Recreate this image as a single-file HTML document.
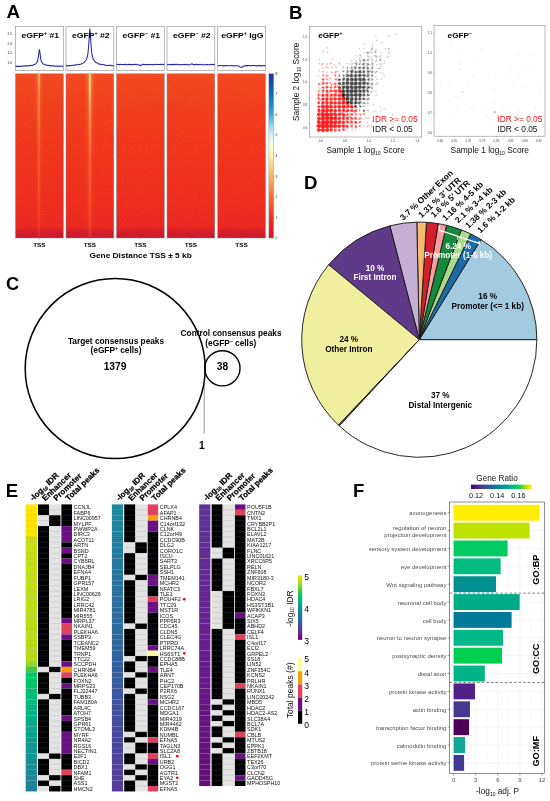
<!DOCTYPE html>
<html lang="en"><head><meta charset="utf-8"><title>Figure</title>
<style>
html,body{margin:0;padding:0;background:#fff}
body{width:550px;height:801px;overflow:hidden}
svg{display:block}
svg text{font-family:"Liberation Sans",sans-serif;fill:#000}
.b{font-weight:bold}
</style></head><body>
<svg width="550" height="801" viewBox="0 0 550 801">
<rect width="550" height="801" fill="#fff"/>
<defs>
<linearGradient id="hg" x1="0" y1="0" x2="0" y2="1"><stop offset="0" stop-color="#f34820"/><stop offset="0.08" stop-color="#f2421e"/><stop offset="0.4" stop-color="#f0351c"/><stop offset="0.8" stop-color="#ee2a1d"/><stop offset="0.93" stop-color="#ea2520"/><stop offset="0.965" stop-color="#d31a2a"/><stop offset="1" stop-color="#c81428"/></linearGradient>
<linearGradient id="st2" x1="0" y1="0" x2="1" y2="0"><stop offset="0" stop-color="#fff2b0" stop-opacity="0"/><stop offset="0.5" stop-color="#fff6c0" stop-opacity="1"/><stop offset="1" stop-color="#fff2b0" stop-opacity="0"/></linearGradient>
<linearGradient id="fade2" x1="0" y1="0" x2="0" y2="1"><stop offset="0" stop-color="#fff" stop-opacity="0.9"/><stop offset="1" stop-color="#fff" stop-opacity="0"/></linearGradient>
<mask id="mk2" maskContentUnits="objectBoundingBox"><rect width="1" height="1" fill="url(#fade2)"/></mask>
<linearGradient id="st1" x1="0" y1="0" x2="1" y2="0"><stop offset="0" stop-color="#fdb347" stop-opacity="0"/><stop offset="0.5" stop-color="#ffd468" stop-opacity="1"/><stop offset="1" stop-color="#fdb347" stop-opacity="0"/></linearGradient>
<linearGradient id="fade1" x1="0" y1="0" x2="0" y2="1"><stop offset="0" stop-color="#fff" stop-opacity="1"/><stop offset="0.2" stop-color="#fff" stop-opacity="0.62"/><stop offset="0.5" stop-color="#fff" stop-opacity="0.32"/><stop offset="1" stop-color="#fff" stop-opacity="0.12"/></linearGradient>
<mask id="mk1" maskContentUnits="objectBoundingBox"><rect width="1" height="1" fill="url(#fade1)"/></mask>
<linearGradient id="rdylbu" x1="0" y1="1" x2="0" y2="0"><stop offset="0" stop-color="#d61428"/><stop offset="0.06" stop-color="#e62024"/><stop offset="0.125" stop-color="#f03424"/><stop offset="0.25" stop-color="#fa6a34"/><stop offset="0.375" stop-color="#feb060"/><stop offset="0.5" stop-color="#fff2ac"/><stop offset="0.56" stop-color="#ffffe0"/><stop offset="0.625" stop-color="#d4f2f6"/><stop offset="0.6875" stop-color="#90d4ec"/><stop offset="0.75" stop-color="#3aa8dc"/><stop offset="0.8125" stop-color="#2088d0"/><stop offset="0.875" stop-color="#1468c0"/><stop offset="0.9375" stop-color="#1450b6"/><stop offset="1" stop-color="#222e9c"/></linearGradient>
<filter id="nz" x="0" y="0" width="100%" height="100%"><feTurbulence type="fractalNoise" baseFrequency="0.9" numOctaves="2" seed="3" result="t"/><feColorMatrix in="t" type="matrix" values="0 0 0 0 1  0 0 0 0 0.55  0 0 0 0 0.2  0.9 0 0 0 -0.33"/></filter>
</defs>
<text x="6.6" y="18.3" class="b" font-size="18.8">A</text>
<rect x="15.5" y="26.5" width="47.8" height="44.099999999999994" fill="#fff" stroke="#9a9a9a" stroke-width="0.7"/>
<path d="M15.50 66.35 L16.00 66.44 L16.50 66.15 L16.99 66.47 L17.49 66.20 L17.99 66.28 L18.49 66.45 L18.99 66.18 L19.48 66.44 L19.98 66.20 L20.48 66.39 L20.98 66.37 L21.48 66.17 L21.97 65.93 L22.47 66.30 L22.97 66.23 L23.47 65.98 L23.96 65.78 L24.46 65.97 L24.96 66.04 L25.46 65.69 L25.96 66.18 L26.45 65.70 L26.95 65.98 L27.45 66.02 L27.95 66.00 L28.45 65.84 L28.94 65.51 L29.44 65.81 L29.94 65.52 L30.44 65.42 L30.94 65.49 L31.43 65.31 L31.93 65.48 L32.43 65.38 L32.93 65.17 L33.42 64.76 L33.92 64.73 L34.42 64.60 L34.92 64.21 L35.42 63.99 L35.91 63.70 L36.41 62.92 L36.91 62.24 L37.41 61.39 L37.91 59.40 L38.40 56.46 L38.90 52.10 L39.40 49.66 L39.90 52.42 L40.40 56.21 L40.89 59.66 L41.39 61.29 L41.89 62.21 L42.39 63.28 L42.89 63.60 L43.38 64.23 L43.88 64.17 L44.38 64.35 L44.88 64.65 L45.38 64.65 L45.87 65.11 L46.37 65.02 L46.87 65.19 L47.37 65.29 L47.86 65.45 L48.36 65.31 L48.86 65.32 L49.36 65.65 L49.86 65.59 L50.35 65.98 L50.85 65.67 L51.35 65.74 L51.85 65.59 L52.35 65.72 L52.84 66.05 L53.34 66.02 L53.84 65.89 L54.34 66.28 L54.84 66.05 L55.33 66.24 L55.83 66.29 L56.33 66.34 L56.83 65.96 L57.32 66.33 L57.82 66.28 L58.32 66.21 L58.82 65.96 L59.32 66.41 L59.81 66.22 L60.31 66.17 L60.81 65.99 L61.31 66.04 L61.81 66.02 L62.30 66.36 L62.80 66.29 L63.30 66.33" fill="none" stroke="#2626a6" stroke-width="1.05" stroke-linejoin="round"/>
<line x1="14.6" x2="15.5" y1="62.50" y2="62.50" stroke="#777" stroke-width="0.35"/>
<line x1="14.6" x2="15.5" y1="53.15" y2="53.15" stroke="#777" stroke-width="0.35"/>
<line x1="14.6" x2="15.5" y1="43.80" y2="43.80" stroke="#777" stroke-width="0.35"/>
<line x1="14.6" x2="15.5" y1="34.45" y2="34.45" stroke="#777" stroke-width="0.35"/>
<line x1="39.40" x2="39.40" y1="70.6" y2="71.6" stroke="#777" stroke-width="0.35"/>
<text transform="translate(40.20 37.8) scale(1.12 1)" class="b" font-size="7.7" text-anchor="middle">eGFP<tspan dy="-2.54" font-size="4.77">+</tspan><tspan dy="2.54" font-size="7.70">&#8203;</tspan> #1</text>
<rect x="15.5" y="73.8" width="47.8" height="164.2" fill="url(#hg)"/>
<rect x="15.5" y="73.8" width="47.8" height="164.2" filter="url(#nz)" opacity="0.16"/>
<rect x="34.40" y="73.8" width="9" height="163.2" fill="url(#st1)" mask="url(#mk1)" opacity="0.3"/>
<rect x="37.20" y="73.8" width="3.4" height="163.2" fill="url(#st1)" mask="url(#mk1)" opacity="0.68"/>
<rect x="37.80" y="73.8" width="2.2" height="20" fill="url(#st2)" mask="url(#mk2)" opacity="0.4"/>
<rect x="15.5" y="73.8" width="47.8" height="164.2" fill="none" stroke="#8a8a8a" stroke-width="0.5"/>
<line x1="39.40" x2="39.40" y1="238.0" y2="239.2" stroke="#555" stroke-width="0.4"/>
<text transform="translate(39.40 246.7) scale(1.13 1)" class="b" font-size="5.7" text-anchor="middle">TSS</text>
<rect x="66.0" y="26.5" width="47.8" height="44.099999999999994" fill="#fff" stroke="#9a9a9a" stroke-width="0.7"/>
<path d="M66.00 65.53 L66.50 65.47 L67.00 65.90 L67.49 65.86 L67.99 65.81 L68.49 65.78 L68.99 65.61 L69.49 65.53 L69.98 65.68 L70.48 65.79 L70.98 65.53 L71.48 65.52 L71.97 65.37 L72.47 65.11 L72.97 65.22 L73.47 65.27 L73.97 65.16 L74.46 65.07 L74.96 65.36 L75.46 64.82 L75.96 64.82 L76.46 64.69 L76.95 64.65 L77.45 64.79 L77.95 64.69 L78.45 64.75 L78.95 64.34 L79.44 64.53 L79.94 64.39 L80.44 64.16 L80.94 64.02 L81.44 63.73 L81.93 63.69 L82.43 63.48 L82.93 63.14 L83.43 62.87 L83.92 62.39 L84.42 62.18 L84.92 61.24 L85.42 60.82 L85.92 60.37 L86.41 59.39 L86.91 58.09 L87.41 56.29 L87.91 53.71 L88.41 49.01 L88.90 42.20 L89.40 33.76 L89.90 28.85 L90.40 33.98 L90.90 42.70 L91.39 49.30 L91.89 53.63 L92.39 56.03 L92.89 58.20 L93.39 59.52 L93.88 59.92 L94.38 60.87 L94.88 61.65 L95.38 61.89 L95.88 62.57 L96.37 62.63 L96.87 62.68 L97.37 63.00 L97.87 63.33 L98.36 63.78 L98.86 63.90 L99.36 64.18 L99.86 64.00 L100.36 64.27 L100.85 64.26 L101.35 64.62 L101.85 64.79 L102.35 64.56 L102.85 64.55 L103.34 64.70 L103.84 64.80 L104.34 64.87 L104.84 64.97 L105.34 65.32 L105.83 65.21 L106.33 65.36 L106.83 65.59 L107.33 65.63 L107.82 65.53 L108.32 65.58 L108.82 65.37 L109.32 65.26 L109.82 65.58 L110.31 65.33 L110.81 65.33 L111.31 65.38 L111.81 65.73 L112.31 65.84 L112.80 65.85 L113.30 65.89 L113.80 65.91" fill="none" stroke="#2626a6" stroke-width="1.05" stroke-linejoin="round"/>
<line x1="65.1" x2="66.0" y1="62.50" y2="62.50" stroke="#777" stroke-width="0.35"/>
<line x1="65.1" x2="66.0" y1="53.15" y2="53.15" stroke="#777" stroke-width="0.35"/>
<line x1="65.1" x2="66.0" y1="43.80" y2="43.80" stroke="#777" stroke-width="0.35"/>
<line x1="65.1" x2="66.0" y1="34.45" y2="34.45" stroke="#777" stroke-width="0.35"/>
<line x1="89.90" x2="89.90" y1="70.6" y2="71.6" stroke="#777" stroke-width="0.35"/>
<text transform="translate(90.70 37.8) scale(1.12 1)" class="b" font-size="7.7" text-anchor="middle">eGFP<tspan dy="-2.54" font-size="4.77">+</tspan><tspan dy="2.54" font-size="7.70">&#8203;</tspan> #2</text>
<rect x="66.0" y="73.8" width="47.8" height="164.2" fill="url(#hg)"/>
<rect x="66.0" y="73.8" width="47.8" height="164.2" filter="url(#nz)" opacity="0.16"/>
<rect x="84.40" y="73.8" width="11" height="163.2" fill="url(#st1)" mask="url(#mk1)" opacity="0.4"/>
<rect x="87.90" y="73.8" width="4.0" height="163.2" fill="url(#st1)" mask="url(#mk1)"/>
<rect x="88.60" y="73.8" width="2.6" height="45" fill="url(#st2)" mask="url(#mk2)"/>
<rect x="66.0" y="73.8" width="47.8" height="164.2" fill="none" stroke="#8a8a8a" stroke-width="0.5"/>
<line x1="89.90" x2="89.90" y1="238.0" y2="239.2" stroke="#555" stroke-width="0.4"/>
<text transform="translate(89.90 246.7) scale(1.13 1)" class="b" font-size="5.7" text-anchor="middle">TSS</text>
<rect x="116.5" y="26.5" width="47.8" height="44.099999999999994" fill="#fff" stroke="#9a9a9a" stroke-width="0.7"/>
<path d="M116.50 64.49 L117.00 64.33 L117.50 64.37 L117.99 64.57 L118.49 64.47 L118.99 64.39 L119.49 64.79 L119.99 64.47 L120.48 64.33 L120.98 64.40 L121.48 64.42 L121.98 64.57 L122.47 64.74 L122.97 64.39 L123.47 64.65 L123.97 64.39 L124.47 64.29 L124.96 64.62 L125.46 64.61 L125.96 64.31 L126.46 64.43 L126.96 64.74 L127.45 64.77 L127.95 64.75 L128.45 64.33 L128.95 64.39 L129.45 64.76 L129.94 64.37 L130.44 64.29 L130.94 64.47 L131.44 64.64 L131.94 64.53 L132.43 64.76 L132.93 64.83 L133.43 64.29 L133.93 64.47 L134.43 64.54 L134.92 64.31 L135.42 64.59 L135.92 64.35 L136.42 64.37 L136.91 64.72 L137.41 64.70 L137.91 64.69 L138.41 64.76 L138.91 64.71 L139.40 65.16 L139.90 65.39 L140.40 65.70 L140.90 65.11 L141.40 65.11 L141.89 64.78 L142.39 64.57 L142.89 64.34 L143.39 64.60 L143.89 64.32 L144.38 64.56 L144.88 64.54 L145.38 64.54 L145.88 64.83 L146.38 64.59 L146.87 64.73 L147.37 64.84 L147.87 64.39 L148.37 64.74 L148.86 64.57 L149.36 64.43 L149.86 64.53 L150.36 64.65 L150.86 64.55 L151.35 64.53 L151.85 64.40 L152.35 64.78 L152.85 64.52 L153.35 64.70 L153.84 64.68 L154.34 64.40 L154.84 64.55 L155.34 64.52 L155.84 64.41 L156.33 64.33 L156.83 64.59 L157.33 64.49 L157.83 64.55 L158.32 64.55 L158.82 64.45 L159.32 64.58 L159.82 64.54 L160.32 64.57 L160.81 64.31 L161.31 64.45 L161.81 64.35 L162.31 64.31 L162.81 64.69 L163.30 64.52 L163.80 64.31 L164.30 64.37" fill="none" stroke="#2626a6" stroke-width="1.05" stroke-linejoin="round"/>
<line x1="115.6" x2="116.5" y1="62.50" y2="62.50" stroke="#777" stroke-width="0.35"/>
<line x1="115.6" x2="116.5" y1="53.15" y2="53.15" stroke="#777" stroke-width="0.35"/>
<line x1="115.6" x2="116.5" y1="43.80" y2="43.80" stroke="#777" stroke-width="0.35"/>
<line x1="115.6" x2="116.5" y1="34.45" y2="34.45" stroke="#777" stroke-width="0.35"/>
<line x1="140.40" x2="140.40" y1="70.6" y2="71.6" stroke="#777" stroke-width="0.35"/>
<text transform="translate(141.20 37.8) scale(1.12 1)" class="b" font-size="7.7" text-anchor="middle">eGFP<tspan dy="-2.54" font-size="4.77">−</tspan><tspan dy="2.54" font-size="7.70">&#8203;</tspan> #1</text>
<rect x="116.5" y="73.8" width="47.8" height="164.2" fill="url(#hg)"/>
<rect x="116.5" y="73.8" width="47.8" height="164.2" filter="url(#nz)" opacity="0.16"/>
<rect x="116.5" y="73.8" width="47.8" height="164.2" fill="none" stroke="#8a8a8a" stroke-width="0.5"/>
<line x1="140.40" x2="140.40" y1="238.0" y2="239.2" stroke="#555" stroke-width="0.4"/>
<text transform="translate(140.40 246.7) scale(1.13 1)" class="b" font-size="5.7" text-anchor="middle">TSS</text>
<rect x="167.0" y="26.5" width="47.8" height="44.099999999999994" fill="#fff" stroke="#9a9a9a" stroke-width="0.7"/>
<path d="M167.00 64.76 L167.50 64.77 L168.00 64.59 L168.49 64.80 L168.99 64.70 L169.49 64.80 L169.99 64.46 L170.49 64.40 L170.98 64.33 L171.48 64.75 L171.98 64.44 L172.48 64.47 L172.97 64.76 L173.47 64.34 L173.97 64.29 L174.47 64.71 L174.97 64.30 L175.46 64.61 L175.96 64.56 L176.46 64.28 L176.96 64.37 L177.46 64.75 L177.95 64.60 L178.45 64.55 L178.95 64.65 L179.45 64.73 L179.95 64.66 L180.44 64.43 L180.94 64.83 L181.44 64.53 L181.94 64.59 L182.44 64.83 L182.93 64.65 L183.43 64.49 L183.93 64.55 L184.43 64.80 L184.93 64.28 L185.42 64.40 L185.92 64.29 L186.42 64.78 L186.92 64.69 L187.41 64.82 L187.91 64.41 L188.41 64.73 L188.91 64.90 L189.41 64.88 L189.90 64.62 L190.40 64.39 L190.90 64.25 L191.40 64.05 L191.90 63.74 L192.39 64.24 L192.89 64.36 L193.39 64.77 L193.89 64.80 L194.39 64.45 L194.88 64.60 L195.38 64.80 L195.88 64.31 L196.38 64.48 L196.88 64.39 L197.37 64.79 L197.87 64.36 L198.37 64.80 L198.87 64.35 L199.36 64.58 L199.86 64.65 L200.36 64.53 L200.86 64.32 L201.36 64.69 L201.85 64.77 L202.35 64.54 L202.85 64.70 L203.35 64.78 L203.85 64.75 L204.34 64.81 L204.84 64.72 L205.34 64.66 L205.84 64.67 L206.34 64.41 L206.83 64.67 L207.33 64.56 L207.83 64.74 L208.33 64.64 L208.82 64.83 L209.32 64.70 L209.82 64.83 L210.32 64.43 L210.82 64.53 L211.31 64.73 L211.81 64.57 L212.31 64.31 L212.81 64.78 L213.31 64.38 L213.80 64.60 L214.30 64.56 L214.80 64.37" fill="none" stroke="#2626a6" stroke-width="1.05" stroke-linejoin="round"/>
<line x1="166.1" x2="167.0" y1="62.50" y2="62.50" stroke="#777" stroke-width="0.35"/>
<line x1="166.1" x2="167.0" y1="53.15" y2="53.15" stroke="#777" stroke-width="0.35"/>
<line x1="166.1" x2="167.0" y1="43.80" y2="43.80" stroke="#777" stroke-width="0.35"/>
<line x1="166.1" x2="167.0" y1="34.45" y2="34.45" stroke="#777" stroke-width="0.35"/>
<line x1="190.90" x2="190.90" y1="70.6" y2="71.6" stroke="#777" stroke-width="0.35"/>
<text transform="translate(191.70 37.8) scale(1.12 1)" class="b" font-size="7.7" text-anchor="middle">eGFP<tspan dy="-2.54" font-size="4.77">−</tspan><tspan dy="2.54" font-size="7.70">&#8203;</tspan> #2</text>
<rect x="167.0" y="73.8" width="47.8" height="164.2" fill="url(#hg)"/>
<rect x="167.0" y="73.8" width="47.8" height="164.2" filter="url(#nz)" opacity="0.16"/>
<rect x="167.0" y="73.8" width="47.8" height="164.2" fill="none" stroke="#8a8a8a" stroke-width="0.5"/>
<line x1="190.90" x2="190.90" y1="238.0" y2="239.2" stroke="#555" stroke-width="0.4"/>
<text transform="translate(190.90 246.7) scale(1.13 1)" class="b" font-size="5.7" text-anchor="middle">TSS</text>
<rect x="217.7" y="26.5" width="47.8" height="44.099999999999994" fill="#fff" stroke="#9a9a9a" stroke-width="0.7"/>
<path d="M217.70 65.74 L218.20 65.68 L218.70 65.57 L219.19 65.41 L219.69 65.77 L220.19 65.49 L220.69 65.56 L221.19 65.60 L221.68 65.73 L222.18 65.76 L222.68 65.93 L223.18 65.89 L223.67 65.92 L224.17 65.54 L224.67 65.82 L225.17 65.87 L225.67 65.91 L226.16 65.49 L226.66 65.47 L227.16 65.58 L227.66 65.80 L228.16 65.82 L228.65 65.80 L229.15 65.70 L229.65 65.87 L230.15 65.71 L230.65 65.81 L231.14 65.42 L231.64 65.41 L232.14 65.65 L232.64 65.82 L233.14 65.42 L233.63 65.79 L234.13 65.76 L234.63 65.96 L235.13 65.75 L235.62 65.69 L236.12 65.68 L236.62 65.85 L237.12 65.69 L237.62 65.99 L238.11 65.89 L238.61 66.09 L239.11 66.09 L239.61 66.56 L240.11 66.91 L240.60 67.10 L241.10 67.41 L241.60 67.31 L242.10 67.24 L242.60 66.85 L243.09 66.55 L243.59 66.18 L244.09 65.82 L244.59 65.92 L245.09 65.86 L245.58 65.44 L246.08 65.89 L246.58 65.56 L247.08 65.60 L247.57 65.94 L248.07 65.49 L248.57 65.46 L249.07 65.61 L249.57 65.55 L250.06 65.50 L250.56 65.88 L251.06 65.67 L251.56 65.68 L252.06 65.49 L252.55 65.51 L253.05 65.50 L253.55 65.63 L254.05 65.46 L254.55 65.58 L255.04 65.57 L255.54 65.83 L256.04 65.94 L256.54 65.88 L257.04 65.76 L257.53 65.90 L258.03 65.49 L258.53 65.65 L259.03 65.61 L259.52 65.61 L260.02 65.58 L260.52 65.69 L261.02 65.96 L261.52 65.51 L262.01 65.54 L262.51 65.68 L263.01 65.66 L263.51 65.59 L264.01 65.92 L264.50 65.55 L265.00 65.82 L265.50 65.92" fill="none" stroke="#2626a6" stroke-width="1.05" stroke-linejoin="round"/>
<line x1="216.79999999999998" x2="217.7" y1="62.50" y2="62.50" stroke="#777" stroke-width="0.35"/>
<line x1="216.79999999999998" x2="217.7" y1="53.15" y2="53.15" stroke="#777" stroke-width="0.35"/>
<line x1="216.79999999999998" x2="217.7" y1="43.80" y2="43.80" stroke="#777" stroke-width="0.35"/>
<line x1="216.79999999999998" x2="217.7" y1="34.45" y2="34.45" stroke="#777" stroke-width="0.35"/>
<line x1="241.60" x2="241.60" y1="70.6" y2="71.6" stroke="#777" stroke-width="0.35"/>
<text transform="translate(242.40 37.8) scale(1.12 1)" class="b" font-size="7.7" text-anchor="middle">eGFP<tspan dy="-2.54" font-size="4.77">+</tspan><tspan dy="2.54" font-size="7.70">&#8203;</tspan> IgG</text>
<rect x="217.7" y="73.8" width="47.8" height="164.2" fill="url(#hg)"/>
<rect x="217.7" y="73.8" width="47.8" height="164.2" filter="url(#nz)" opacity="0.16"/>
<rect x="217.7" y="73.8" width="47.8" height="164.2" fill="none" stroke="#8a8a8a" stroke-width="0.5"/>
<line x1="241.60" x2="241.60" y1="238.0" y2="239.2" stroke="#555" stroke-width="0.4"/>
<text transform="translate(241.60 246.7) scale(1.13 1)" class="b" font-size="5.7" text-anchor="middle">TSS</text>
<text x="12.2" y="63.50" font-size="3.3" text-anchor="end" style="fill:#222">1.0</text>
<text x="12.2" y="54.15" font-size="3.3" text-anchor="end" style="fill:#222">1.5</text>
<text x="12.2" y="44.80" font-size="3.3" text-anchor="end" style="fill:#222">2.0</text>
<text x="12.2" y="35.45" font-size="3.3" text-anchor="end" style="fill:#222">2.5</text>
<rect x="268.9" y="73.8" width="4.7" height="164.2" fill="url(#rdylbu)" stroke="#888" stroke-width="0.4"/>
<line x1="273.6" x2="274.5" y1="238.00" y2="238.00" stroke="#555" stroke-width="0.35"/>
<text x="275.6" y="239.10" font-size="3.4" style="fill:#222">0</text>
<line x1="273.6" x2="274.5" y1="217.47" y2="217.47" stroke="#555" stroke-width="0.35"/>
<text x="275.6" y="218.57" font-size="3.4" style="fill:#222">1</text>
<line x1="273.6" x2="274.5" y1="196.95" y2="196.95" stroke="#555" stroke-width="0.35"/>
<text x="275.6" y="198.05" font-size="3.4" style="fill:#222">2</text>
<line x1="273.6" x2="274.5" y1="176.43" y2="176.43" stroke="#555" stroke-width="0.35"/>
<text x="275.6" y="177.53" font-size="3.4" style="fill:#222">3</text>
<line x1="273.6" x2="274.5" y1="155.90" y2="155.90" stroke="#555" stroke-width="0.35"/>
<text x="275.6" y="157.00" font-size="3.4" style="fill:#222">4</text>
<line x1="273.6" x2="274.5" y1="135.38" y2="135.38" stroke="#555" stroke-width="0.35"/>
<text x="275.6" y="136.47" font-size="3.4" style="fill:#222">5</text>
<line x1="273.6" x2="274.5" y1="114.85" y2="114.85" stroke="#555" stroke-width="0.35"/>
<text x="275.6" y="115.95" font-size="3.4" style="fill:#222">6</text>
<line x1="273.6" x2="274.5" y1="94.33" y2="94.33" stroke="#555" stroke-width="0.35"/>
<text x="275.6" y="95.43" font-size="3.4" style="fill:#222">7</text>
<line x1="273.6" x2="274.5" y1="73.80" y2="73.80" stroke="#555" stroke-width="0.35"/>
<text x="275.6" y="74.90" font-size="3.4" style="fill:#222">8</text>
<text transform="translate(140.6 258.2) scale(1.1 1)" class="b" font-size="7.6" text-anchor="middle">Gene Distance TSS ± 5 kb</text>
<text x="288.9" y="18.8" class="b" font-size="18.6">B</text>
<rect x="309.4" y="26.6" width="112.30" height="110.40" fill="#fff" stroke="#8c8c8c" stroke-width="0.6"/>
<rect x="434.1" y="25.5" width="110.90" height="110.70" fill="#fff" stroke="#8c8c8c" stroke-width="0.6"/>
<clipPath id="cb1"><rect x="309.9" y="27.1" width="111.30" height="109.40"/></clipPath>
<g clip-path="url(#cb1)" fill="none" stroke-linecap="round" stroke-width="1.65">
<path d="M338.5 122.2h0M331.1 125.8h0M322.7 129.7h0M327.1 118.9h0M323.0 122.5h0M327.1 94.6h0M343.6 111.3h0M332.1 126.4h0M322.7 126.5h0M327.2 122.9h0M343.0 117.9h0M338.3 114.7h0M322.4 122.3h0M322.2 117.8h0M317.4 126.2h0M331.4 123.0h0M322.6 102.4h0M335.7 118.5h0M323.9 129.8h0M327.2 122.2h0M326.4 118.9h0M327.7 122.1h0M325.8 113.8h0M340.0 107.2h0M331.4 110.8h0M323.1 79.0h0M322.3 118.5h0M334.7 113.4h0M335.8 126.6h0M323.4 114.1h0M327.7 105.6h0M330.3 118.4h0M323.1 125.8h0M338.8 122.2h0M327.0 117.8h0M343.4 102.0h0M324.2 126.4h0M331.3 97.9h0M326.1 118.6h0M322.4 123.0h0M338.9 111.5h0M327.2 125.2h0M335.4 121.8h0M323.2 115.4h0M318.6 126.4h0M318.5 130.0h0M343.2 100.3h0M327.2 115.1h0M331.7 127.4h0M319.1 130.1h0M326.9 123.5h0M319.0 114.6h0M339.1 98.1h0M323.3 103.5h0M331.1 99.1h0M340.0 88.3h0M318.5 129.8h0M336.3 103.7h0M322.7 106.2h0M318.7 123.0h0M323.3 110.5h0M319.0 121.7h0M323.0 121.3h0M327.2 119.1h0M327.6 122.2h0M344.7 111.3h0M317.7 130.1h0M320.5 129.6h0M331.8 125.9h0M326.1 95.4h0M322.4 114.2h0M319.3 130.6h0M323.2 125.2h0M322.2 107.2h0M331.0 121.7h0M351.2 119.8h0M327.8 122.8h0M330.3 117.6h0M326.9 122.1h0M343.5 95.2h0M339.8 94.8h0M318.3 129.7h0M322.0 126.0h0M327.3 124.1h0M338.9 102.8h0M323.0 104.9h0M330.5 87.3h0M335.5 114.1h0M320.0 125.4h0M322.2 118.8h0M334.8 118.4h0M322.1 121.8h0M327.2 99.9h0M318.6 129.9h0M322.8 126.1h0M331.0 118.0h0M326.5 118.7h0M331.5 117.3h0M331.2 118.8h0M346.6 111.1h0M323.4 117.3h0M327.1 102.2h0M342.2 91.6h0M327.3 94.8h0M323.6 95.0h0M332.1 106.8h0M327.0 91.4h0M328.0 118.2h0M325.9 118.7h0M328.1 126.4h0M322.5 118.3h0M334.2 91.6h0M343.6 111.2h0M323.1 126.8h0M343.3 125.9h0M330.7 106.3h0M352.2 107.4h0M327.4 89.8h0M335.5 114.4h0M319.8 114.5h0M324.3 113.9h0M320.1 127.3h0M336.5 115.0h0M322.7 127.4h0M327.8 114.3h0M320.0 119.2h0M343.7 125.3h0M331.2 106.5h0M324.2 99.0h0M322.7 83.0h0M331.0 121.9h0M328.3 117.4h0M361.2 118.2h0M340.1 118.0h0M334.9 121.8h0M343.4 116.6h0M319.5 126.3h0M331.8 83.0h0M334.6 107.2h0M343.4 126.0h0M324.2 114.6h0M334.8 122.5h0M335.4 126.4h0M323.2 125.3h0M326.9 118.5h0M331.4 117.7h0M326.4 117.7h0M343.3 129.1h0M348.6 105.5h0M323.0 125.9h0M324.4 118.2h0M331.7 85.3h0M335.7 93.9h0M324.3 129.7h0M322.8 118.6h0M330.7 112.0h0M318.6 125.4h0M338.2 102.7h0M338.5 131.0h0M331.7 125.6h0M339.4 114.8h0M335.5 111.6h0M328.3 114.2h0M334.3 118.2h0M323.2 99.0h0M342.4 110.0h0M326.8 129.7h0M347.8 110.6h0M330.5 117.7h0M318.6 121.2h0M319.8 130.5h0M331.4 126.4h0M327.4 116.9h0M339.8 107.6h0M318.9 114.5h0M330.1 115.6h0M329.8 122.1h0M327.4 113.4h0M355.5 111.4h0M334.9 126.4h0M331.2 122.6h0M335.2 113.9h0M331.2 102.9h0M322.6 117.3h0M339.8 114.5h0M324.7 118.4h0M331.2 113.9h0M319.9 125.7h0M327.9 122.0h0M330.2 130.3h0M326.1 119.1h0M327.3 121.2h0M321.4 125.8h0M323.0 109.5h0M319.3 126.3h0M346.2 106.5h0M335.6 110.2h0M331.8 122.8h0M322.4 126.3h0M327.1 91.5h0M355.9 121.4h0M331.1 72.1h0M327.1 118.0h0M351.8 121.2h0M330.7 124.1h0M346.8 101.8h0M327.9 121.7h0M326.5 123.3h0M340.0 91.7h0M339.7 105.8h0M331.3 126.0h0M326.5 126.6h0M326.8 99.4h0M352.8 114.9h0M318.0 125.9h0M343.1 114.8h0M318.0 130.3h0M323.2 124.7h0M351.7 122.3h0M325.6 122.2h0M323.0 114.2h0M326.4 121.7h0M322.5 126.3h0M330.5 121.1h0M335.9 103.0h0M326.0 122.9h0M340.2 117.5h0M322.5 111.2h0M351.3 106.3h0M330.6 118.7h0M339.1 110.9h0M338.5 106.5h0M336.3 125.8h0M323.4 114.0h0M343.1 102.9h0M326.5 122.1h0M327.3 97.6h0M322.9 126.4h0M322.1 129.8h0M318.1 122.0h0M330.4 126.4h0M336.3 95.7h0M346.9 121.9h0M322.3 125.4h0M326.9 122.1h0M326.4 114.5h0M323.4 125.6h0M339.4 87.0h0M330.5 122.1h0M338.9 125.8h0M327.5 121.1h0M326.7 125.0h0M318.1 130.5h0M360.9 114.6h0M320.2 111.1h0M346.8 102.4h0M351.4 110.9h0M323.1 124.6h0M342.6 96.8h0M343.4 94.8h0M323.2 125.4h0M326.1 126.1h0M343.7 101.7h0M339.4 122.8h0M355.0 109.9h0M327.5 121.9h0M336.2 126.1h0M343.1 118.3h0M339.9 118.6h0M320.2 95.1h0M318.9 125.1h0M323.5 125.7h0M352.3 125.5h0M336.1 113.9h0M330.9 125.1h0M322.7 110.3h0M327.0 122.2h0M334.8 111.1h0M318.1 118.7h0M327.1 114.1h0M326.1 121.8h0M327.6 119.3h0M343.7 98.8h0M328.8 126.7h0M330.5 121.9h0M339.2 110.8h0M352.3 126.4h0M342.6 106.1h0M323.8 119.4h0M323.6 130.9h0M326.7 118.1h0M331.9 110.7h0M327.3 117.8h0M326.1 123.0h0M327.5 114.1h0M339.3 110.5h0M336.1 118.8h0M335.2 114.0h0M323.3 119.2h0M324.3 106.7h0M323.2 118.3h0M322.6 126.6h0M335.2 74.6h0M330.7 106.1h0M343.2 106.5h0M319.2 102.9h0M327.3 107.0h0M322.5 122.2h0M331.8 119.4h0M317.9 122.5h0M327.6 118.0h0M322.0 105.0h0M326.5 129.9h0M323.6 126.9h0M331.1 118.4h0M326.1 118.3h0M331.4 121.8h0M331.9 118.0h0M327.6 118.7h0M343.9 111.3h0M323.4 71.6h0M343.3 106.5h0M318.7 122.1h0M318.7 95.0h0M339.6 121.5h0M322.9 113.0h0M334.9 83.7h0M326.9 116.2h0M347.4 103.2h0M332.0 105.8h0M318.5 99.8h0M334.2 122.9h0M326.9 126.0h0M335.3 103.1h0M335.4 119.1h0M321.4 117.5h0M326.3 98.6h0M332.2 125.8h0M331.6 103.0h0M318.1 125.9h0M339.7 118.8h0M322.3 115.1h0M318.9 120.8h0M327.0 109.6h0M344.3 122.3h0M319.6 110.3h0M324.5 125.5h0M323.3 103.1h0M339.4 110.9h0M330.6 118.0h0M343.3 102.7h0M347.5 104.0h0M332.8 118.6h0M339.8 102.8h0M323.7 110.0h0M326.7 118.1h0M335.2 114.7h0M331.1 95.4h0M344.2 126.7h0M322.9 121.9h0M335.0 121.6h0M318.1 105.6h0M340.0 117.6h0M321.8 129.5h0M332.0 126.0h0M319.0 125.4h0M327.0 129.9h0M330.1 117.4h0M326.3 125.5h0M323.2 121.1h0M326.3 125.2h0M327.7 119.4h0M327.7 119.2h0M323.4 122.7h0M322.7 95.1h0M327.0 113.4h0M330.2 117.3h0M334.7 98.1h0M335.3 106.2h0M331.6 121.8h0M322.6 123.1h0M327.6 118.2h0M322.9 106.6h0M322.8 114.3h0M318.3 129.9h0M331.3 125.7h0M335.6 94.7h0M335.8 98.1h0M355.7 111.8h0M318.1 117.8h0M344.2 114.9h0M330.9 125.2h0M323.8 122.2h0M322.5 125.9h0M328.4 126.7h0M323.2 121.6h0M323.9 107.9h0M351.0 110.0h0M335.6 110.2h0M319.6 118.1h0M322.5 130.5h0M327.3 122.2h0M339.3 126.1h0M327.4 123.7h0M322.7 129.6h0M340.0 91.5h0M338.2 104.1h0M323.5 130.3h0M335.2 125.5h0M326.9 102.5h0M347.1 102.8h0M322.2 126.8h0M327.1 122.9h0M338.6 118.1h0M336.3 118.5h0M322.0 114.7h0M329.8 106.0h0M326.3 117.5h0M322.3 122.8h0M318.8 121.1h0M326.9 123.1h0M331.1 111.5h0M323.9 116.3h0M339.5 87.7h0M326.0 126.4h0M327.2 105.7h0M331.2 120.8h0M323.6 118.0h0M331.9 114.5h0M322.6 127.3h0M338.1 125.8h0M339.7 113.6h0M322.7 117.0h0M335.1 123.2h0M327.3 122.1h0M318.4 125.3h0M322.7 130.2h0M339.3 118.6h0M323.2 110.1h0M347.5 114.4h0M330.9 113.5h0M342.8 99.7h0M343.0 102.8h0M326.1 94.7h0M318.3 95.9h0M334.6 119.0h0M335.2 121.8h0M323.1 125.8h0M328.0 102.2h0M322.3 119.4h0M323.1 100.2h0M319.2 100.1h0M331.8 106.2h0M335.6 84.8h0M326.8 125.6h0M323.2 118.3h0M330.4 103.9h0M327.3 122.1h0M319.5 106.8h0M327.9 115.7h0M323.7 126.0h0M322.3 122.4h0M339.4 98.9h0M335.8 114.6h0M331.8 117.6h0M331.1 111.3h0M323.2 118.3h0M323.4 124.4h0M339.2 94.9h0M332.1 117.7h0M322.5 122.4h0M340.1 95.6h0M326.3 110.9h0M321.3 125.3h0M331.9 101.6h0M331.2 125.2h0M339.8 102.9h0M371.8 127.3h0M340.2 113.1h0M327.9 125.5h0M327.4 122.4h0M327.2 122.5h0M332.2 106.1h0M326.8 110.6h0M327.3 103.8h0M326.9 121.3h0M319.0 129.8h0M326.6 118.5h0M332.6 113.8h0M326.6 130.1h0M338.2 102.4h0M332.3 121.4h0M322.2 126.1h0M331.4 106.9h0M331.1 111.4h0M322.5 126.3h0M327.1 113.8h0M332.2 125.7h0M356.4 111.1h0M330.9 122.5h0M322.4 125.0h0M330.7 117.6h0M322.3 110.6h0M334.7 126.4h0M319.8 113.1h0M332.4 125.8h0M322.0 122.9h0M318.6 123.2h0M331.1 118.3h0M335.8 121.9h0M327.0 110.3h0M336.5 90.5h0M322.2 102.7h0M345.0 106.8h0M324.8 118.5h0M319.5 113.4h0M343.7 125.4h0M327.7 110.5h0M326.6 119.4h0M329.9 110.9h0M359.6 122.2h0M327.3 123.0h0M325.8 126.0h0M347.3 125.5h0M323.3 121.8h0M334.5 117.9h0M335.6 126.4h0M323.1 126.9h0M352.2 113.7h0M339.1 95.8h0M346.9 113.1h0M332.1 102.0h0M326.8 120.9h0M318.7 118.7h0M323.6 113.7h0M322.5 110.4h0M322.8 126.2h0M327.4 122.5h0M331.7 113.7h0M327.8 125.1h0M332.5 119.1h0M322.7 118.3h0M338.2 101.9h0M319.3 106.6h0M326.4 130.8h0M331.4 116.9h0M335.2 118.1h0M346.9 126.4h0M331.2 102.5h0M327.5 110.4h0M331.5 91.3h0M327.5 114.3h0M347.3 118.8h0M324.1 106.9h0M332.0 107.1h0M337.9 104.5h0M331.5 119.3h0M326.7 121.6h0M327.0 122.2h0M326.2 118.0h0M326.2 121.5h0M356.7 114.7h0M326.9 129.9h0M354.6 118.1h0M327.6 113.7h0M327.3 106.6h0M327.2 113.6h0M338.0 99.0h0M331.0 122.8h0M332.1 115.1h0M323.7 122.0h0M332.7 110.2h0M322.7 110.7h0M335.7 94.7h0M334.5 110.2h0M335.5 106.4h0M327.0 122.5h0M318.4 118.4h0M323.2 126.2h0M326.0 111.4h0M335.1 111.4h0M328.0 121.7h0M326.6 104.0h0M330.6 119.1h0M324.6 125.6h0M339.7 121.3h0M323.3 121.4h0M330.8 123.0h0M322.6 123.1h0M335.0 123.1h0M331.7 118.6h0M346.9 101.8h0M327.2 125.9h0M333.0 122.5h0M323.3 113.4h0M330.0 121.1h0M326.9 106.6h0M322.2 114.7h0M327.9 122.7h0M327.3 121.6h0M334.7 130.9h0M326.3 125.2h0M339.1 121.5h0M352.5 110.8h0M318.4 110.4h0M334.4 102.9h0M322.8 118.4h0M330.4 122.0h0M335.8 123.1h0M351.5 106.0h0M343.6 98.3h0M331.8 118.3h0M323.4 118.0h0M319.4 130.2h0M327.0 125.3h0M319.2 129.8h0M343.9 123.4h0M344.3 98.9h0M335.1 114.5h0M322.7 126.7h0M319.0 126.6h0M327.4 121.8h0M326.6 78.9h0M327.1 107.1h0M322.8 119.2h0M326.6 114.5h0M327.7 99.2h0M334.4 111.2h0M367.2 122.7h0M319.0 125.9h0M318.4 125.8h0M339.6 99.4h0M331.2 109.4h0M336.5 114.1h0M326.6 118.7h0M331.9 126.0h0M322.7 110.7h0M339.3 121.6h0M322.5 99.4h0M322.1 118.9h0M322.7 114.5h0M325.7 118.6h0M322.8 126.0h0M322.4 118.5h0M323.5 126.7h0M318.8 111.4h0M319.0 103.2h0M331.0 122.5h0M335.5 119.2h0M327.2 87.0h0M327.6 103.3h0M339.2 122.8h0M319.3 121.7h0M324.0 105.8h0M342.9 99.9h0M328.0 121.4h0M347.9 110.9h0M324.2 122.5h0M335.3 125.8h0M322.4 122.6h0M332.6 95.1h0M328.0 121.8h0M343.0 114.8h0M328.0 130.4h0M327.2 99.1h0M334.4 111.8h0M327.4 110.4h0M327.3 126.5h0M322.7 122.3h0M332.3 118.1h0M323.0 126.0h0M334.4 87.9h0M330.8 125.6h0M323.5 108.0h0M322.3 122.0h0M338.1 99.0h0M330.6 90.9h0M331.0 110.1h0M326.8 122.4h0M347.3 127.0h0M326.2 114.2h0M322.4 122.2h0M377.1 115.4h0M335.6 99.2h0M326.3 119.0h0M339.4 105.6h0M317.6 130.0h0M339.1 114.7h0M326.9 121.7h0M327.0 121.7h0M323.7 115.0h0M343.1 118.3h0M322.6 124.7h0M331.3 127.1h0M335.1 106.0h0M335.0 113.6h0M323.9 118.0h0M340.8 98.6h0M322.8 99.4h0M326.0 83.7h0M326.7 126.1h0M323.1 122.7h0M321.5 106.9h0M326.6 121.4h0M351.2 106.5h0M319.4 125.7h0M323.9 127.4h0M342.8 102.3h0M319.1 114.6h0M322.5 106.3h0M339.3 115.1h0M347.8 109.9h0M324.1 122.9h0M329.9 114.7h0M352.2 130.1h0M327.1 103.3h0M330.8 118.6h0M326.9 122.2h0M330.2 122.5h0M318.3 122.1h0M330.3 99.5h0M331.7 84.1h0M322.8 121.8h0M336.0 122.7h0M322.3 102.6h0M322.5 111.3h0M326.1 118.1h0M323.2 125.3h0M356.0 123.5h0M331.3 110.6h0M334.9 122.5h0M318.7 126.2h0M322.8 126.5h0M318.9 127.1h0M334.5 106.5h0M343.3 102.5h0M322.3 117.6h0M322.8 123.1h0M329.9 113.7h0M322.6 115.5h0M331.5 121.3h0M327.5 130.9h0M343.7 103.1h0M323.3 90.6h0M344.0 98.9h0M339.6 123.0h0M343.9 99.7h0M351.0 118.0h0M330.7 130.5h0M318.5 118.2h0M331.7 118.4h0M335.3 125.0h0M339.5 126.5h0M339.1 91.1h0M319.5 119.2h0M335.4 113.2h0M330.9 114.7h0M348.5 106.9h0M336.1 115.8h0M343.8 94.9h0M324.1 119.0h0M327.2 106.2h0M323.4 122.4h0M339.1 102.5h0M326.5 117.6h0M326.2 114.8h0M322.8 123.3h0M319.6 117.1h0M329.7 105.4h0M326.1 83.3h0M344.3 102.1h0M327.2 102.2h0M322.8 127.1h0M331.1 122.4h0M331.4 118.9h0M322.3 125.3h0M327.3 75.1h0M324.6 117.9h0M350.7 121.1h0M322.8 110.3h0M331.9 111.4h0M331.4 103.7h0M327.0 122.0h0M330.6 129.6h0M326.4 122.3h0M346.6 125.5h0M332.0 111.1h0M338.9 102.5h0M331.0 130.9h0M326.9 117.0h0M343.0 103.4h0M319.3 118.3h0M333.9 126.4h0M341.2 95.4h0M338.6 91.5h0M327.8 114.4h0M331.2 106.3h0M342.6 106.1h0M318.4 121.9h0M322.2 105.8h0M327.8 114.1h0M317.9 121.1h0M326.6 112.8h0M335.5 117.9h0M332.3 122.8h0M339.0 121.6h0M319.5 106.9h0M327.1 118.6h0M322.6 125.8h0M327.1 130.0h0M326.3 118.8h0M340.0 94.9h0M335.8 115.1h0M323.4 114.1h0M327.5 83.6h0M318.7 114.6h0M319.2 125.3h0M330.5 114.8h0M335.2 114.7h0M326.9 125.9h0M331.1 63.1h0M334.9 125.0h0M323.3 118.4h0M323.1 129.9h0M319.4 122.0h0M317.8 114.1h0M343.1 120.1h0M331.7 98.7h0M323.7 113.4h0M335.0 122.5h0M327.8 111.0h0M327.8 115.2h0M344.6 106.2h0M350.9 110.1h0M323.7 111.3h0M359.9 117.8h0M326.6 92.3h0M330.9 114.7h0M331.3 110.8h0M335.0 102.2h0M332.3 102.8h0M323.2 110.6h0M334.9 87.0h0M340.2 92.0h0M356.4 127.1h0M326.7 122.2h0M322.6 125.9h0M342.4 118.5h0M322.8 110.3h0M330.7 127.3h0M317.5 129.4h0M335.6 119.0h0M319.6 107.0h0M326.2 126.0h0M339.0 127.3h0M338.9 98.8h0M342.7 125.2h0M317.4 98.2h0M327.4 114.4h0M330.2 122.1h0M323.2 125.8h0M317.8 129.3h0M322.4 117.7h0M323.4 90.2h0M326.7 121.8h0M336.3 122.4h0M326.5 122.7h0M323.2 125.9h0M322.3 111.9h0M323.1 99.3h0M353.2 107.2h0M322.1 113.9h0M347.7 122.1h0M323.0 113.6h0M347.8 126.9h0M322.4 125.3h0M323.2 102.3h0M342.5 95.8h0M330.7 125.6h0M330.7 125.6h0M322.2 125.3h0M335.4 118.0h0M323.0 115.5h0M331.1 97.6h0M322.5 117.7h0M343.3 107.1h0M340.5 95.7h0M326.7 118.5h0M326.5 114.7h0M339.1 87.2h0M323.1 126.8h0M331.5 125.3h0M330.1 115.5h0M322.3 123.2h0M335.3 106.5h0M348.6 110.6h0M363.1 114.1h0M322.6 126.9h0M334.8 114.6h0M339.5 98.9h0M335.6 117.8h0M335.6 126.8h0M334.5 114.2h0M342.7 118.9h0M335.8 110.7h0M319.4 115.0h0M339.8 126.9h0M323.2 98.5h0M332.1 125.3h0M336.5 119.0h0M327.3 118.9h0M338.0 103.7h0M326.3 114.7h0M326.0 117.5h0M347.4 126.2h0M329.6 117.6h0M347.7 126.7h0M318.3 122.1h0M331.5 117.6h0M343.2 121.9h0M332.0 126.4h0M331.0 106.4h0M323.3 125.7h0M331.9 117.7h0M331.7 125.0h0M322.5 114.1h0M317.9 120.8h0M334.8 121.6h0M322.7 121.6h0M322.5 120.0h0M335.6 121.5h0M322.5 126.7h0M326.6 126.8h0M331.3 117.8h0M331.2 111.9h0M323.3 122.5h0M322.7 126.1h0M330.0 110.1h0M339.3 118.3h0M322.0 122.9h0M331.1 126.4h0M323.1 113.6h0M335.1 115.5h0M322.9 118.1h0M330.6 130.9h0M318.5 112.3h0M327.8 118.3h0M343.1 91.4h0M347.0 117.3h0M318.3 130.6h0M326.0 114.7h0M323.1 107.5h0M327.4 107.6h0M322.6 103.5h0M331.2 126.9h0M322.6 118.5h0M325.9 87.7h0M326.9 90.6h0M336.3 91.6h0M322.1 126.1h0M335.7 110.4h0M339.2 87.1h0M342.4 101.7h0M327.5 125.8h0M342.8 118.3h0M338.9 87.1h0M318.8 98.8h0M335.8 102.2h0M322.9 113.6h0M326.5 122.2h0M327.4 126.4h0M321.5 87.5h0M340.0 110.4h0M355.2 110.8h0M327.5 117.6h0M346.9 126.6h0M323.6 110.5h0M323.8 126.3h0M335.4 109.5h0M330.6 121.5h0M326.9 99.2h0M331.1 106.5h0M331.2 122.2h0M328.6 121.3h0M336.5 125.3h0M327.5 114.1h0M340.0 99.3h0M330.9 95.1h0M334.9 118.4h0M332.0 95.8h0M335.5 117.9h0M319.1 122.2h0M334.5 122.6h0M327.6 107.2h0M327.3 117.9h0M331.3 116.1h0M330.1 121.0h0M338.7 117.6h0M339.1 87.3h0M327.7 122.1h0M326.2 118.2h0M339.5 130.5h0M322.8 121.7h0M318.5 110.4h0M327.7 114.4h0M327.0 127.9h0M327.4 118.7h0M323.7 114.6h0M339.4 90.1h0M323.7 125.6h0M322.7 120.0h0M326.8 110.8h0M327.2 130.0h0M344.4 107.2h0M324.5 126.1h0M322.4 126.2h0M330.9 118.4h0M321.8 118.7h0M339.4 119.1h0M326.8 123.2h0M324.1 114.4h0M322.7 118.1h0M318.4 121.8h0M323.0 118.8h0M326.5 115.6h0M322.4 122.4h0M318.6 126.2h0M322.9 117.7h0M331.4 125.7h0M338.0 126.4h0M327.4 99.4h0M322.6 114.2h0M331.3 90.9h0M335.2 111.9h0M330.9 125.3h0M326.8 117.2h0M322.5 126.4h0M323.3 121.8h0M335.2 98.9h0M324.4 126.1h0M326.8 125.3h0M323.0 109.7h0M330.5 122.9h0M319.9 110.8h0M318.3 117.8h0M328.5 114.9h0M318.8 95.2h0M326.3 110.7h0M343.3 110.6h0M352.3 119.6h0M340.9 99.6h0M342.7 98.8h0M323.0 126.7h0M327.2 91.9h0M323.8 131.6h0M323.2 123.1h0M322.6 126.8h0M329.1 111.4h0M322.1 129.8h0M318.4 126.0h0M330.2 125.7h0M327.4 122.5h0M322.6 117.7h0M344.3 122.3h0M327.5 114.7h0M323.0 125.4h0M327.5 114.5h0M327.0 126.1h0M331.1 123.1h0M347.8 122.5h0M323.2 114.6h0M322.9 109.7h0M342.4 97.6h0M323.0 118.0h0M339.2 117.6h0M327.9 123.3h0M331.4 114.3h0M336.2 122.0h0M327.2 126.7h0M322.8 121.5h0M323.3 121.6h0M330.7 109.8h0M337.5 82.9h0M338.6 114.4h0M326.7 125.9h0M329.9 126.0h0M348.2 102.9h0M346.9 103.5h0M338.8 118.3h0M320.1 125.9h0M317.1 125.5h0M319.4 126.4h0M334.9 123.0h0M342.4 113.1h0M318.3 122.9h0M334.4 125.8h0M343.7 119.1h0M318.8 125.8h0M327.6 127.0h0M326.2 90.7h0M330.8 122.5h0M323.7 115.2h0M326.4 126.2h0M326.6 126.3h0M363.9 125.4h0M328.2 114.2h0M330.6 118.5h0M321.6 90.1h0M339.0 90.8h0M322.0 122.0h0M336.4 121.4h0M323.2 128.9h0M339.2 119.7h0M336.7 125.7h0M335.6 122.4h0M326.6 122.1h0M347.2 103.3h0M327.2 126.1h0M334.1 118.8h0M328.7 110.3h0M348.0 126.3h0M327.4 122.5h0M331.1 123.3h0M323.1 130.5h0M319.3 122.7h0M327.4 126.4h0M327.1 114.6h0M328.3 128.8h0M343.3 98.9h0M324.4 106.2h0M326.7 126.0h0M322.8 129.6h0M319.0 118.4h0M327.1 115.2h0M333.6 118.0h0M338.5 107.2h0M322.9 126.7h0M322.1 103.0h0M327.0 126.2h0M347.7 111.5h0M326.9 121.1h0M344.5 129.6h0M343.4 106.6h0M323.9 114.4h0M327.4 117.2h0M327.1 96.1h0M319.1 125.7h0M330.8 89.8h0M323.1 111.7h0M319.1 125.7h0M371.3 125.2h0M329.8 107.1h0M322.6 127.3h0M326.3 111.6h0M318.7 122.1h0M318.6 126.1h0M326.7 121.5h0M323.0 114.4h0M335.3 94.5h0M344.7 94.3h0M331.2 122.8h0M326.5 90.2h0M318.3 125.7h0M332.1 118.4h0M327.6 130.3h0M343.5 118.6h0M343.1 101.2h0M326.4 116.0h0M334.9 90.8h0M318.8 126.0h0M327.8 118.8h0M354.9 111.3h0M323.3 125.6h0M322.7 130.1h0M323.3 123.6h0M321.0 110.6h0M326.6 118.8h0M334.8 123.6h0M339.6 107.4h0M324.9 121.7h0M327.1 121.6h0M339.5 95.3h0M319.4 83.8h0M326.8 121.5h0M324.5 126.5h0M343.1 110.7h0M326.2 122.5h0M323.4 117.8h0M331.1 106.4h0M338.8 102.1h0M327.7 79.2h0M335.8 126.1h0M322.5 103.1h0M322.5 106.7h0M352.3 127.5h0M327.6 110.5h0M327.5 121.3h0M326.4 126.8h0M322.4 118.4h0M319.0 118.5h0M327.4 122.6h0M348.8 107.8h0M330.8 102.4h0M343.7 103.4h0M331.3 126.2h0M326.4 121.7h0M326.0 125.5h0M339.6 103.5h0M327.9 121.9h0" stroke="#ff0000" opacity="0.3"/>
<path d="M323.4 121.5h0M333.8 123.0h0M345.9 106.6h0M323.6 111.0h0M334.2 125.8h0M334.6 64.8h0M327.1 125.9h0M343.4 122.4h0M327.5 115.6h0M329.7 106.3h0M334.9 103.2h0M335.9 113.5h0M326.4 113.8h0M334.0 118.4h0M323.2 110.1h0M326.9 130.5h0M339.6 109.6h0M330.9 122.5h0M333.7 126.3h0M342.6 106.6h0M319.4 129.7h0M327.2 114.2h0M332.1 122.1h0M339.1 118.0h0M334.7 125.8h0M323.2 126.1h0M327.0 99.0h0M343.6 118.5h0M326.3 113.5h0M323.3 121.3h0M329.9 90.9h0M323.1 129.4h0M327.6 126.0h0M326.8 118.2h0M332.0 99.3h0M322.9 126.5h0M331.2 114.2h0M322.5 122.1h0M339.8 95.3h0M323.6 122.2h0M335.4 122.3h0M335.0 121.2h0M326.3 113.8h0M326.9 98.6h0M334.8 99.0h0M327.1 123.0h0M331.3 114.8h0M330.6 125.4h0M322.1 113.9h0M323.8 117.8h0M330.7 121.7h0M338.9 103.5h0M323.0 122.6h0M347.5 117.8h0M363.2 119.0h0M331.6 126.5h0M332.4 102.9h0M343.6 103.1h0M323.4 117.3h0M342.6 98.6h0M330.4 110.7h0M319.7 121.8h0M343.6 115.0h0M341.4 99.0h0M322.1 118.2h0M327.1 129.4h0M322.7 103.1h0M319.7 117.5h0M326.5 126.2h0M322.7 118.5h0M351.8 121.8h0M336.0 96.0h0M325.7 95.0h0M334.7 117.9h0M352.4 118.0h0M323.9 119.0h0M331.1 126.0h0M339.8 107.0h0M322.8 125.4h0M323.2 128.9h0M327.1 118.7h0M325.9 124.7h0M336.1 114.2h0M322.4 122.2h0M339.4 87.7h0M323.4 128.7h0M347.5 102.9h0M322.6 123.1h0M343.8 125.9h0M330.5 121.7h0M327.2 118.3h0M331.2 122.8h0M343.8 100.1h0M348.4 110.3h0M326.9 118.0h0M323.6 103.2h0M322.4 106.3h0M339.3 107.1h0M360.3 114.8h0M323.3 103.7h0M331.1 126.0h0M326.7 110.2h0M323.3 75.5h0M342.7 93.2h0M321.8 126.1h0M326.8 125.7h0M335.1 91.0h0M339.8 113.9h0M339.5 98.4h0M346.6 118.2h0M318.9 118.1h0M322.6 121.5h0M318.1 115.1h0M327.1 109.4h0M323.1 102.2h0M323.1 102.3h0M322.5 130.4h0M330.9 122.6h0M326.8 118.3h0M343.5 126.7h0M323.3 121.5h0M323.0 106.3h0M323.0 126.5h0M331.8 118.6h0M327.1 121.6h0M322.4 122.1h0M344.7 126.3h0M319.2 129.7h0M330.6 122.3h0M322.6 114.0h0M321.3 130.6h0M355.5 117.7h0M330.6 119.0h0M327.0 122.5h0M331.7 125.8h0M332.1 109.2h0M326.6 114.4h0M323.4 123.7h0M322.4 126.0h0M330.5 110.1h0M327.5 107.3h0M331.5 107.2h0M347.2 126.6h0M355.4 122.3h0M327.3 118.0h0M331.7 121.3h0M323.7 110.6h0M335.0 121.8h0M333.2 113.9h0M318.4 126.2h0M326.9 119.7h0M322.9 118.9h0M342.9 103.3h0M344.1 126.7h0M348.7 102.2h0M327.5 118.5h0M326.5 103.4h0M325.6 119.1h0M322.3 118.0h0M343.5 108.0h0M327.8 117.5h0M326.3 125.6h0M335.8 91.8h0M330.7 121.8h0M330.9 130.5h0M327.9 127.4h0M323.9 95.3h0M323.9 126.6h0M343.2 130.0h0M330.8 114.7h0M323.7 118.9h0M326.8 118.6h0M332.0 126.0h0M334.3 91.1h0M343.9 103.5h0M351.3 122.9h0M334.7 106.8h0M329.9 122.9h0M327.1 125.6h0M331.3 125.2h0M351.0 117.8h0M335.5 86.7h0M326.5 107.5h0M326.8 122.2h0M331.8 122.1h0M331.1 116.5h0M331.8 122.8h0M327.8 105.5h0M339.5 101.7h0M322.7 125.2h0M331.1 110.4h0M332.0 114.5h0M359.4 122.8h0M327.9 127.0h0M350.1 110.4h0M319.4 126.3h0M322.9 126.1h0M322.7 121.8h0M332.9 118.7h0M339.5 101.9h0M318.7 113.9h0M327.1 122.1h0M326.8 125.4h0M344.2 106.2h0M335.5 90.7h0M318.9 118.3h0M323.0 102.6h0M318.4 126.0h0M322.8 130.9h0M332.0 110.6h0M322.7 118.3h0M327.9 122.4h0M331.6 102.9h0M324.0 87.8h0M332.5 122.4h0M351.3 106.0h0M335.0 110.5h0M323.1 126.7h0M331.1 125.8h0M340.2 121.5h0M326.3 118.6h0M330.9 94.1h0M327.4 103.5h0M327.4 126.4h0M339.4 102.2h0M326.2 110.6h0M323.9 88.4h0M331.8 110.9h0M323.3 122.0h0M335.1 122.6h0M338.5 99.0h0M323.2 126.5h0M342.8 115.8h0M334.4 122.5h0M343.8 121.8h0M341.0 98.7h0M323.0 118.8h0M343.2 123.2h0M320.1 117.6h0M332.1 114.5h0M339.2 103.7h0M318.8 119.6h0M335.2 122.3h0M352.1 118.4h0M326.5 125.5h0M334.2 99.9h0M322.3 120.7h0M326.8 125.9h0M338.9 87.0h0M322.7 127.0h0M343.6 98.8h0M327.5 126.6h0M327.1 123.1h0M329.6 106.1h0M331.1 126.1h0M318.9 121.6h0M354.9 122.1h0M323.5 125.6h0M332.0 114.1h0M335.0 106.7h0M335.3 125.6h0M322.9 122.7h0M352.5 105.5h0M325.8 115.3h0M321.3 125.9h0M322.8 127.8h0M331.0 114.2h0M323.7 102.6h0M317.9 125.2h0M326.9 110.6h0M327.3 118.5h0M322.7 126.2h0M322.5 90.6h0M331.8 114.2h0M331.7 118.6h0M322.5 90.7h0M322.3 123.3h0M326.3 113.2h0M327.1 125.8h0M324.1 118.2h0M327.3 128.9h0M334.9 94.6h0M330.5 114.5h0M331.7 99.2h0M326.5 110.6h0M327.7 119.1h0M327.9 130.6h0M326.1 94.3h0M339.6 122.5h0M323.3 51.6h0M325.9 114.3h0M330.0 99.1h0M340.4 90.2h0M327.1 125.1h0M331.0 121.6h0M326.4 95.1h0M330.5 125.2h0M326.7 110.8h0M318.2 121.8h0M322.9 126.8h0M335.0 125.0h0M331.0 110.5h0M328.0 114.7h0M327.6 125.9h0M339.6 102.9h0M323.4 125.5h0M335.0 122.6h0M322.9 116.6h0M326.3 125.9h0M327.3 98.9h0M326.4 122.3h0M335.2 122.2h0M319.2 126.0h0M327.5 125.6h0M322.4 127.4h0M327.0 126.9h0M318.6 127.3h0M343.9 103.0h0M344.2 118.8h0M328.2 126.2h0M319.1 102.6h0M318.6 114.8h0M340.1 110.0h0M326.5 102.9h0M318.1 125.3h0M322.7 122.9h0M328.1 111.3h0M330.7 118.7h0M322.5 118.2h0M326.7 122.0h0M339.6 99.6h0M331.8 117.4h0M326.9 126.0h0M330.1 102.9h0M322.3 110.4h0M330.5 118.0h0M323.3 130.7h0M339.3 113.9h0M331.1 111.2h0M340.2 122.2h0M327.8 118.0h0M343.9 102.0h0M343.2 129.4h0M334.6 121.4h0M327.0 122.6h0M323.8 111.0h0M326.6 114.8h0M355.9 126.2h0M338.9 102.6h0M318.7 125.4h0M326.2 105.8h0M326.2 114.6h0M323.2 130.4h0M319.0 121.3h0M334.9 131.4h0M322.7 125.8h0M331.3 114.2h0M335.0 91.5h0M322.7 121.5h0M343.8 103.2h0M334.3 121.9h0M352.3 123.2h0M339.3 111.2h0M326.6 124.4h0M346.6 106.3h0M326.7 110.4h0M322.4 119.1h0M322.9 123.1h0M326.1 103.6h0M326.9 126.0h0M334.7 127.3h0M338.8 115.1h0M325.1 110.9h0M331.0 95.1h0M338.9 121.5h0M322.2 123.1h0M330.8 126.4h0M330.7 122.2h0M347.8 111.3h0M344.2 114.1h0M322.7 106.6h0M334.9 117.7h0M343.7 103.9h0M338.8 102.9h0M322.5 126.9h0M322.8 119.1h0M326.8 103.0h0M320.0 121.8h0M326.3 126.7h0M347.6 126.5h0M335.2 107.2h0M331.6 118.6h0M331.3 109.3h0M335.3 114.2h0M326.2 125.9h0M327.2 122.7h0M336.3 122.4h0M335.3 83.3h0M323.0 125.6h0M339.2 98.6h0M335.9 116.2h0M325.5 119.0h0M338.6 99.2h0M346.5 118.5h0M340.2 111.2h0M322.9 130.2h0M335.3 118.0h0M343.3 99.1h0M324.0 130.9h0M323.6 130.1h0M335.4 126.5h0M335.1 103.4h0M326.6 125.9h0M340.5 125.5h0M342.8 99.1h0M331.1 111.2h0M342.8 119.0h0M339.1 102.9h0M325.7 121.7h0M330.5 118.0h0M327.8 115.4h0M323.6 126.7h0M331.0 117.7h0M338.6 107.1h0M317.7 114.4h0M342.4 106.0h0M348.4 110.2h0M338.2 118.5h0M331.1 111.1h0M326.5 94.5h0M326.8 118.2h0M326.9 125.4h0M328.4 129.5h0M322.0 122.3h0M344.3 116.1h0M351.1 126.9h0M335.8 106.6h0M326.7 118.1h0M330.8 114.8h0M322.3 122.4h0M331.8 106.2h0M326.9 125.3h0M339.0 103.3h0M326.5 125.9h0M335.2 126.2h0M327.1 110.4h0M324.2 126.2h0M344.2 107.6h0M338.3 119.2h0M338.8 98.7h0M336.4 103.1h0M332.0 125.5h0M331.6 118.6h0M322.7 125.2h0M334.5 110.7h0M339.6 91.1h0M322.1 125.9h0M330.7 129.1h0M334.6 114.4h0M322.9 126.1h0M322.6 115.1h0M343.5 130.4h0M322.9 127.0h0M331.0 103.3h0M328.0 114.8h0M342.5 114.6h0M343.4 102.4h0M326.9 129.4h0M339.2 87.1h0M327.8 129.9h0M327.1 91.1h0M323.0 122.6h0M326.7 121.5h0M323.6 126.0h0M326.1 125.6h0M334.2 119.2h0M319.2 110.0h0M335.4 121.5h0M327.4 126.5h0M318.4 110.7h0M331.3 102.8h0M323.0 122.2h0M328.1 114.1h0M317.7 110.2h0M336.0 99.7h0M318.0 115.5h0M322.8 122.5h0M323.4 121.1h0M320.0 125.6h0M322.4 126.7h0M327.1 122.2h0M323.8 123.7h0M322.0 115.0h0M334.7 118.3h0M327.0 109.6h0M327.1 121.0h0M344.5 102.2h0M336.3 125.5h0M322.5 117.8h0M326.9 114.2h0M351.5 107.7h0M322.7 115.0h0M339.1 90.8h0M331.3 114.8h0M344.1 117.2h0M322.4 125.7h0M320.0 122.1h0M322.6 115.1h0M327.7 95.8h0M340.0 126.4h0M339.5 122.2h0M331.5 127.1h0M323.5 114.8h0M347.3 102.3h0M339.2 122.0h0M338.2 87.0h0M335.3 114.5h0M327.1 117.5h0M318.4 92.1h0M327.4 127.6h0M322.6 126.6h0M327.2 118.9h0M323.3 114.0h0M326.3 117.6h0M338.9 122.8h0M327.3 122.8h0M330.8 113.8h0M326.1 115.0h0M323.8 126.9h0M319.5 122.6h0M326.9 122.3h0M320.1 122.0h0M326.8 118.0h0M330.6 110.3h0M323.7 102.6h0M330.3 99.8h0M330.7 124.1h0M330.2 130.4h0M343.2 98.1h0M322.0 90.9h0M330.7 122.2h0M319.2 121.8h0M326.9 122.2h0M339.9 96.4h0M322.7 121.3h0M334.7 115.3h0M322.3 117.6h0M322.8 102.9h0M323.1 126.9h0M331.0 126.0h0M321.5 126.0h0M342.5 122.3h0M323.4 121.4h0M352.5 111.4h0M326.8 105.1h0M339.0 115.1h0M339.2 90.7h0M360.9 122.2h0M326.2 111.5h0M322.7 122.3h0M333.7 106.0h0M335.6 75.2h0M317.3 130.6h0M347.7 102.8h0M327.1 122.1h0M339.3 122.0h0M331.1 125.7h0M343.3 99.5h0M323.6 95.7h0M343.2 110.6h0M319.2 123.0h0M339.2 88.4h0M323.1 126.6h0M326.8 122.2h0M323.1 118.2h0M318.8 122.3h0M343.7 98.6h0M339.7 106.5h0M331.3 126.4h0M323.2 125.7h0M339.5 111.0h0M331.3 105.8h0M323.8 79.0h0M337.6 99.1h0M335.1 95.3h0M323.5 130.8h0M323.9 121.8h0M327.4 117.8h0M323.1 126.7h0M323.4 109.5h0M323.6 126.6h0M324.1 114.5h0M322.8 126.6h0M327.0 126.3h0M343.8 103.6h0M319.7 130.8h0M322.6 114.7h0M322.3 114.7h0M334.8 106.3h0M323.0 130.5h0M324.0 124.9h0M342.9 95.6h0M322.9 110.7h0M331.0 110.7h0M343.3 110.5h0M329.8 121.3h0M318.9 129.6h0M352.7 122.7h0M330.5 118.7h0M318.6 114.7h0M323.1 119.0h0M322.2 126.0h0M321.5 114.3h0M331.0 91.0h0M324.6 115.6h0M339.6 125.6h0M323.0 124.8h0M330.4 122.5h0M327.4 131.0h0M339.7 110.5h0M331.3 126.1h0M331.6 122.0h0M334.0 118.0h0M330.5 121.5h0M332.4 116.8h0M334.5 121.9h0M340.2 126.2h0M326.4 121.8h0M322.3 121.9h0M334.7 118.4h0M331.6 121.4h0M326.8 122.4h0M335.8 121.7h0M323.3 98.9h0M339.4 91.5h0M323.2 103.6h0M322.6 121.3h0M339.9 91.7h0M331.4 122.4h0M327.9 126.5h0M334.6 123.3h0M331.5 121.8h0M336.0 119.3h0M319.3 114.7h0M327.9 102.1h0M323.2 126.7h0M344.4 101.6h0M328.4 107.6h0M326.8 117.4h0M343.4 109.4h0M318.8 118.3h0M323.3 103.1h0M326.5 99.3h0M339.0 125.3h0M323.0 121.8h0M333.5 94.2h0M326.8 122.2h0M330.6 129.9h0M318.9 125.7h0M322.5 123.2h0M327.9 111.4h0M323.6 121.4h0M327.3 126.4h0M338.7 123.0h0M355.9 126.2h0M339.4 101.8h0M330.9 110.4h0M327.3 122.3h0M326.8 103.1h0M335.4 122.7h0M339.1 127.1h0M323.5 126.4h0M323.1 126.6h0M327.5 102.8h0M319.5 127.1h0M330.8 125.1h0M331.7 95.6h0M331.6 127.1h0M340.7 91.1h0M336.1 121.3h0M326.9 129.7h0M343.2 106.3h0M318.4 102.5h0M318.8 125.6h0M325.3 123.8h0M322.5 118.8h0M343.9 107.4h0M339.5 129.9h0M326.0 114.2h0M367.5 126.7h0M318.5 121.3h0M327.6 107.1h0M327.3 115.3h0M347.0 114.7h0M322.0 114.2h0M337.2 79.9h0M326.3 125.3h0M343.8 99.7h0M323.3 125.4h0M322.8 127.4h0M321.9 125.4h0M328.1 106.5h0M321.3 123.2h0M326.9 114.8h0M339.2 105.4h0M336.3 114.0h0M318.6 117.9h0M322.9 114.0h0M331.0 130.1h0M330.9 125.7h0M330.4 114.1h0M322.5 109.8h0M326.6 100.1h0M335.8 99.2h0M327.0 121.6h0M318.7 115.0h0M322.6 127.0h0M338.9 109.2h0M319.6 122.9h0M322.9 129.2h0M322.4 122.3h0M318.4 125.6h0M322.9 110.9h0M322.9 122.6h0M327.0 118.9h0M328.0 114.6h0M326.4 103.6h0M318.5 114.0h0M318.1 118.0h0M326.9 116.9h0M323.8 91.1h0M327.4 121.9h0M325.9 126.8h0M323.1 118.1h0M356.4 114.6h0M327.2 125.7h0M322.5 125.7h0M343.5 105.9h0M331.4 115.0h0M327.7 119.4h0M326.4 106.1h0M326.6 123.1h0M327.5 130.9h0M327.1 103.3h0M343.5 95.0h0M327.4 111.2h0M325.8 118.4h0M332.1 91.0h0M331.5 125.9h0M326.3 122.4h0M327.1 117.6h0M323.8 122.0h0M326.6 121.5h0M327.1 99.9h0M327.3 126.7h0M326.4 122.9h0M323.2 113.9h0M323.8 122.3h0M331.3 120.9h0M331.2 121.9h0M327.7 122.8h0M330.2 126.6h0M327.9 122.8h0M322.7 125.9h0M351.2 117.2h0M323.2 125.6h0M331.7 114.7h0M338.5 122.6h0M347.3 121.7h0M347.6 121.0h0M334.3 107.3h0M330.2 114.2h0M343.1 126.0h0M335.6 127.1h0M323.0 107.1h0M340.1 103.6h0M322.6 127.3h0M317.7 126.4h0M324.6 107.2h0M319.2 131.1h0M322.1 106.0h0M321.9 126.1h0M327.8 106.5h0M326.9 106.6h0M325.4 125.0h0M359.7 122.0h0M331.6 114.1h0M330.6 114.7h0M322.9 131.0h0M321.9 115.7h0M330.6 94.0h0M342.9 106.7h0M326.7 126.9h0M317.5 126.5h0M318.1 126.6h0M330.6 114.7h0M335.3 121.8h0M343.0 111.8h0M344.9 126.3h0M338.9 130.2h0M338.7 126.0h0M319.6 129.6h0M323.5 114.1h0M327.0 117.8h0M322.9 118.1h0M323.0 124.9h0M321.5 125.8h0M322.5 122.4h0M322.8 125.9h0M343.2 99.3h0M335.1 103.8h0M334.9 110.8h0M328.1 121.4h0M318.6 126.9h0M322.6 110.1h0M343.1 95.8h0M323.6 126.6h0M331.0 125.8h0M338.9 90.6h0M330.3 102.2h0M326.8 126.1h0M318.0 126.8h0M323.6 127.1h0M331.5 99.4h0M323.6 114.9h0M322.7 118.2h0M327.2 118.2h0M355.5 112.0h0M326.3 129.5h0M342.8 99.3h0M322.4 122.3h0M326.3 91.5h0M339.5 103.8h0M321.9 115.3h0M318.7 125.6h0M343.2 103.0h0M322.7 119.1h0M339.6 107.5h0M331.3 106.8h0M322.5 106.7h0M330.5 126.7h0M327.4 121.9h0M355.5 129.5h0M330.6 117.9h0M321.9 106.8h0M322.6 122.5h0M319.7 103.7h0M344.3 106.6h0M342.6 125.3h0M368.8 118.1h0M331.3 114.6h0M363.8 111.4h0M323.5 115.0h0M326.4 123.5h0M331.3 122.0h0M323.6 130.5h0M327.2 125.3h0M322.9 121.3h0M326.8 120.9h0M331.5 114.1h0M344.5 119.1h0M319.0 129.6h0M335.4 123.1h0M318.4 125.9h0M346.8 103.3h0M331.3 122.2h0M327.7 103.3h0M322.6 129.5h0M334.9 122.4h0M322.4 118.2h0M332.1 107.1h0M339.9 117.4h0M330.8 117.3h0M327.9 127.0h0M331.0 119.4h0M331.3 103.7h0M343.6 94.3h0M331.0 106.5h0M343.5 102.5h0M327.8 122.4h0M326.7 119.1h0M319.8 106.2h0M335.0 107.6h0M330.3 125.7h0M325.6 126.6h0M330.8 114.1h0M347.8 114.7h0M331.8 117.4h0M343.3 115.2h0M321.4 106.1h0M322.2 96.2h0M335.5 72.3h0M326.3 107.3h0M327.4 122.7h0M322.8 103.2h0M332.1 110.0h0M331.6 122.5h0M334.8 118.0h0M328.2 130.3h0M324.1 118.4h0M326.5 127.4h0M323.4 87.5h0M342.6 107.1h0M330.2 103.5h0M339.2 114.2h0M331.3 123.1h0M343.3 102.8h0M323.4 118.0h0M327.1 122.2h0M317.8 122.7h0M343.4 118.3h0M327.4 118.6h0M322.3 113.9h0M326.9 114.1h0M324.2 121.6h0M335.5 79.4h0M339.3 117.9h0M322.2 100.1h0M327.3 118.7h0M323.3 126.1h0M346.4 118.0h0M330.2 110.7h0M331.2 130.1h0M323.4 122.9h0M324.6 122.3h0M323.6 122.0h0M332.6 123.0h0M343.6 95.3h0M317.8 97.8h0M331.8 125.9h0M344.1 129.6h0M319.2 121.0h0M348.0 106.3h0M336.2 91.9h0M323.9 129.4h0M326.2 76.5h0M339.5 125.9h0M329.8 78.9h0M339.4 126.0h0M327.1 94.5h0M323.7 122.1h0M334.6 114.5h0M340.0 91.1h0M343.8 102.7h0M331.3 114.6h0M318.4 121.8h0M339.7 114.3h0M338.3 106.6h0M331.5 125.2h0M323.0 125.9h0M322.3 126.5h0M327.5 121.7h0M339.5 102.4h0M327.6 107.6h0M344.1 110.3h0M328.2 110.4h0M331.3 129.8h0M340.5 113.2h0M331.3 125.8h0M337.7 106.2h0M327.5 114.8h0M326.6 99.7h0M327.7 52.3h0M336.1 90.4h0M330.9 122.1h0M326.9 127.0h0M319.2 129.2h0M321.7 125.6h0M327.3 110.4h0M340.0 118.4h0M334.7 95.9h0M326.5 124.9h0M343.1 101.5h0M331.0 122.1h0M327.3 126.2h0M327.5 113.5h0M326.5 90.9h0M343.1 99.1h0M323.0 106.5h0M327.8 125.3h0M322.6 103.4h0M322.8 127.2h0M338.6 87.7h0M323.6 121.8h0M322.6 123.5h0M324.1 110.6h0M329.9 114.8h0M339.1 129.9h0M338.5 106.7h0M326.1 122.2h0M335.5 114.5h0M330.2 117.9h0M326.7 67.6h0M335.2 121.9h0M335.8 91.1h0M327.9 87.5h0M332.3 122.6h0M318.5 115.0h0M347.4 106.6h0M323.2 110.1h0M323.7 122.8h0M336.0 126.8h0M318.2 94.6h0M323.1 129.2h0M327.6 126.3h0M323.3 126.0h0M329.9 103.1h0M318.3 110.1h0M323.0 122.4h0M326.6 113.8h0M322.9 126.0h0M327.2 117.9h0M323.1 121.9h0M318.8 121.6h0M335.7 110.4h0M327.0 125.6h0M330.8 91.1h0M338.8 114.4h0M339.9 123.0h0M334.9 106.8h0M328.0 113.6h0M331.2 121.7h0M334.6 121.9h0M348.1 118.8h0M327.5 129.6h0M324.3 106.4h0M327.1 114.1h0M335.1 118.7h0M327.0 122.7h0M322.5 122.6h0M321.8 126.0h0M326.7 116.5h0M322.0 124.1h0M326.3 106.3h0M331.8 115.1h0M322.9 107.3h0M322.8 106.1h0M333.9 114.8h0M331.2 126.0h0M343.7 110.8h0M327.0 117.3h0M319.0 117.9h0M323.0 126.5h0M342.8 96.0h0M328.8 105.9h0M331.4 123.2h0M326.4 118.9h0M326.9 121.4h0M326.6 123.4h0M321.7 117.3h0M322.0 126.0h0M331.9 118.4h0M319.2 122.0h0M322.7 126.8h0M326.8 120.3h0M355.2 118.5h0M335.5 112.1h0M326.9 118.6h0M335.2 115.1h0M323.4 126.2h0M318.3 118.4h0M343.4 118.9h0M324.3 125.4h0M334.6 107.2h0M335.8 127.5h0M340.0 99.7h0M331.4 95.8h0M323.9 129.6h0M322.5 130.5h0M347.0 109.7h0M322.9 126.2h0M327.2 90.9h0M328.2 76.3h0M322.3 126.5h0M330.7 118.0h0M335.2 103.0h0M334.9 102.8h0M323.2 79.8h0M327.4 110.7h0M327.5 126.6h0M318.5 122.2h0M323.0 121.4h0M356.0 114.5h0M339.0 106.8h0M342.6 118.0h0M319.5 110.9h0M339.3 121.4h0M318.2 118.9h0M351.9 110.6h0M327.2 128.6h0M335.4 125.8h0M326.6 126.1h0M318.8 118.1h0M322.5 98.9h0M322.6 118.3h0M339.3 107.0h0M323.4 121.2h0M331.2 118.9h0M326.9 126.5h0M330.3 126.2h0M322.7 124.9h0M330.6 126.5h0M326.5 109.3h0M345.0 114.8h0M347.9 117.7h0M330.5 121.2h0M318.3 126.3h0M317.9 91.1h0M332.7 97.9h0M342.9 126.4h0M326.9 118.3h0M322.3 110.4h0M327.2 121.4h0M326.6 129.1h0M338.6 110.3h0M335.3 118.5h0M331.7 126.7h0M322.9 83.8h0M319.3 119.0h0M322.5 127.2h0M334.3 113.4h0M343.6 110.4h0M318.5 127.1h0M323.2 120.7h0M323.4 124.9h0M326.4 131.1h0M331.8 119.0h0M343.4 106.0h0M323.0 124.8h0M322.9 109.2h0M339.9 114.6h0M326.6 117.6h0M331.7 98.8h0M323.7 126.4h0M323.3 118.3h0M335.3 94.7h0M327.5 118.2h0M328.4 105.8h0M339.5 118.2h0M322.5 113.1h0M322.5 103.1h0M322.6 122.1h0M342.8 126.4h0M330.7 121.7h0M323.7 123.1h0M344.0 103.5h0M347.0 103.3h0M323.1 130.7h0M326.6 103.5h0M330.9 114.2h0M332.2 118.2h0M348.0 110.1h0M326.2 118.3h0M323.6 119.2h0M343.6 121.5h0M323.2 122.5h0M328.1 126.6h0M323.5 114.7h0M327.3 110.8h0M323.3 131.2h0M327.1 110.5h0M327.2 110.6h0M322.4 103.2h0M326.6 127.3h0M327.2 127.1h0M346.4 111.4h0M329.0 92.3h0M332.2 106.7h0M323.3 82.3h0M343.9 97.9h0M331.2 119.0h0M318.7 117.8h0M372.2 121.4h0M323.0 115.1h0M334.8 84.0h0M327.0 111.1h0M335.3 99.6h0M338.7 106.5h0M323.2 102.8h0M326.7 121.5h0M339.6 122.6h0M343.9 114.9h0M332.1 129.9h0M319.6 129.4h0M342.9 126.3h0M322.5 118.9h0M322.7 94.8h0M322.3 122.5h0M322.7 122.6h0M323.2 125.4h0M342.5 102.8h0M340.1 123.0h0M326.5 114.2h0M338.7 83.7h0M322.2 110.6h0M323.7 114.7h0M323.4 126.4h0M323.5 125.8h0M319.2 102.5h0M335.8 121.8h0M348.0 102.4h0M343.4 123.1h0M343.5 94.6h0M339.4 118.9h0M331.6 113.8h0M323.1 126.4h0M326.4 118.4h0M344.1 102.9h0M330.7 107.0h0M323.2 126.2h0M356.5 110.9h0M348.1 110.8h0M347.2 103.1h0M322.8 106.5h0M321.9 125.2h0M323.6 129.8h0M335.8 122.3h0M330.8 102.1h0M323.4 125.6h0M343.4 119.3h0M326.6 125.0h0M318.4 125.7h0M335.6 115.0h0M347.8 121.2h0M326.6 125.5h0M317.4 113.8h0M322.3 122.2h0M323.3 117.0h0M317.4 126.3h0M330.3 87.8h0M339.6 95.3h0M319.9 83.7h0M348.4 106.5h0M326.9 115.2h0M332.0 121.8h0" stroke="#ff0000" opacity="0.3"/>
<path d="M343.5 102.7h0M318.3 108.2h0M325.9 123.1h0M331.4 119.5h0M327.5 110.1h0M319.1 106.4h0M329.3 126.2h0M336.2 120.7h0M322.5 113.7h0M330.8 123.1h0M343.1 98.1h0M338.7 118.5h0M336.0 111.4h0M326.8 110.6h0M339.5 99.8h0M323.8 126.0h0M319.4 121.5h0M318.3 94.3h0M323.4 126.4h0M328.0 118.1h0M322.1 96.0h0M346.1 130.8h0M325.9 123.0h0M339.4 126.5h0M327.4 91.5h0M318.8 113.6h0M325.9 123.0h0M331.4 118.4h0M347.9 114.1h0M327.6 126.7h0M342.6 99.6h0M322.9 105.6h0M327.4 118.9h0M322.9 121.9h0M334.8 113.3h0M327.1 128.2h0M319.2 118.1h0M322.0 114.2h0M318.9 106.9h0M323.0 115.0h0M357.0 123.1h0M322.4 126.2h0M323.2 126.0h0M331.5 123.3h0M324.1 127.0h0M338.4 99.1h0M322.1 125.6h0M335.3 114.5h0M334.6 117.7h0M339.2 90.7h0M343.5 100.3h0M352.7 111.5h0M322.2 109.8h0M322.9 110.0h0M322.4 130.6h0M345.2 99.5h0M343.5 98.3h0M331.7 105.9h0M317.8 118.3h0M318.8 122.8h0M326.8 110.8h0M327.0 106.2h0M323.5 119.0h0M327.0 125.7h0M335.1 106.6h0M327.2 125.2h0M325.9 126.3h0M356.1 122.0h0M343.5 110.3h0M335.1 129.2h0M330.2 107.4h0M322.5 99.4h0M343.0 95.4h0M331.5 121.8h0M322.2 118.5h0M322.4 112.2h0M326.6 122.6h0M352.1 125.6h0M339.4 91.8h0M331.5 106.8h0M325.7 106.5h0M327.2 122.1h0M323.4 114.9h0M335.4 125.9h0M334.8 115.1h0M322.5 126.0h0M331.1 118.8h0M319.1 118.1h0M318.0 123.1h0M346.8 125.7h0M329.7 125.6h0M329.5 114.9h0M324.1 83.3h0M324.1 122.9h0M339.5 106.3h0M343.6 107.0h0M326.6 122.6h0M331.0 115.3h0M359.5 126.0h0M339.4 90.7h0M328.5 125.3h0M342.9 95.4h0M326.5 101.9h0M322.3 114.4h0M327.0 125.4h0M327.8 107.1h0M326.4 122.7h0M322.1 125.7h0M319.2 123.2h0M323.0 113.9h0M326.6 122.1h0M323.1 125.6h0M343.0 99.3h0M326.9 118.4h0M326.6 82.5h0M319.7 110.8h0M330.9 125.7h0M344.1 115.0h0M323.3 118.1h0M322.9 126.5h0M334.7 94.6h0M347.2 103.5h0M342.5 106.3h0M336.3 107.0h0M322.8 127.7h0M319.6 126.1h0M327.5 115.2h0M339.6 92.3h0M327.4 126.2h0M322.9 91.8h0M323.7 107.1h0M322.8 121.8h0M318.6 125.9h0M322.9 114.1h0M323.1 122.0h0M318.0 118.5h0M323.2 98.5h0M318.5 124.9h0M318.7 126.1h0M330.2 121.7h0M350.6 107.2h0M322.2 113.9h0M335.6 92.2h0M321.9 113.1h0M326.8 98.8h0M355.4 121.8h0M322.4 119.4h0M331.2 119.9h0M326.6 126.3h0M322.8 111.4h0M331.2 110.4h0M342.4 110.6h0M326.9 117.3h0M326.0 125.6h0M339.9 99.4h0M339.3 94.7h0M319.0 127.0h0M346.9 110.6h0M326.9 127.6h0M323.2 117.5h0M335.2 118.2h0M336.3 122.8h0M323.4 119.1h0M322.8 126.0h0M327.9 114.7h0M319.1 114.3h0M339.9 99.1h0M330.9 118.4h0M331.7 127.3h0M323.7 98.5h0M323.2 114.6h0M326.9 122.9h0M338.2 125.7h0M322.5 126.4h0M326.9 111.2h0M331.0 122.5h0M335.5 122.9h0M322.6 130.3h0M326.2 121.9h0M327.9 117.9h0M327.4 123.2h0M339.5 119.1h0M339.9 109.7h0M317.7 114.3h0M322.6 118.8h0M331.7 103.6h0M334.4 118.7h0M327.8 126.9h0M323.2 131.4h0M331.9 117.7h0M347.9 121.3h0M323.7 115.7h0M331.2 106.5h0M318.6 106.5h0M324.0 125.5h0M325.8 130.1h0M351.3 119.7h0M339.2 110.3h0M344.6 107.1h0M322.5 122.8h0M330.8 110.7h0M336.1 114.6h0M332.0 125.5h0M336.5 126.1h0M319.1 102.6h0M318.4 115.4h0M331.1 121.5h0M319.3 107.3h0M322.6 125.2h0M328.1 126.0h0M326.5 121.3h0M326.4 121.9h0M331.9 115.0h0M335.1 113.5h0M334.5 122.1h0M319.5 110.7h0M347.6 114.7h0M327.6 92.1h0M334.8 114.6h0M322.3 117.8h0M335.2 109.7h0M343.3 126.0h0M327.4 126.2h0M323.3 126.6h0M326.4 95.0h0M327.0 118.2h0M327.1 121.5h0M326.5 118.1h0M352.0 114.9h0M323.4 126.7h0M327.3 119.0h0M331.7 118.8h0M323.5 127.8h0M329.9 110.8h0M322.5 119.0h0M343.6 103.3h0M326.9 118.6h0M322.6 117.4h0M352.5 106.9h0M322.9 106.1h0M322.4 71.8h0M338.8 98.7h0M323.5 114.7h0M331.2 118.0h0M335.2 121.5h0M322.5 106.1h0M326.3 113.3h0M343.1 102.7h0M331.1 121.6h0M339.2 102.3h0M322.0 126.4h0M327.6 103.1h0M352.7 110.1h0M323.5 118.5h0M348.8 110.8h0M326.3 113.4h0M342.5 127.0h0M330.4 83.8h0M327.1 95.1h0M325.3 130.6h0M326.3 122.1h0M330.1 121.9h0M334.6 103.1h0M336.2 122.3h0M326.9 121.0h0M327.6 126.0h0M340.1 104.1h0M328.3 114.6h0M331.2 107.0h0M326.0 117.4h0M331.2 110.0h0M335.2 126.4h0M339.5 121.1h0M342.4 114.6h0M321.5 118.3h0M319.2 91.1h0M318.7 87.1h0M344.0 118.0h0M323.4 118.9h0M330.5 121.6h0M329.9 122.7h0M339.7 126.3h0M335.6 119.0h0M335.7 126.5h0M345.0 102.5h0M322.8 122.6h0M318.6 129.6h0M328.1 117.3h0M331.3 120.8h0M330.0 122.0h0M322.8 107.2h0M343.2 99.8h0M327.7 126.0h0M322.6 117.8h0M326.7 100.1h0M335.2 102.3h0M343.3 96.1h0M340.1 123.3h0M343.9 126.3h0M322.7 106.1h0M327.0 110.9h0M347.2 102.4h0M339.7 107.2h0M331.4 113.5h0M335.8 122.4h0M322.9 110.9h0M322.7 130.2h0M323.3 117.7h0M323.2 122.2h0M326.6 113.0h0M322.3 129.8h0M323.0 123.0h0M326.9 121.8h0M322.5 111.4h0M331.1 98.2h0M344.2 103.0h0M338.1 109.7h0M326.8 117.9h0M324.4 126.1h0M330.3 117.7h0M331.5 123.9h0M330.3 113.5h0M336.4 127.0h0M335.6 107.6h0M330.4 122.4h0M327.6 106.5h0M327.3 121.8h0M331.3 111.1h0M322.6 119.2h0M339.4 89.6h0M330.6 118.5h0M326.9 92.2h0M322.4 118.6h0M318.9 95.5h0M321.9 126.4h0M323.2 125.3h0M355.3 126.5h0M322.5 64.0h0M351.5 107.7h0M327.3 97.7h0M323.7 122.0h0M323.9 106.8h0M322.9 122.9h0M330.6 126.5h0M355.9 118.2h0M324.2 114.6h0M322.6 117.6h0M322.7 126.3h0M327.9 122.2h0M327.1 114.5h0M327.0 119.0h0M338.9 95.4h0M331.3 120.1h0M344.1 102.5h0M327.3 113.5h0M322.1 113.4h0M318.4 125.4h0M338.9 96.0h0M327.3 123.1h0M335.3 118.7h0M343.0 102.8h0M318.6 125.5h0M321.1 118.3h0M326.4 122.5h0M343.9 110.6h0M319.0 129.3h0M319.1 122.2h0M326.1 125.9h0M343.0 125.1h0M323.3 125.5h0M318.0 114.2h0M318.5 121.9h0M338.5 98.7h0M332.2 91.4h0M322.6 92.4h0M327.3 99.6h0M326.3 121.1h0M349.7 116.6h0M339.8 88.4h0M344.0 121.8h0M348.2 110.8h0M326.8 115.2h0M327.2 91.8h0M330.8 102.6h0M319.8 114.6h0M324.0 111.0h0M322.2 79.8h0M318.3 126.1h0M336.1 118.3h0M347.0 114.7h0M327.5 122.4h0M326.0 121.6h0M327.9 118.5h0M325.9 94.9h0M323.5 98.7h0M331.2 118.1h0M319.5 126.3h0M343.5 99.0h0M326.8 102.9h0M335.9 121.7h0M326.4 121.5h0M326.6 117.8h0M323.6 121.6h0M335.4 113.9h0M321.8 126.4h0M322.4 127.0h0M324.2 121.5h0M323.1 126.1h0M322.8 114.0h0M343.3 102.7h0M328.1 96.2h0M327.7 110.6h0M326.4 121.8h0M323.5 121.6h0M322.7 117.9h0M335.3 117.6h0M326.7 126.1h0M335.3 118.0h0M322.2 79.7h0M335.9 124.8h0M331.0 121.9h0M335.7 91.2h0M343.5 125.1h0M348.6 103.1h0M343.3 102.0h0M319.0 124.9h0M327.2 126.2h0M334.9 101.5h0M355.2 106.6h0M339.5 84.4h0M327.0 125.3h0M327.2 98.6h0M334.8 115.0h0M342.2 113.7h0M329.9 105.6h0M323.1 125.0h0M330.8 125.5h0M330.3 113.8h0M330.7 129.6h0M335.9 94.6h0M343.6 126.3h0M351.8 110.7h0M322.4 121.2h0M342.9 100.0h0M347.9 106.2h0M323.1 118.0h0M327.9 122.2h0M330.6 122.1h0M326.1 121.8h0M323.3 122.9h0M334.1 125.4h0M327.9 100.0h0M335.2 117.1h0M335.2 114.8h0M323.7 126.3h0M338.3 121.2h0M339.5 98.0h0M339.1 95.2h0M323.4 122.0h0M330.7 122.5h0M318.2 121.9h0M343.4 108.4h0M327.3 126.2h0M323.6 125.5h0M326.8 103.0h0M330.9 102.5h0M335.8 111.1h0M327.3 107.3h0M331.1 106.9h0M335.0 87.0h0M327.0 110.2h0M342.8 102.8h0M351.3 107.4h0M331.6 122.1h0M327.2 114.8h0M323.1 126.5h0M319.1 118.6h0M341.1 94.9h0M339.0 103.1h0M322.2 111.0h0M323.0 119.6h0M327.6 106.7h0M367.4 118.4h0M327.4 114.9h0M331.5 106.7h0M327.3 87.6h0M352.4 107.3h0M331.9 125.9h0M322.0 122.5h0M335.5 98.5h0M334.5 86.7h0M335.3 99.0h0M327.4 114.0h0M322.7 125.7h0M322.6 126.9h0M322.7 122.8h0M335.8 113.9h0M319.8 124.9h0M326.9 122.1h0M327.8 130.0h0M319.1 59.7h0M326.5 121.6h0M338.8 87.9h0M319.5 106.2h0M326.4 111.2h0M322.7 126.2h0M338.0 87.3h0M335.9 121.2h0M342.4 101.5h0M322.5 114.7h0M322.8 87.5h0M331.8 117.1h0M326.8 86.9h0M323.3 117.5h0M344.0 103.1h0M346.4 103.3h0M318.8 121.1h0M326.8 122.0h0M321.8 109.9h0M327.2 95.5h0M323.6 118.7h0M338.0 90.8h0M322.8 125.0h0M338.5 87.2h0M345.3 99.3h0M343.0 118.1h0M331.5 99.3h0M326.1 114.9h0M335.7 110.4h0M326.6 114.9h0M330.1 121.3h0M319.1 129.7h0M318.5 122.4h0M334.9 95.4h0M327.6 122.1h0M323.4 115.2h0M343.3 115.0h0M336.0 106.9h0M323.3 122.4h0M344.2 99.0h0M342.5 103.7h0M318.7 122.3h0M343.7 103.1h0M328.1 125.4h0M327.1 124.8h0M322.9 117.2h0M332.1 118.7h0M327.1 125.9h0M326.8 118.5h0M327.2 122.4h0M323.2 122.9h0M321.6 125.0h0M319.0 99.0h0M323.1 109.4h0M339.3 127.2h0M335.4 102.7h0M340.0 102.8h0M331.5 114.6h0M326.8 103.5h0M323.7 122.8h0M335.4 125.6h0M328.0 126.1h0M319.0 103.5h0M338.8 114.2h0M344.1 111.1h0M318.9 117.2h0M339.2 118.0h0M343.6 99.3h0M326.2 118.6h0M322.6 131.1h0M339.0 126.5h0M334.0 114.5h0M324.7 111.3h0M323.5 126.2h0M326.2 87.2h0M326.7 122.3h0M322.8 121.7h0M339.6 130.3h0M323.1 126.3h0M339.9 98.5h0M335.4 122.1h0M334.7 95.4h0M335.4 105.3h0M327.3 126.6h0M330.9 127.1h0M326.4 110.0h0M319.2 125.1h0M327.4 108.3h0M339.2 125.6h0M326.9 125.6h0M343.1 122.7h0M323.3 122.5h0M331.8 122.2h0M326.6 98.6h0M323.0 118.4h0M327.9 122.3h0M324.0 126.4h0M328.2 130.1h0M326.5 121.7h0M340.5 99.8h0M335.6 106.6h0M322.0 117.9h0M323.2 114.8h0M339.9 94.1h0M318.2 103.4h0M330.6 111.0h0M322.2 110.4h0M319.5 126.1h0M346.8 100.2h0M327.3 114.6h0M322.7 109.9h0M327.8 118.8h0M318.3 126.5h0M323.8 117.9h0M322.8 122.2h0M334.5 104.3h0M323.5 118.1h0M319.0 130.3h0M323.5 114.2h0M326.6 110.3h0M327.1 119.1h0M324.0 118.0h0M343.5 129.9h0M334.5 118.5h0M344.8 98.1h0M334.3 111.0h0M331.9 118.6h0M332.0 130.3h0M322.3 125.1h0M326.9 120.9h0M328.0 126.1h0M323.7 130.3h0M326.9 119.0h0M332.6 122.8h0M323.3 117.0h0M322.4 126.3h0M326.6 113.9h0M322.0 121.8h0M343.8 126.6h0M327.0 118.3h0M331.1 130.0h0M334.8 121.8h0M339.8 111.0h0M323.4 122.2h0M331.8 67.5h0M342.4 117.1h0M331.7 115.1h0M339.1 102.9h0M325.8 75.7h0M356.5 122.3h0M330.5 118.8h0M336.2 87.4h0M322.6 122.1h0M327.0 126.3h0M323.4 113.9h0M326.9 118.2h0M319.7 122.8h0M326.4 95.2h0M351.2 107.0h0M338.5 106.3h0M327.9 125.8h0M327.1 117.9h0M319.3 118.0h0M323.2 126.7h0M326.6 109.2h0M344.0 106.5h0M336.2 110.6h0M349.4 106.3h0M334.2 110.5h0M328.4 122.7h0M339.5 111.1h0M322.8 125.9h0M338.2 122.1h0M331.0 105.9h0M322.5 102.9h0M327.8 125.7h0M319.6 124.9h0M340.0 121.7h0M324.3 126.1h0M327.5 122.7h0M330.5 90.3h0M340.3 106.3h0M322.6 121.2h0M323.4 126.8h0M323.4 83.7h0M327.1 125.1h0M330.2 115.0h0M330.1 114.5h0M343.6 99.0h0M318.2 115.8h0M335.3 103.1h0M323.5 118.3h0M335.7 125.8h0M319.1 118.7h0M334.7 127.0h0M327.2 121.7h0M318.7 125.9h0M335.0 114.2h0M328.2 121.8h0M330.9 130.9h0M323.1 124.8h0M318.9 94.2h0M331.7 107.2h0M331.6 114.5h0M327.8 118.6h0M319.6 122.6h0M326.9 124.7h0M335.7 106.0h0M339.4 109.3h0M332.0 106.6h0M318.8 110.5h0M326.3 122.2h0M327.5 122.1h0M330.4 111.0h0M322.9 126.3h0M364.5 113.6h0M335.9 118.2h0M334.7 122.9h0M319.1 118.6h0M334.4 102.9h0M340.4 91.3h0M335.9 126.0h0M325.7 126.2h0M331.1 121.3h0M343.2 98.6h0M348.3 118.9h0M339.4 121.6h0M323.3 120.2h0M327.4 102.9h0M327.9 117.8h0M326.6 122.4h0M330.1 117.7h0M336.2 95.1h0M319.5 125.1h0M326.3 124.9h0M323.1 117.9h0M322.5 126.2h0M339.4 129.6h0M321.5 118.1h0M334.7 87.0h0M323.5 117.9h0M334.3 127.0h0M339.3 122.7h0M327.1 126.5h0M321.8 109.7h0M318.2 130.7h0M347.6 118.4h0M335.0 122.0h0M328.2 96.2h0M347.8 102.6h0M339.0 117.5h0M321.5 121.9h0M329.8 125.9h0M327.6 125.7h0M319.6 125.2h0M322.9 126.5h0M327.3 112.1h0M339.3 95.0h0M327.0 64.6h0M342.8 106.7h0M333.2 89.9h0M360.3 114.0h0M327.5 113.8h0M327.1 107.5h0M322.5 98.7h0M330.3 114.4h0M330.8 107.3h0M329.9 129.8h0M330.6 110.4h0M355.2 110.9h0M327.0 126.2h0M334.7 114.3h0M318.4 120.1h0M322.6 122.3h0M343.3 98.7h0M350.8 118.1h0M318.4 126.7h0M326.5 129.7h0M330.8 118.3h0M322.5 96.4h0M326.7 117.3h0M331.2 126.0h0M330.3 113.3h0M323.8 109.4h0M331.2 122.1h0M346.4 107.8h0M323.3 126.9h0M327.5 121.9h0M323.6 126.3h0M342.3 129.4h0M322.4 114.9h0M340.0 98.3h0M343.9 119.2h0M349.2 102.1h0M327.7 126.9h0M323.1 111.8h0M344.6 108.9h0M339.0 122.1h0M340.6 91.9h0M317.8 121.1h0M347.0 126.5h0M323.4 125.4h0M330.8 113.9h0M327.2 115.5h0M326.4 122.2h0M337.6 122.6h0M332.5 114.7h0M326.8 121.3h0M331.6 110.0h0M318.9 114.5h0M318.9 118.9h0M319.0 102.7h0M327.3 117.5h0M354.8 106.6h0M335.9 129.6h0M321.6 64.8h0M324.1 121.3h0M318.1 125.2h0M343.6 99.0h0M335.6 117.9h0M323.7 126.0h0M321.7 127.0h0M323.7 117.8h0M327.4 117.7h0M318.4 125.4h0M322.6 117.1h0M323.2 125.7h0M319.7 124.4h0M336.0 117.4h0M339.4 125.9h0M344.1 98.7h0M339.3 107.0h0M339.8 99.0h0M323.4 130.8h0M343.2 110.5h0M327.7 122.5h0M326.7 118.9h0M324.4 103.2h0M339.6 102.0h0M340.4 113.4h0M325.0 114.7h0M327.1 102.3h0M319.4 123.0h0M322.5 114.3h0M318.4 113.6h0M342.7 126.1h0M335.3 94.7h0M326.9 111.3h0M335.6 98.8h0M326.0 114.6h0M335.9 79.2h0M322.7 111.2h0M335.2 113.7h0M342.6 95.2h0M322.9 110.0h0M323.4 126.8h0M346.9 102.3h0M322.6 130.2h0M328.1 126.1h0M324.1 117.9h0M331.8 125.7h0M319.4 111.2h0M331.3 114.1h0M319.5 118.7h0M343.5 102.2h0M323.5 89.5h0M326.6 103.0h0M339.9 118.5h0M318.4 119.1h0M335.8 90.9h0M323.0 122.1h0M322.6 117.4h0M330.5 110.7h0M339.3 129.4h0M327.3 88.0h0M348.1 107.0h0M340.0 114.6h0M343.3 122.4h0M322.4 126.2h0M348.3 127.2h0M327.3 96.2h0M330.3 115.1h0M327.3 118.8h0M343.4 109.4h0M334.5 119.6h0M336.2 98.4h0M322.8 114.5h0M343.9 102.5h0M322.2 98.5h0M347.3 126.4h0M330.2 111.0h0M318.3 122.3h0M334.2 126.8h0M332.2 122.8h0M319.5 130.1h0M343.8 99.0h0M339.5 114.5h0M340.0 89.0h0M338.7 107.3h0M334.4 126.2h0M326.5 121.9h0M340.0 107.1h0M327.2 126.3h0M330.2 117.7h0M329.6 121.7h0M322.7 121.6h0M323.1 125.5h0M331.3 118.3h0M332.6 107.6h0M323.8 99.3h0M327.0 119.4h0M344.3 107.2h0M326.9 129.5h0M319.2 129.5h0M326.7 82.9h0M318.9 125.8h0M330.2 125.1h0M322.5 91.8h0M334.7 102.3h0M335.6 109.9h0M334.4 122.4h0M322.8 122.0h0M356.2 118.2h0M326.8 105.6h0M323.2 114.3h0M322.6 117.6h0M355.1 113.4h0M322.5 117.8h0M330.8 122.6h0M348.2 121.8h0M347.3 119.3h0M348.7 121.8h0M339.9 118.2h0M322.8 123.3h0M342.8 107.4h0M331.2 118.6h0M320.4 119.5h0M327.0 105.9h0M335.8 83.9h0M330.9 126.2h0M334.7 114.3h0M332.3 59.3h0M322.9 95.2h0M343.8 114.8h0M330.5 125.4h0M322.9 106.2h0M339.1 95.4h0M322.8 126.2h0M323.3 121.5h0M318.6 126.6h0M330.3 130.1h0M332.2 84.2h0M330.0 125.8h0M335.8 122.0h0M322.4 122.8h0M343.7 95.3h0M325.7 117.2h0M318.6 118.0h0M331.1 117.8h0M330.3 122.2h0M322.0 99.3h0M332.9 117.7h0M343.8 122.8h0M339.3 95.3h0M331.2 125.8h0M331.0 104.2h0M331.2 116.7h0M328.5 107.4h0M348.6 103.2h0M323.0 103.1h0M339.8 118.5h0M318.8 121.8h0M331.0 117.7h0M335.0 90.2h0M339.0 98.9h0M344.6 107.1h0M319.2 107.8h0M326.5 118.3h0M334.7 94.4h0M322.9 122.1h0M324.3 126.0h0M327.0 114.6h0M331.4 110.5h0M318.6 126.1h0M324.0 126.2h0M331.5 107.4h0M335.0 118.4h0M339.3 125.7h0M323.7 118.5h0M339.7 94.9h0M327.6 121.3h0M330.3 110.2h0M339.7 118.7h0M343.7 123.0h0M326.0 119.7h0M327.9 114.3h0M335.9 126.2h0M331.7 126.6h0M339.5 110.6h0M323.7 114.5h0M323.3 129.5h0M342.3 125.3h0M349.4 122.6h0M331.8 122.6h0M322.8 98.7h0M323.7 127.4h0M326.5 113.6h0M331.3 114.5h0M318.8 123.2h0M339.4 107.6h0M318.6 106.9h0M326.8 118.4h0M322.2 122.9h0M339.4 95.2h0M327.1 118.8h0M347.0 105.6h0M330.7 98.6h0M327.3 125.6h0M327.4 130.0h0M335.1 113.8h0M336.3 91.1h0M326.9 122.0h0M340.4 96.1h0M322.3 118.7h0M324.1 106.8h0M323.6 114.1h0M322.4 117.8h0M324.1 110.4h0M318.4 129.3h0M342.9 126.4h0M327.0 87.2h0M326.7 117.5h0M330.7 113.3h0M318.0 124.8h0M331.5 122.3h0M321.9 125.5h0M327.2 129.1h0M344.0 116.6h0M323.5 123.3h0M330.3 98.4h0M318.9 121.0h0M327.8 125.8h0M324.0 114.9h0M338.1 91.7h0M334.1 126.9h0M331.5 113.6h0M335.2 127.0h0M334.3 126.2h0M322.2 106.7h0M322.6 122.2h0M354.4 111.5h0M346.8 98.7h0M339.1 102.0h0M326.4 117.8h0M318.0 122.8h0M322.7 118.6h0M323.3 126.5h0M326.6 125.8h0M350.3 114.0h0M330.6 107.1h0M322.8 125.0h0M339.0 87.7h0M323.3 127.0h0M323.4 118.5h0M321.1 126.3h0M322.1 118.2h0M343.8 98.3h0M351.3 113.9h0M335.9 121.9h0M326.9 63.5h0M339.0 113.6h0M318.6 102.8h0M330.6 111.0h0M322.6 118.6h0M339.5 94.9h0M340.6 103.6h0M327.9 122.7h0M331.0 119.3h0M327.0 117.3h0M322.3 121.9h0M327.6 111.4h0M335.7 121.7h0M322.8 117.3h0M334.5 98.2h0M329.9 118.0h0M338.4 90.9h0M343.9 122.3h0M323.5 130.6h0M327.0 117.6h0M333.0 102.5h0M326.7 130.1h0M339.5 125.8h0M322.9 130.1h0M323.0 127.2h0M336.6 107.0h0M322.3 123.3h0M319.0 122.5h0M327.4 117.7h0M347.7 103.7h0M325.9 115.3h0M335.0 110.4h0M356.0 126.2h0M338.6 102.6h0M330.1 101.2h0M323.3 121.8h0M327.1 117.9h0M318.0 123.1h0M340.2 118.2h0M323.4 126.9h0M321.1 115.2h0M322.4 119.4h0M323.2 110.3h0M323.0 121.1h0M332.2 117.2h0M323.4 110.7h0M338.4 122.6h0M339.9 125.9h0M339.2 113.7h0M335.7 118.5h0M326.5 114.2h0M323.5 122.0h0M327.4 114.3h0M335.2 110.4h0M322.2 126.2h0M319.4 125.3h0M334.9 114.1h0M323.6 106.5h0M331.2 115.2h0M319.0 125.5h0M338.6 95.5h0M327.6 125.8h0M327.5 122.6h0M331.4 94.1h0M327.6 122.3h0M339.7 91.7h0M318.5 126.1h0M319.3 126.1h0M319.7 122.4h0M331.5 126.5h0M339.4 122.8h0M334.2 113.9h0M338.4 95.2h0M322.9 122.7h0M331.2 125.1h0M334.3 125.7h0M331.6 94.5h0M326.6 107.2h0M346.5 121.3h0M318.3 126.2h0M322.5 122.2h0M336.2 79.8h0M326.8 108.5h0M327.3 118.3h0M318.6 118.0h0M330.8 103.3h0M331.5 118.2h0M322.4 118.9h0M334.7 114.8h0M326.8 122.5h0M339.1 118.1h0M331.6 125.9h0M331.8 95.0h0M327.6 126.2h0M344.0 99.1h0M343.1 103.3h0M323.0 111.1h0M322.5 128.6h0M323.7 119.1h0M342.5 122.1h0M319.1 129.6h0M323.6 129.3h0M318.8 117.9h0M343.4 98.9h0M322.7 122.2h0M348.6 122.3h0M324.0 125.9h0M328.3 125.6h0M343.1 118.2h0M331.5 114.8h0M331.2 103.0h0M334.5 91.3h0M318.9 130.5h0M339.8 88.8h0M329.6 107.1h0M336.2 130.0h0M322.9 113.9h0M339.5 126.4h0M330.7 98.4h0M322.1 122.0h0M322.5 117.5h0M351.0 106.7h0M322.4 118.8h0M323.2 126.4h0M323.1 107.5h0M330.2 90.6h0M330.9 118.1h0M339.1 107.2h0M334.8 102.2h0M323.0 126.6h0M326.0 83.4h0M327.6 122.1h0M323.1 114.6h0M323.2 126.7h0M342.1 99.1h0M319.2 109.9h0M335.5 76.3h0" stroke="#ff0000" opacity="0.3"/>
<path d="M318.8 123.3h0M322.6 113.8h0M327.2 47.8h0M323.0 125.3h0M327.6 121.3h0M335.1 114.9h0M323.3 110.8h0M328.0 126.1h0M339.2 90.6h0M343.4 118.1h0M319.5 126.5h0M331.6 118.4h0M326.7 129.0h0M360.0 121.8h0M340.1 114.4h0M331.4 122.3h0M322.3 129.4h0M323.1 126.3h0M343.8 122.7h0M335.0 110.6h0M355.7 127.1h0M323.2 121.8h0M327.3 130.2h0M319.2 122.6h0M334.8 107.7h0M326.4 119.5h0M323.4 128.7h0M335.6 110.3h0M327.6 99.5h0M323.0 110.8h0M319.0 103.2h0M327.7 118.6h0M327.6 118.6h0M332.0 103.2h0M332.7 99.2h0M322.8 118.2h0M343.7 118.0h0M326.5 121.8h0M327.2 126.2h0M343.7 106.6h0M322.3 126.5h0M323.6 118.0h0M323.3 103.1h0M334.6 115.1h0M335.0 115.1h0M343.6 126.1h0M323.3 118.5h0M322.3 118.3h0M335.1 98.9h0M322.2 118.4h0M322.5 99.1h0M331.6 126.5h0M330.2 126.7h0M329.0 122.2h0M338.1 99.1h0M323.5 122.8h0M332.0 116.8h0M330.6 111.0h0M321.9 117.8h0M322.7 125.3h0M343.8 126.1h0M348.4 117.8h0M327.5 126.2h0M334.6 107.3h0M335.5 90.2h0M327.0 113.2h0M335.0 126.2h0M335.6 95.1h0M326.7 125.1h0M323.2 122.7h0M321.8 103.9h0M329.0 125.8h0M323.0 110.5h0M319.2 126.4h0M326.1 126.7h0M354.9 106.8h0M340.0 91.2h0M339.6 118.6h0M322.3 126.7h0M319.2 122.1h0M331.7 102.8h0M328.3 97.9h0M347.5 103.5h0M327.2 123.8h0M327.9 118.1h0M322.2 125.9h0M338.6 98.8h0M326.3 99.2h0M334.9 110.4h0M335.4 129.7h0M326.0 127.1h0M342.4 110.7h0M332.8 103.0h0M330.9 121.7h0M324.6 121.7h0M323.3 122.3h0M323.2 68.4h0M332.0 114.1h0M324.0 110.3h0M331.3 118.4h0M326.6 117.2h0M326.4 119.2h0M352.6 118.7h0M339.5 126.2h0M338.9 101.5h0M326.4 94.7h0M322.8 127.1h0M335.2 110.4h0M323.8 125.2h0M323.6 92.2h0M334.5 122.6h0M356.1 110.3h0M335.0 126.3h0M334.5 98.4h0M338.8 129.6h0M338.2 117.8h0M326.5 122.9h0M323.5 114.9h0M323.9 126.6h0M339.1 109.8h0M330.9 125.9h0M322.6 110.5h0M327.3 125.1h0M332.0 102.9h0M326.9 106.8h0M335.3 109.9h0M324.1 123.4h0M339.8 118.4h0M328.2 122.5h0M323.8 121.6h0M322.8 110.8h0M323.9 122.4h0M320.1 118.4h0M334.7 121.7h0M334.6 90.9h0M319.2 130.5h0M331.0 117.5h0M343.3 106.2h0M339.8 96.1h0M327.1 99.4h0M323.3 121.9h0M327.1 90.3h0M319.1 125.8h0M343.3 107.6h0M319.3 129.9h0M339.9 109.5h0M322.7 122.1h0M342.9 126.3h0M330.7 128.0h0M318.2 130.7h0M339.7 87.0h0M326.8 114.5h0M339.6 130.5h0M334.8 126.7h0M326.7 126.3h0M322.2 117.7h0M327.1 111.1h0M335.9 126.5h0M327.9 107.5h0M322.8 125.4h0M346.6 118.1h0M339.8 103.0h0M322.9 126.0h0M330.5 117.9h0M344.8 102.1h0M326.1 107.2h0M318.3 130.8h0M344.0 113.8h0M338.4 125.9h0M327.0 121.5h0M322.5 129.6h0M333.6 102.7h0M318.2 121.6h0M323.2 119.3h0M326.4 110.0h0M322.8 123.6h0M326.5 98.7h0M331.3 110.8h0M334.8 95.2h0M322.9 83.3h0M322.2 121.7h0M326.8 117.6h0M330.4 117.9h0M326.9 121.7h0M327.0 114.0h0M347.7 102.8h0M339.5 122.0h0M343.1 114.2h0M322.6 130.2h0M327.6 122.4h0M327.7 117.0h0M326.7 121.8h0M335.5 101.9h0M327.6 106.8h0M322.4 121.6h0M334.7 88.0h0M322.6 123.1h0M323.2 111.3h0M318.6 129.5h0M323.1 126.7h0M327.2 113.8h0M331.4 121.9h0M319.0 122.0h0M321.7 122.3h0M319.8 126.4h0M323.0 130.4h0M335.2 125.7h0M323.2 125.6h0M332.6 122.2h0M323.6 121.0h0M323.3 121.5h0M327.2 126.7h0M339.8 107.8h0M327.5 114.0h0M335.0 94.6h0M322.1 124.9h0M354.9 125.4h0M328.5 122.0h0M343.6 115.1h0M323.4 126.7h0M322.3 125.1h0M343.6 106.7h0M330.9 104.8h0M322.5 109.9h0M332.0 121.6h0M322.8 110.7h0M335.7 103.3h0M335.9 93.8h0M338.9 90.9h0M323.7 107.5h0M322.9 106.6h0M323.1 122.8h0M348.4 109.4h0M323.4 121.9h0M326.8 124.9h0M329.0 117.9h0M338.7 121.5h0M335.5 126.8h0M318.6 122.3h0M343.1 117.4h0M322.5 122.2h0M333.7 126.6h0M327.7 118.6h0M332.7 121.8h0M346.3 102.0h0M323.0 122.7h0M326.8 110.7h0M331.0 110.7h0M323.1 125.4h0M323.3 113.6h0M343.3 102.9h0M330.8 118.9h0M343.5 126.8h0M331.3 87.0h0M322.8 128.1h0M347.7 118.0h0M352.1 110.1h0M350.8 106.8h0M332.6 121.4h0M327.1 126.4h0M327.6 114.6h0M322.3 113.6h0M328.6 118.7h0M343.6 95.0h0M330.8 118.0h0M336.2 122.0h0M322.9 121.1h0M336.1 121.5h0M331.5 102.6h0M326.6 114.7h0M331.2 121.9h0M322.8 117.2h0M323.7 117.5h0M323.2 126.9h0M326.3 123.1h0M330.7 102.9h0M335.6 126.4h0M344.3 99.8h0M322.6 126.5h0M322.2 126.3h0M322.6 106.5h0M323.8 123.0h0M330.9 126.2h0M322.8 87.6h0M330.6 126.3h0M334.6 115.0h0M318.9 125.6h0M339.3 105.5h0M323.4 113.3h0M321.6 125.9h0M323.1 110.4h0M347.8 106.3h0M318.6 109.9h0M331.7 126.2h0M322.4 114.2h0M331.1 126.0h0M326.7 107.0h0M326.1 121.6h0M323.4 102.0h0M331.5 122.7h0M326.9 121.8h0M335.6 106.6h0M323.3 121.9h0M339.2 101.3h0M317.4 117.3h0M332.5 125.7h0M340.3 94.9h0M331.4 122.9h0M335.6 107.2h0M329.8 82.8h0M322.4 113.7h0M323.0 122.3h0M319.4 114.5h0M327.3 125.4h0M339.1 131.3h0M335.5 129.9h0M338.7 103.2h0M334.1 117.3h0M322.8 118.2h0M326.9 126.1h0M344.2 117.6h0M319.0 115.2h0M326.9 95.1h0M323.2 126.0h0M322.9 125.7h0M322.6 127.1h0M319.2 126.1h0M318.6 110.2h0M318.1 76.1h0M323.7 123.0h0M339.5 114.2h0M335.2 106.1h0M322.6 122.2h0M322.2 107.6h0M330.4 115.5h0M328.0 118.7h0M334.9 123.0h0M330.8 125.7h0M343.6 98.5h0M327.3 118.9h0M322.2 126.2h0M327.1 125.8h0M319.1 122.3h0M323.9 125.0h0M323.1 125.7h0M339.0 110.3h0M340.0 87.1h0M326.3 122.6h0M321.8 114.1h0M319.5 111.5h0M323.0 130.9h0M331.2 126.3h0M319.6 131.0h0M339.1 125.3h0M326.4 114.2h0M322.5 118.4h0M319.0 125.6h0M327.8 127.0h0M327.4 118.2h0M342.6 102.5h0M338.3 95.4h0M328.2 107.5h0M322.6 121.9h0M323.2 126.2h0M323.0 126.0h0M335.1 117.6h0M318.7 129.0h0M338.8 121.9h0M322.5 130.7h0M347.6 107.1h0M330.7 121.8h0M354.4 122.7h0M322.4 115.2h0M320.1 126.5h0M322.3 107.7h0M323.2 107.1h0M318.8 96.0h0M322.4 126.2h0M330.8 114.3h0M323.4 126.6h0M331.6 119.0h0M344.5 113.3h0M324.0 118.1h0M343.8 102.6h0M360.2 126.1h0M331.3 122.5h0M330.4 122.2h0M326.7 125.7h0M323.6 120.9h0M322.4 121.8h0M335.4 114.1h0M323.7 74.8h0M347.2 102.9h0M363.7 110.8h0M347.0 128.8h0M326.1 121.2h0M334.7 110.6h0M339.7 95.9h0M350.5 107.2h0M336.1 117.0h0M323.3 125.7h0M322.7 117.6h0M323.6 129.9h0M332.0 125.3h0M346.0 115.2h0M331.1 100.2h0M322.7 113.7h0M318.8 115.5h0M335.6 126.1h0M331.1 123.1h0M327.2 122.5h0M339.0 103.1h0M326.4 113.0h0M330.4 122.8h0M331.3 110.9h0M365.4 117.7h0M339.0 110.8h0M330.9 114.3h0M338.7 118.8h0M326.9 110.8h0M319.2 129.1h0M327.2 120.0h0M323.0 117.6h0M319.8 130.4h0M323.5 107.0h0M322.9 129.4h0M334.7 126.6h0M323.2 126.7h0M356.3 126.2h0M323.1 108.2h0M327.9 107.9h0M339.9 102.8h0M318.1 115.2h0M356.5 122.5h0M327.1 111.3h0M339.1 126.0h0M343.4 128.4h0M327.2 117.9h0M322.8 126.4h0M330.6 108.6h0M327.5 115.0h0M355.4 118.2h0M322.4 94.7h0M327.3 114.5h0M334.6 121.7h0M322.9 118.0h0M342.3 94.7h0M340.2 122.5h0M318.6 114.1h0M324.7 122.8h0M322.5 98.5h0M322.4 117.3h0M327.0 128.9h0M328.2 125.5h0M326.6 117.6h0M331.5 125.6h0M322.8 95.3h0M326.1 125.6h0M322.3 126.4h0M319.7 129.9h0M322.0 95.5h0M323.1 106.7h0M339.1 114.7h0M326.9 116.6h0M342.7 102.3h0M330.1 115.1h0M323.1 122.2h0M321.7 102.5h0M319.2 126.0h0M330.8 111.8h0M322.9 126.0h0M327.1 118.0h0M334.6 122.3h0M323.6 117.6h0M335.4 114.3h0M326.4 111.0h0M339.1 87.6h0M323.0 118.5h0M335.3 118.2h0M334.5 124.8h0M323.1 120.6h0M323.8 117.3h0M319.9 123.3h0M319.1 126.3h0M327.6 126.0h0M331.3 126.4h0M322.6 102.2h0M331.7 126.6h0M322.6 113.2h0M339.7 94.6h0M324.5 113.5h0M322.5 113.3h0M329.4 116.0h0M342.6 122.9h0M331.4 122.3h0M323.5 122.8h0M334.3 110.6h0M343.3 101.5h0M339.6 92.1h0M323.9 130.3h0M339.5 121.6h0M327.0 126.0h0M326.2 122.0h0M328.1 121.8h0M339.5 122.2h0M326.6 121.8h0M330.9 113.1h0M319.1 126.9h0M322.9 124.2h0M335.5 115.2h0M326.4 122.6h0M326.8 130.0h0M331.6 110.5h0M339.4 109.7h0M330.8 102.9h0M321.3 123.2h0M331.5 102.9h0M340.3 118.7h0M323.0 63.9h0M327.8 126.3h0M327.0 126.5h0M331.0 118.6h0M327.0 122.2h0M331.4 121.4h0M332.2 122.3h0M346.4 117.8h0M323.7 110.6h0M326.5 126.4h0M318.6 111.1h0M334.2 118.4h0M323.1 125.7h0M331.1 107.0h0M323.5 127.2h0M322.6 118.5h0M328.7 114.4h0M322.2 123.2h0M327.9 126.3h0M322.6 122.0h0M328.0 86.9h0M347.4 111.0h0M341.6 122.8h0M338.3 83.5h0M327.5 95.0h0M330.0 109.9h0M318.5 115.0h0M325.2 122.3h0M331.4 121.6h0M322.7 125.5h0M327.4 119.4h0M321.7 112.1h0M322.9 118.4h0M326.5 124.1h0M335.1 100.1h0M335.3 126.0h0M331.4 113.7h0M330.8 122.1h0M323.0 118.0h0M330.5 121.7h0M323.0 127.0h0M332.2 125.4h0M355.1 121.5h0M322.8 129.2h0M326.6 121.3h0M342.9 94.8h0M331.2 122.0h0M318.7 117.8h0M331.7 122.5h0M327.7 118.1h0M335.6 125.1h0M330.0 102.9h0M322.6 125.8h0M339.8 107.3h0M322.3 107.8h0M343.6 110.4h0M330.7 118.2h0M344.0 103.5h0M326.5 119.5h0M331.0 110.9h0M322.3 118.1h0M325.6 99.1h0M319.8 94.9h0M331.1 121.9h0M327.2 114.6h0M328.0 119.0h0M323.1 102.0h0M331.6 114.8h0M319.5 129.9h0M319.5 117.8h0M340.3 115.5h0M330.9 114.8h0M339.4 95.0h0M330.8 126.6h0M327.4 105.7h0M335.7 99.5h0M330.6 121.8h0M319.7 125.6h0M331.3 121.6h0M342.9 110.4h0M330.6 122.9h0M326.7 118.6h0M324.4 110.3h0M331.8 127.0h0M322.3 126.2h0M326.2 106.9h0M354.8 105.8h0M320.1 118.4h0M335.1 118.3h0M331.8 114.8h0M321.5 126.1h0M330.8 110.7h0M327.4 126.0h0M323.0 118.1h0M327.4 125.6h0M322.4 114.0h0M323.9 128.6h0M335.0 126.4h0M347.2 106.3h0M331.2 114.3h0M331.7 116.9h0M339.5 106.2h0M323.4 122.2h0M322.9 114.9h0M323.5 124.7h0M322.9 126.6h0M340.2 106.9h0M324.0 102.9h0M322.6 122.6h0M339.1 122.3h0M328.2 130.6h0M330.6 118.9h0M319.4 126.4h0M330.5 91.3h0M326.3 118.0h0M331.5 102.3h0M347.7 110.7h0M322.3 125.7h0M323.7 130.2h0M323.2 123.2h0M339.3 125.9h0M326.9 99.2h0M320.1 121.7h0M327.0 125.9h0M327.7 121.6h0M334.0 117.7h0M323.8 110.6h0M326.4 106.7h0M326.6 114.8h0M342.9 100.0h0M331.2 118.5h0M330.8 121.4h0M339.4 110.6h0M326.6 110.6h0M330.7 125.9h0M323.1 117.0h0M327.1 94.6h0M327.3 121.3h0M335.2 101.7h0M338.8 102.2h0M327.7 126.2h0M326.6 110.3h0M326.0 121.2h0M343.6 98.2h0M335.3 79.3h0M327.5 120.8h0M321.9 114.8h0M328.1 90.5h0M323.6 126.1h0M322.9 110.4h0M327.2 118.2h0M331.3 118.5h0M335.0 119.3h0M324.0 122.9h0M318.9 112.1h0M338.8 101.8h0M344.4 96.8h0M327.1 99.7h0M328.1 113.3h0M342.8 103.1h0M326.1 106.7h0M343.9 106.6h0M332.2 110.5h0M319.6 122.7h0M327.4 115.2h0M331.5 95.3h0M325.9 101.6h0M322.9 126.5h0M323.3 126.0h0M322.8 122.3h0M338.6 87.3h0M327.5 113.5h0M323.9 91.7h0M327.1 127.5h0M326.4 108.0h0M338.5 95.7h0M325.7 67.1h0M333.7 114.5h0M318.3 121.2h0M335.8 110.5h0M324.1 126.6h0M317.7 121.5h0M331.9 99.5h0M326.8 126.4h0M326.3 122.4h0M335.8 121.9h0M335.4 119.0h0M328.2 110.5h0M327.7 126.2h0M323.0 122.7h0M326.9 109.2h0M335.9 117.4h0M324.3 126.5h0M327.6 125.7h0M326.0 111.8h0M327.4 114.3h0M318.7 122.3h0M335.2 98.7h0M321.4 129.9h0M347.9 103.9h0M326.9 121.9h0M335.6 75.6h0M331.7 118.1h0M342.9 121.8h0M323.1 118.0h0M336.9 126.5h0M343.3 98.4h0M318.0 125.6h0M322.4 118.9h0M323.5 94.7h0M336.0 71.7h0M331.4 129.3h0M326.9 126.4h0M327.0 122.3h0M347.4 121.7h0M323.4 91.3h0M323.4 125.8h0M334.8 122.5h0M328.5 124.6h0M323.2 110.5h0M350.9 117.4h0M335.1 121.8h0M347.9 125.0h0M327.5 114.6h0M319.6 122.1h0M330.2 114.3h0M327.8 114.1h0M322.9 110.5h0M335.6 119.3h0M339.1 83.5h0M323.1 127.1h0M342.8 113.2h0M322.7 129.8h0M351.1 118.5h0M326.4 117.5h0M344.0 114.2h0M336.7 118.2h0M326.7 117.2h0M331.0 118.3h0M327.1 121.7h0M326.7 118.4h0M323.0 130.6h0M330.9 126.5h0M317.5 125.7h0M326.0 103.8h0M322.5 122.0h0M335.2 106.0h0M335.3 79.5h0M331.7 123.2h0M327.3 125.9h0M327.9 110.2h0M323.6 129.4h0M327.6 126.1h0M343.1 106.6h0M331.8 122.4h0M319.5 130.0h0M331.2 114.5h0M326.3 98.7h0M334.2 121.8h0M327.1 122.1h0M343.0 98.5h0M323.1 122.4h0M322.1 114.8h0M340.1 98.6h0M335.1 98.7h0M339.2 127.2h0M327.8 126.1h0M330.4 109.8h0M327.0 83.2h0M323.2 118.6h0M322.2 118.7h0M322.2 126.1h0M322.0 122.4h0M339.1 95.1h0M343.8 102.7h0M324.1 126.6h0M327.6 128.8h0M322.6 114.4h0M327.4 110.1h0M331.2 122.7h0M322.7 117.4h0M342.3 94.8h0M334.5 126.2h0M326.8 119.0h0M330.6 96.5h0M319.1 84.3h0M332.2 118.1h0M322.8 103.3h0M326.7 118.1h0M346.5 99.5h0M328.3 119.6h0M336.1 114.3h0M322.9 114.3h0M323.4 121.9h0M327.8 118.9h0M339.0 125.9h0M339.7 90.6h0M343.2 118.4h0M322.6 125.4h0M331.3 122.2h0M323.4 123.0h0M335.8 114.6h0M326.2 98.9h0M326.7 110.8h0M346.3 101.9h0M322.5 115.0h0M356.3 110.0h0M321.8 113.6h0M335.4 126.5h0M322.7 121.5h0M327.6 117.8h0M327.9 106.0h0M334.8 129.8h0M327.5 122.4h0M331.3 95.1h0M318.7 114.7h0M321.9 118.5h0M326.1 130.4h0M326.9 122.7h0M323.2 124.6h0M326.8 118.0h0M327.6 117.5h0M327.5 121.1h0M326.4 119.0h0M322.9 121.6h0M340.7 114.5h0M322.7 125.3h0M323.3 119.0h0M342.1 103.1h0M322.8 125.6h0M322.8 126.5h0M332.0 125.1h0M327.6 126.9h0M347.4 102.0h0M322.7 125.9h0M327.6 125.6h0M331.9 114.7h0M331.1 118.1h0M343.0 122.2h0M340.7 103.5h0M331.0 126.5h0M343.0 101.6h0M332.1 129.2h0M330.2 125.9h0M326.8 126.9h0M339.2 128.9h0M322.5 122.7h0M338.9 119.0h0M339.6 87.7h0M319.7 121.9h0M331.9 110.6h0M336.0 126.1h0M326.6 102.6h0M334.2 99.6h0M327.5 126.1h0M348.1 106.4h0M323.0 121.2h0M322.6 126.2h0M326.7 114.4h0M335.3 118.1h0M323.5 121.1h0M343.4 95.7h0M319.1 113.8h0M330.8 121.0h0M323.3 110.8h0M322.8 126.4h0M328.4 110.1h0M323.7 126.9h0M326.9 121.9h0M323.2 114.5h0M335.1 75.4h0M320.3 125.3h0M335.3 117.0h0M326.5 118.7h0M321.6 122.3h0M321.4 106.0h0M322.1 107.3h0M322.9 98.4h0M327.4 118.0h0M327.9 126.1h0M318.9 121.4h0M346.7 125.5h0M339.8 115.3h0M318.9 125.2h0M331.8 114.5h0M324.2 125.6h0M323.8 127.1h0M318.6 121.9h0M327.3 126.4h0M333.8 122.7h0M323.2 113.4h0M338.9 122.7h0M335.3 107.2h0M326.9 102.6h0M342.9 114.0h0M343.0 101.7h0M321.9 125.4h0M347.8 106.4h0M323.3 122.5h0M322.3 111.8h0M344.0 113.9h0M318.5 129.1h0M331.1 78.6h0M318.8 114.4h0M325.5 122.0h0M343.7 122.7h0M322.7 102.2h0M343.7 119.1h0M339.7 91.9h0M339.4 103.2h0M339.2 125.9h0M319.4 130.5h0M329.7 103.0h0M322.0 119.5h0M332.1 121.5h0M327.7 122.6h0M335.3 126.0h0M326.6 122.8h0M322.6 110.9h0M323.3 106.7h0M324.0 114.6h0M335.2 122.8h0M323.0 126.6h0M323.1 103.3h0M329.9 121.3h0M323.0 94.8h0M327.2 126.2h0M323.1 122.2h0M334.7 125.4h0M335.4 95.3h0M326.4 126.1h0M348.8 105.1h0M331.1 101.9h0M335.3 101.9h0M331.5 117.7h0M331.5 126.1h0M339.5 103.0h0M327.5 120.7h0M322.2 129.6h0M323.4 118.7h0M322.7 114.5h0M352.1 121.8h0M321.9 114.8h0M332.0 126.4h0M325.7 114.5h0M327.5 98.7h0M346.5 103.9h0M322.4 106.6h0M326.9 119.0h0M327.3 126.1h0M326.0 117.5h0M319.2 130.0h0M335.3 101.6h0M326.7 129.2h0M317.9 118.7h0M327.5 130.2h0M335.1 86.1h0M323.5 98.7h0M322.2 110.4h0M326.1 103.2h0M323.2 115.0h0M326.9 118.9h0M327.4 110.9h0M322.5 123.0h0M330.5 117.9h0M322.3 125.6h0M323.0 121.7h0M322.8 125.3h0M330.7 95.5h0M322.9 122.3h0M330.9 99.3h0M331.2 126.5h0M323.1 127.5h0M320.0 118.0h0M334.5 126.3h0M319.7 114.3h0M331.0 121.9h0M339.3 102.5h0M335.4 106.6h0M327.6 115.3h0M335.7 121.2h0M347.9 102.4h0M343.6 98.6h0M327.7 121.2h0M318.9 114.5h0M326.7 125.4h0M327.4 110.5h0M336.3 118.2h0M332.3 117.5h0M340.0 95.8h0M322.7 122.7h0M348.0 118.8h0M323.0 113.4h0M351.1 107.5h0M327.9 119.0h0M331.5 110.9h0M339.5 107.2h0M328.3 107.5h0M326.3 123.3h0M339.6 87.9h0M326.2 127.4h0M326.8 126.4h0M326.9 105.6h0M342.7 94.6h0M339.0 98.1h0M323.8 115.2h0M323.8 117.4h0M323.2 107.0h0M350.1 104.1h0M330.2 125.4h0M338.8 99.4h0M322.7 129.9h0M322.9 125.7h0M340.0 110.9h0M322.7 114.5h0M335.6 123.1h0M322.8 117.8h0M342.6 125.8h0M321.7 125.8h0M326.2 105.8h0M340.6 125.8h0M335.5 107.1h0M327.4 106.2h0M331.5 95.1h0M331.1 118.7h0M330.7 118.4h0M335.2 115.4h0M335.6 99.8h0M342.2 103.0h0M330.6 122.7h0M322.3 122.1h0M327.3 130.7h0M327.0 118.1h0M339.7 125.4h0M322.3 126.6h0M331.9 114.4h0M331.0 87.7h0M343.6 106.2h0M322.5 126.3h0M340.2 91.0h0M327.5 102.6h0M318.5 108.0h0M326.6 118.6h0M326.9 102.6h0M348.2 105.5h0M327.0 124.4h0M327.0 99.1h0M336.1 123.2h0M329.5 121.5h0M331.0 122.5h0M326.7 110.2h0M336.0 126.1h0M339.3 130.6h0M319.2 129.9h0M318.1 114.7h0M327.2 126.2h0M326.8 126.2h0M322.4 126.8h0M327.6 117.7h0M318.4 126.4h0M328.1 94.5h0M319.7 121.5h0M322.0 113.8h0M332.2 117.7h0M354.8 111.1h0M350.9 110.7h0M327.2 114.1h0M326.9 114.1h0M330.7 117.7h0M323.7 106.8h0M323.6 98.6h0M331.3 123.7h0M326.7 122.2h0M322.1 110.4h0M344.4 107.1h0M317.8 120.8h0M340.1 126.3h0M331.4 122.0h0M347.0 126.6h0M335.0 126.4h0M343.1 122.6h0M339.8 113.8h0M347.4 102.9h0M323.9 126.7h0M323.4 122.2h0M327.3 125.7h0M326.4 123.1h0M321.6 126.0h0M331.5 118.1h0M336.3 121.3h0M328.6 125.5h0M318.5 130.2h0M323.7 121.0h0M331.7 95.1h0M331.0 107.4h0M318.4 125.7h0M339.9 126.2h0M327.8 126.1h0M318.9 126.3h0M319.7 122.1h0M334.2 91.5h0M322.9 126.9h0M322.1 76.0h0M322.4 118.1h0M322.7 126.6h0M322.6 126.0h0M342.2 106.2h0M327.1 126.0h0M324.0 121.5h0M327.2 83.1h0M323.1 118.3h0M322.5 114.1h0M322.4 122.2h0M326.3 118.7h0M330.0 122.0h0M342.7 106.6h0M327.9 114.6h0M326.1 118.4h0M339.3 99.4h0M326.9 118.7h0M330.1 127.8h0M331.9 121.3h0M348.1 111.2h0M327.2 103.0h0M323.6 118.3h0M334.7 102.8h0M330.7 125.6h0M319.1 122.1h0M330.2 126.2h0M331.4 129.3h0M335.5 121.3h0M327.3 130.0h0M318.1 127.5h0M356.1 126.4h0M330.5 122.9h0M318.4 102.0h0M318.5 125.6h0M339.5 115.2h0M342.4 110.4h0M339.2 118.1h0M318.9 126.8h0M344.2 98.6h0M322.7 114.1h0M344.3 105.5h0M335.8 125.6h0M326.8 114.0h0M344.2 103.1h0M328.1 102.6h0M327.6 121.7h0M339.6 127.1h0M339.1 91.3h0M347.4 103.8h0M344.1 104.1h0M323.1 114.4h0M348.2 123.1h0M318.3 125.4h0M359.8 119.3h0M334.7 113.8h0M348.6 115.0h0M334.7 114.3h0M326.7 103.0h0M340.0 95.5h0M335.0 125.3h0M318.8 118.2h0M322.7 118.1h0M339.1 91.5h0M330.2 91.6h0M334.3 97.8h0M323.1 125.1h0M344.0 106.5h0M326.6 121.6h0M326.7 118.3h0M323.0 119.9h0M322.7 125.5h0M323.0 125.3h0M339.4 118.2h0" stroke="#ff0000" opacity="0.3"/>
<path d="M326.5 114.3h0M324.1 126.3h0M327.3 109.9h0M332.1 110.8h0M344.5 107.3h0M321.5 119.2h0M322.4 122.0h0M343.5 95.8h0M340.1 106.0h0M344.2 102.4h0M327.0 118.8h0M330.6 125.3h0M339.1 126.3h0M347.5 110.6h0M330.8 111.0h0M323.7 117.4h0M324.3 125.5h0M322.6 122.2h0M334.8 125.7h0M360.5 118.0h0M326.9 127.0h0M321.8 124.7h0M326.0 129.6h0M319.3 122.2h0M331.1 109.2h0M322.7 105.5h0M327.2 116.6h0M322.4 126.1h0M347.5 103.2h0M322.9 125.6h0M323.4 126.9h0M342.7 95.6h0M331.2 122.0h0M335.3 110.6h0M326.6 99.4h0M324.0 122.2h0M327.6 118.8h0M327.4 118.3h0M343.4 107.4h0M343.5 123.0h0M327.9 98.7h0M351.9 106.6h0M323.0 91.4h0M323.0 113.6h0M331.4 119.4h0M351.1 122.1h0M318.3 114.3h0M323.3 122.8h0M340.1 102.6h0M344.5 99.6h0M326.4 131.2h0M324.5 126.5h0M318.8 119.4h0M331.5 126.3h0M323.4 123.1h0M339.5 121.4h0M342.9 106.2h0M328.4 123.0h0M323.4 115.3h0M323.8 118.8h0M322.6 118.3h0M326.7 122.3h0M322.6 122.6h0M331.0 98.4h0M339.3 91.3h0M334.8 121.3h0M335.2 119.0h0M327.1 117.6h0M327.1 90.6h0M335.6 122.3h0M334.5 104.3h0M343.3 102.3h0M331.6 125.8h0M323.9 110.0h0M319.3 90.9h0M317.8 125.5h0M319.3 128.2h0M347.9 102.5h0M330.2 126.7h0M322.3 121.7h0M323.5 126.2h0M324.0 122.1h0M340.3 122.8h0M335.6 130.4h0M343.3 95.9h0M331.3 126.0h0M326.8 126.3h0M332.1 114.4h0M326.6 126.7h0M322.7 126.6h0M348.0 103.7h0M323.2 122.0h0M322.1 126.1h0M334.6 118.0h0M334.7 118.2h0M319.0 117.5h0M335.8 91.6h0M334.9 123.0h0M331.4 125.5h0M327.6 122.0h0M348.5 105.6h0M322.5 91.6h0M318.4 122.3h0M331.1 126.1h0M318.3 129.6h0M334.6 114.6h0M343.7 122.2h0M336.5 114.9h0M322.2 119.0h0M330.8 128.8h0M323.7 113.9h0M342.8 95.6h0M334.6 130.5h0M322.5 94.0h0M343.0 125.8h0M329.9 125.4h0M331.9 125.8h0M323.5 122.8h0M334.3 110.8h0M323.3 126.0h0M334.3 96.6h0M318.6 126.1h0M323.7 110.8h0M351.7 110.0h0M328.3 130.0h0M326.6 114.1h0M331.2 121.9h0M324.0 129.9h0M319.5 111.3h0M335.4 118.2h0M326.9 92.0h0M318.4 125.7h0M335.8 114.3h0M326.7 121.9h0M326.1 122.4h0M326.1 122.3h0M323.1 122.2h0M323.1 122.1h0M326.6 125.5h0M323.1 119.1h0M339.4 103.6h0M324.1 129.5h0M323.5 114.0h0M324.1 126.1h0M323.3 123.2h0M335.0 126.4h0M328.6 122.2h0M336.2 110.9h0M327.3 114.4h0M319.6 122.4h0M332.0 126.0h0M322.0 125.7h0M322.6 110.1h0M326.9 87.0h0M327.0 126.5h0M363.5 113.7h0M320.2 115.1h0M331.2 122.1h0M330.3 125.0h0M326.2 118.4h0M342.8 114.4h0M347.1 125.6h0M323.6 125.7h0M331.1 130.2h0M335.6 117.5h0M318.8 118.1h0M335.7 117.6h0M322.4 119.5h0M334.3 121.5h0M323.0 118.7h0M330.7 122.5h0M319.0 111.4h0M325.7 105.7h0M343.0 110.6h0M328.3 121.8h0M359.9 125.7h0M327.1 125.2h0M330.2 118.4h0M351.8 125.1h0M322.9 129.8h0M326.0 126.6h0M331.6 126.3h0M331.5 121.8h0M320.4 129.2h0M323.6 110.6h0M351.2 114.4h0M323.8 109.7h0M323.7 129.2h0M331.3 106.9h0M327.2 106.1h0M335.8 109.2h0M331.6 115.0h0M335.9 126.6h0M319.5 126.7h0M335.9 109.7h0M334.6 110.7h0M323.5 118.8h0M322.7 126.2h0M330.8 125.6h0M332.0 126.1h0M322.6 127.0h0M329.9 125.8h0M330.2 122.8h0M319.1 109.7h0M319.0 115.1h0M343.0 125.6h0M343.9 97.9h0M331.2 119.1h0M345.7 110.3h0M322.3 110.9h0M327.0 105.6h0M331.3 113.7h0M328.2 113.8h0M318.3 117.7h0M322.4 113.2h0M323.3 125.8h0M326.5 126.2h0M345.4 102.1h0M318.4 125.8h0M323.1 111.1h0M332.0 115.5h0M340.0 101.8h0M323.4 125.1h0M331.9 114.9h0M344.0 100.1h0M322.7 118.1h0M331.8 119.4h0M326.5 113.3h0M343.1 98.6h0M323.1 121.3h0M323.0 126.1h0M330.5 110.6h0M326.7 122.3h0M322.8 91.3h0M322.5 121.2h0M334.3 126.8h0M326.5 98.6h0M343.1 96.1h0M325.8 117.9h0M321.9 122.0h0M323.0 124.3h0M322.7 102.9h0M323.1 121.2h0M318.2 102.6h0M318.3 126.0h0M323.3 122.5h0M330.7 99.1h0M343.9 114.6h0M343.5 98.9h0M331.8 118.0h0M324.2 121.8h0M332.2 72.9h0M322.4 117.1h0M331.3 117.7h0M330.4 98.4h0M327.4 106.6h0M346.8 107.7h0M327.8 94.4h0M326.8 121.8h0M330.9 111.4h0M322.7 122.7h0M345.3 126.4h0M327.4 125.2h0M330.9 115.3h0M319.4 122.2h0M335.4 121.4h0M350.0 123.4h0M327.4 122.4h0M327.2 117.2h0M339.2 107.9h0M323.0 122.1h0M322.8 107.4h0M323.5 106.1h0M331.2 122.3h0M322.8 118.6h0M335.8 117.1h0M334.2 95.1h0M331.5 103.3h0M346.8 103.5h0M351.4 121.9h0M322.3 106.4h0M347.4 102.3h0M331.6 126.2h0M327.4 123.2h0M318.2 121.8h0M331.4 99.2h0M323.4 115.1h0M318.1 97.6h0M322.0 114.4h0M319.4 125.5h0M322.0 113.5h0M342.7 102.4h0M332.3 126.6h0M327.1 96.4h0M330.2 114.7h0M335.4 91.6h0M335.2 114.0h0M318.8 111.2h0M347.6 106.7h0M343.0 94.9h0M327.8 125.9h0M322.5 126.0h0M330.7 118.4h0M343.7 114.1h0M322.7 121.9h0M327.9 125.3h0M335.3 108.0h0M334.9 99.0h0M331.0 113.8h0M328.0 67.5h0M322.0 107.2h0M327.5 101.6h0M342.9 121.2h0M326.7 111.0h0M331.7 122.8h0M335.0 98.8h0M327.5 117.9h0M326.8 121.2h0M331.9 90.8h0M338.5 95.0h0M327.8 122.0h0M322.1 124.3h0M322.9 114.6h0M339.2 86.2h0M330.5 63.5h0M341.1 92.2h0M339.5 119.0h0M328.3 122.2h0M329.5 117.5h0M323.3 110.6h0M351.6 111.5h0M339.4 112.8h0M331.2 113.5h0M338.8 121.7h0M318.5 126.0h0M338.4 118.3h0M327.4 118.7h0M355.6 121.8h0M347.6 122.4h0M322.4 122.4h0M322.8 122.7h0M352.6 107.3h0M338.7 102.6h0M331.4 121.6h0M323.0 114.9h0M331.5 125.9h0M335.7 130.2h0M326.9 126.1h0M325.7 101.1h0M356.8 109.8h0M319.5 106.7h0M322.5 110.2h0M331.4 122.4h0M339.7 121.8h0M340.0 125.7h0M326.9 98.5h0M322.7 121.7h0M352.7 113.9h0M323.4 125.6h0M351.2 110.2h0M327.2 129.9h0M334.9 126.2h0M334.9 91.9h0M322.9 114.7h0M323.4 125.2h0M322.2 126.2h0M327.0 126.6h0M343.7 119.0h0M323.3 118.5h0M327.7 99.1h0M325.9 101.8h0M327.3 114.0h0M327.4 113.6h0M347.5 123.1h0M322.8 130.5h0M343.6 106.6h0M331.1 126.5h0M323.0 122.0h0M343.4 99.2h0M327.3 95.8h0M348.5 106.4h0M322.9 114.3h0M327.1 129.8h0M334.9 110.4h0M327.1 125.5h0M330.4 123.7h0M319.5 110.4h0M332.2 126.1h0M331.7 125.7h0M334.6 114.2h0M325.8 126.4h0M327.3 72.2h0M331.4 125.5h0M326.5 103.1h0M319.3 122.2h0M318.9 118.4h0M317.3 125.1h0M327.1 125.7h0M327.4 125.4h0M339.3 94.7h0M343.8 98.7h0M327.9 98.7h0M329.9 106.9h0M322.7 106.5h0M326.7 122.5h0M327.5 114.9h0M332.0 122.9h0M330.9 91.0h0M323.6 125.5h0M324.0 118.3h0M326.7 114.4h0M343.9 99.8h0M326.8 123.1h0M318.6 127.0h0M339.2 114.7h0M323.1 126.7h0M327.4 129.4h0M330.3 117.7h0M335.3 110.4h0M338.9 127.1h0M335.9 122.8h0M318.5 114.1h0M331.0 113.4h0M330.1 114.9h0M323.8 113.9h0M348.4 102.8h0M355.4 113.9h0M335.1 116.6h0M322.7 116.9h0M331.2 126.2h0M323.4 115.5h0M344.5 98.7h0M326.4 115.2h0M326.7 106.8h0M332.7 126.1h0M343.9 99.0h0M327.8 114.3h0M342.3 105.6h0M322.7 127.2h0M331.7 118.6h0M322.6 126.9h0M331.8 119.0h0M322.6 122.6h0M326.7 126.3h0M331.4 118.6h0M336.9 123.2h0M351.6 126.4h0M323.3 125.5h0M319.4 126.2h0M324.2 126.8h0M326.5 106.3h0M325.9 125.1h0M318.4 118.2h0M322.9 118.9h0M331.6 122.0h0M323.6 118.3h0M339.7 122.8h0M321.5 98.9h0M326.8 125.5h0M344.9 103.7h0M320.2 129.4h0M323.5 114.6h0M341.5 91.5h0M322.6 130.0h0M347.1 108.3h0M323.1 83.0h0M331.1 122.0h0M327.5 106.2h0M335.8 122.3h0M334.2 122.5h0M335.0 121.4h0M326.0 119.0h0M326.0 98.6h0M321.9 122.7h0M342.7 125.5h0M327.1 99.3h0M343.4 91.3h0M321.9 114.7h0M338.5 106.9h0M347.1 103.1h0M318.8 117.3h0M321.8 122.0h0M317.6 128.7h0M347.5 111.3h0M337.1 118.9h0M324.4 121.3h0M334.7 118.7h0M322.0 125.7h0M323.0 111.0h0M322.9 126.1h0M328.1 111.0h0M326.4 102.7h0M355.9 110.5h0M331.3 94.6h0M318.9 122.2h0M323.7 122.5h0M326.8 102.4h0M331.2 126.1h0M351.8 114.3h0M322.0 126.7h0M339.5 90.8h0M330.8 121.6h0M347.7 110.1h0M335.4 103.2h0M340.2 98.0h0M327.8 118.4h0M335.8 128.9h0M322.3 122.3h0M351.0 107.1h0M346.6 102.6h0M336.0 125.9h0M326.6 83.7h0M330.4 118.1h0M324.1 117.3h0M326.8 122.0h0M326.0 126.5h0M339.7 126.6h0M343.2 95.4h0M364.2 114.8h0M342.3 113.0h0M332.1 118.5h0M330.8 118.2h0M334.3 117.9h0M339.9 95.6h0M332.0 97.8h0M334.7 122.1h0M327.6 98.0h0M331.1 98.6h0M326.5 126.5h0M323.1 110.2h0M346.8 125.8h0M331.1 129.9h0M322.1 117.2h0M331.7 110.7h0M326.4 109.9h0M331.4 113.7h0M323.1 122.3h0M340.9 125.1h0M335.2 115.0h0M322.9 121.3h0M335.3 118.0h0M335.4 126.0h0M334.3 122.3h0M326.8 120.9h0M323.0 125.3h0M340.0 110.1h0M331.2 106.2h0M334.8 117.5h0M330.7 110.4h0M331.1 124.9h0M325.8 114.2h0M335.8 111.0h0M326.1 117.9h0M332.4 98.9h0M324.8 117.7h0M322.6 82.6h0M332.2 118.2h0M318.4 115.0h0M331.3 130.3h0M323.3 99.0h0M330.4 130.5h0M323.8 129.0h0M322.3 126.1h0M323.0 125.1h0M331.5 90.5h0M331.2 117.8h0M327.0 115.0h0M326.4 122.8h0M338.6 125.7h0M345.4 99.2h0M339.3 98.7h0M323.1 118.8h0M322.7 122.3h0M334.7 122.2h0M321.7 122.1h0M323.8 117.9h0M330.6 118.8h0M343.9 110.1h0M323.8 102.2h0M339.9 90.4h0M339.5 121.9h0M331.4 88.1h0M334.8 121.5h0M341.8 94.9h0M341.8 91.4h0M318.3 94.6h0M351.6 114.2h0M318.0 118.5h0M318.7 122.4h0M343.5 110.6h0M335.2 107.7h0M322.9 129.6h0M339.6 87.9h0M326.7 124.6h0M339.8 92.1h0M326.9 122.3h0M322.9 125.3h0M318.7 126.1h0M326.3 123.4h0M322.8 114.2h0M328.1 122.9h0M334.4 117.7h0M319.2 126.4h0M335.1 125.6h0M326.9 122.6h0M335.2 123.0h0M318.3 121.7h0M327.1 118.2h0M324.7 118.2h0M322.5 117.4h0M359.8 118.4h0M323.3 114.0h0M322.4 127.0h0M318.4 121.4h0M327.3 123.0h0M317.9 126.1h0M326.7 117.7h0M326.7 130.3h0M323.7 114.8h0M322.0 121.8h0M324.0 110.8h0M335.7 118.7h0M339.5 90.0h0M352.0 121.6h0M319.1 70.6h0M323.2 100.1h0M328.3 115.1h0M323.4 119.0h0M351.1 121.4h0M335.5 91.7h0M331.0 121.6h0M350.9 126.3h0M325.8 121.7h0M331.3 126.3h0M331.1 118.1h0M344.8 99.5h0M317.4 129.8h0M359.9 122.2h0M343.8 118.1h0M327.2 117.3h0M322.7 125.8h0M339.6 105.5h0M335.0 113.3h0M325.8 107.5h0M347.5 102.6h0M326.7 125.7h0M322.2 116.7h0M336.3 94.7h0M327.5 118.1h0M356.5 109.9h0M327.2 117.5h0M339.1 102.3h0M323.4 87.9h0M327.5 114.7h0M346.8 122.4h0M318.7 122.8h0M326.9 113.9h0M318.3 103.4h0M386.1 126.7h0M317.9 130.2h0M352.6 106.8h0M323.4 103.0h0M326.4 109.7h0M318.7 106.9h0M335.8 114.2h0M325.5 127.4h0M344.2 99.5h0M335.7 114.7h0M317.9 130.5h0M323.5 110.8h0M335.2 126.6h0M332.3 109.7h0M323.5 118.5h0M322.6 106.2h0M323.5 126.3h0M328.0 122.2h0M322.0 122.7h0M332.2 122.5h0M327.4 86.7h0M334.6 126.0h0M339.8 115.0h0M327.0 118.1h0M348.2 102.1h0M335.9 106.7h0M323.0 123.2h0M347.3 106.5h0M318.8 110.9h0M318.4 126.5h0M327.3 122.8h0M318.8 101.9h0M331.4 123.0h0M351.2 106.2h0M319.0 122.2h0M339.4 98.9h0M322.9 122.2h0M334.9 109.9h0M322.5 118.0h0M327.7 94.9h0M319.5 126.2h0M327.0 125.6h0M323.1 130.7h0M330.9 106.9h0M335.2 114.5h0M322.6 102.1h0M324.1 125.6h0M330.5 114.1h0M332.1 121.9h0M322.5 114.8h0M331.0 114.0h0M323.9 84.3h0M327.6 123.0h0M339.5 122.5h0M319.4 114.4h0M318.8 127.7h0M339.1 87.1h0M327.9 103.9h0M345.3 125.4h0M322.3 126.7h0M347.8 107.1h0M323.6 126.7h0M330.2 109.4h0M322.9 125.9h0M334.9 114.4h0M334.7 126.1h0M323.4 122.2h0M344.1 123.5h0M318.3 121.9h0M330.2 95.8h0M336.0 110.8h0M340.4 114.4h0M319.3 122.2h0M351.3 110.5h0M335.2 130.2h0M331.1 111.4h0M327.6 110.9h0M332.3 94.6h0M323.8 128.7h0M351.9 108.0h0M322.4 110.8h0M334.7 126.9h0M332.6 121.7h0M319.4 109.6h0M344.0 100.3h0M327.8 126.5h0M330.3 122.6h0M335.5 121.8h0M326.3 120.9h0M318.2 106.9h0M344.1 114.2h0M322.7 129.0h0M327.0 121.6h0M323.1 122.7h0M326.5 111.4h0M330.6 103.3h0M326.8 122.7h0M319.3 122.7h0M319.6 119.7h0M322.8 79.3h0M329.9 130.1h0M323.6 125.7h0M323.7 128.8h0M334.4 110.6h0M322.3 126.2h0M339.8 114.6h0M336.3 110.4h0M324.3 118.2h0M319.4 120.8h0M342.8 122.6h0M323.3 122.3h0M323.0 99.5h0M338.9 87.4h0M339.8 102.3h0M336.5 122.1h0M331.2 127.0h0M318.2 130.1h0M322.7 129.9h0M343.3 96.0h0M352.0 118.1h0M317.6 125.6h0M323.0 117.8h0M330.0 110.2h0M330.9 122.8h0M343.5 99.3h0M323.4 121.9h0M326.6 114.8h0M347.2 107.3h0M339.2 94.8h0M327.1 123.3h0M319.2 121.6h0M338.8 99.0h0M322.8 126.8h0M339.2 117.4h0M335.9 99.5h0M324.0 79.0h0M320.0 110.2h0M322.9 126.6h0M347.4 110.1h0M327.3 125.0h0M335.0 103.0h0M325.8 126.2h0M327.5 122.2h0M326.5 122.6h0M322.3 111.8h0M335.9 129.3h0M346.9 102.5h0M322.6 118.6h0M333.7 95.5h0M319.6 125.5h0M334.9 118.3h0M318.9 98.1h0M335.6 124.5h0M334.8 107.3h0M347.4 111.3h0M340.1 95.1h0M347.6 106.8h0M322.7 118.7h0M326.0 130.3h0M343.8 102.5h0M322.8 128.6h0M326.4 126.0h0M344.5 106.1h0M322.0 118.5h0M327.1 126.8h0M323.2 123.9h0M335.4 110.8h0M327.4 129.5h0M318.8 110.1h0M322.2 102.7h0M360.2 121.9h0M330.8 125.7h0M317.9 126.7h0M323.2 87.8h0M351.5 105.9h0M356.5 122.0h0M342.8 122.4h0M323.4 119.7h0M350.2 113.5h0M332.1 126.0h0M318.7 125.9h0M331.8 103.6h0M327.0 122.6h0M335.3 103.3h0M334.6 121.6h0M322.6 122.4h0M332.0 122.3h0M344.5 122.6h0M322.6 125.8h0M355.4 118.1h0M324.3 96.4h0M326.7 130.2h0M323.0 78.7h0M344.0 128.6h0M323.3 83.7h0M326.2 125.9h0M321.5 125.4h0M327.1 126.7h0M335.3 111.7h0M323.4 121.1h0M324.0 122.0h0M355.5 122.8h0M324.0 130.1h0M351.0 101.6h0M343.6 122.6h0M318.1 126.9h0M322.3 105.9h0M327.2 118.4h0M327.3 103.7h0M339.6 114.0h0M323.4 114.2h0M323.2 110.6h0M342.4 94.9h0M338.9 106.2h0M335.1 110.0h0M335.6 87.3h0M331.4 126.0h0M339.4 122.9h0M364.0 110.6h0M323.2 131.9h0M332.4 94.7h0M327.2 122.4h0M343.1 99.7h0M336.1 113.7h0M327.6 123.0h0M331.8 117.7h0M343.5 123.0h0M335.9 114.5h0M339.4 121.5h0M343.4 129.8h0M330.5 110.3h0M326.7 109.9h0M326.7 125.2h0M339.8 119.9h0M331.1 125.9h0M338.5 122.6h0M343.4 107.5h0M319.9 126.1h0M342.9 103.1h0M330.5 124.5h0M317.9 118.5h0M327.2 118.3h0M319.0 125.5h0M339.1 96.2h0M326.8 122.3h0M326.3 126.2h0M331.0 115.1h0M326.1 118.1h0M340.2 98.8h0M327.1 110.4h0M342.1 97.5h0M323.2 113.8h0M340.0 94.5h0M347.8 103.4h0M323.2 126.6h0M321.7 125.5h0M328.2 117.2h0M338.2 125.2h0M327.1 130.1h0M335.4 110.1h0M332.0 118.9h0M356.5 127.0h0M323.0 125.5h0M326.7 113.2h0M327.4 114.9h0M343.9 98.7h0M323.7 129.0h0M322.4 122.4h0M328.3 125.3h0M325.7 109.0h0M323.1 126.0h0M320.1 124.9h0M330.4 123.0h0M336.3 114.8h0M326.5 109.7h0M322.4 118.2h0M326.6 99.3h0M340.0 126.2h0M334.8 110.9h0M339.1 119.3h0M322.0 122.6h0M327.4 122.9h0M325.0 118.3h0M342.4 110.5h0M336.3 122.2h0M319.7 127.1h0M330.2 114.8h0M323.1 125.4h0M323.2 129.8h0M322.6 126.6h0M338.8 113.9h0M327.7 118.1h0M331.7 119.7h0M322.8 122.5h0M331.2 118.1h0M342.9 98.4h0M339.7 125.8h0M327.2 122.3h0M318.9 111.5h0M340.6 95.4h0M319.5 114.2h0M316.8 126.1h0M338.3 94.4h0M327.5 118.3h0M336.0 122.9h0M330.3 126.3h0M327.9 121.2h0M343.3 102.5h0M322.8 96.0h0M345.6 107.3h0M323.5 117.6h0M334.8 107.1h0M327.5 126.4h0M331.9 128.9h0M338.7 119.0h0M347.1 126.8h0M327.8 110.7h0M322.8 130.2h0M328.3 117.1h0M323.6 127.2h0M327.0 121.9h0M322.7 118.4h0M327.2 125.5h0M339.6 115.9h0M334.7 86.9h0M323.0 122.9h0M326.5 86.4h0M321.8 124.5h0M327.7 121.3h0M347.2 114.0h0M344.3 110.1h0M335.1 126.5h0M323.6 125.9h0M331.1 111.4h0M323.1 101.8h0M364.3 111.8h0M326.7 116.3h0M326.8 126.3h0M318.1 125.2h0M319.6 127.4h0M326.2 121.9h0M334.3 121.3h0M344.3 127.2h0M348.0 110.4h0M331.5 125.9h0M322.2 117.7h0M330.8 125.7h0M322.8 118.2h0M319.9 117.5h0M322.1 114.6h0M328.1 119.0h0M322.3 113.6h0M326.8 101.8h0M347.6 102.5h0M323.5 125.7h0M334.7 126.4h0M327.2 113.0h0M323.0 125.6h0M346.9 104.9h0M322.4 107.1h0M330.9 122.7h0M376.5 122.1h0M355.9 122.6h0M332.1 126.5h0M323.7 110.7h0M326.8 110.9h0M342.8 103.6h0M334.4 110.7h0M342.8 127.0h0M326.3 110.9h0M326.6 113.8h0M340.0 122.3h0M326.8 114.7h0M322.8 115.5h0M335.2 114.7h0M340.3 121.9h0M323.6 125.0h0M328.4 126.7h0M343.0 123.6h0M322.3 126.1h0M318.4 122.2h0M327.0 106.6h0M335.5 117.4h0M318.6 122.9h0M335.3 123.1h0M326.5 79.3h0M323.0 125.7h0M326.5 99.1h0M322.9 129.8h0M318.3 125.3h0M339.4 107.1h0M322.5 127.7h0M326.7 122.1h0M332.6 117.9h0M332.1 124.8h0M323.6 121.2h0M323.4 126.1h0M322.4 113.5h0M328.5 106.5h0M344.4 110.2h0M334.8 99.9h0M336.3 102.1h0M344.4 106.8h0M340.2 122.4h0M327.0 75.2h0M327.5 114.6h0M319.2 126.1h0M342.9 121.6h0M339.5 115.3h0M334.9 121.3h0M348.1 105.5h0M322.9 75.2h0M340.3 97.8h0M323.8 106.7h0M318.6 107.0h0M343.8 116.8h0M327.9 102.8h0M323.1 126.8h0M335.7 106.6h0M339.5 122.3h0M327.1 122.1h0M323.5 107.4h0M338.6 102.5h0M335.0 111.4h0M324.3 125.6h0M358.9 118.5h0M325.5 118.3h0M331.3 127.0h0M330.8 119.2h0M323.4 102.6h0M320.3 113.3h0M339.3 103.2h0M327.6 118.4h0M322.5 95.1h0M322.4 122.2h0M327.5 110.3h0M334.9 111.6h0M331.3 102.1h0M331.8 117.9h0M333.1 118.4h0M330.2 87.9h0M330.8 126.2h0M318.5 118.7h0M319.2 118.5h0M339.4 107.2h0M346.7 108.6h0M321.6 130.4h0M327.3 129.1h0M326.4 122.9h0M344.9 125.6h0M326.4 114.9h0M326.8 125.8h0M343.7 114.4h0M322.8 110.3h0M332.8 110.1h0M338.8 87.5h0M340.2 107.6h0M334.8 122.4h0M319.0 122.0h0M344.3 103.5h0M356.0 119.1h0M328.0 117.7h0M324.1 126.4h0M322.6 122.4h0M323.5 111.4h0M331.2 118.0h0M351.4 106.6h0M327.4 130.2h0M335.8 107.4h0M323.0 121.6h0M339.8 110.8h0M350.7 123.0h0M344.3 114.4h0M322.7 125.9h0M326.9 122.2h0M328.4 122.5h0M323.4 126.7h0M322.2 123.5h0M338.9 123.3h0M322.1 126.7h0M323.2 129.0h0M324.1 108.0h0M318.5 114.4h0M319.5 122.7h0M335.6 113.5h0M339.3 96.0h0M323.0 125.2h0M324.3 118.6h0M343.5 114.7h0M324.1 122.8h0M330.3 115.3h0M330.4 115.4h0M323.4 94.9h0M328.5 106.7h0M323.0 110.5h0M328.2 106.4h0M319.5 126.2h0M335.3 122.4h0M319.1 126.4h0M334.7 123.6h0M327.7 125.6h0M331.4 106.3h0M339.0 110.4h0M336.8 122.0h0M336.3 90.5h0M326.9 117.8h0M323.8 125.9h0M322.9 121.3h0M324.6 121.8h0M323.7 125.8h0M326.1 109.9h0M334.1 121.1h0M321.7 115.6h0M350.8 105.9h0M326.0 125.9h0M327.6 122.6h0M323.8 114.2h0M326.4 126.6h0M323.2 121.9h0M319.0 121.2h0M323.9 122.5h0M339.6 121.3h0M326.5 125.8h0M322.6 111.1h0M332.0 125.8h0M324.6 121.1h0M330.9 127.1h0M343.1 95.6h0M347.6 117.9h0M324.0 123.7h0M328.3 114.7h0M322.8 121.1h0M318.9 126.0h0M330.7 126.8h0M317.8 118.8h0M343.8 99.1h0M335.6 102.7h0M323.1 111.6h0M323.1 122.5h0M330.5 127.2h0M326.9 122.6h0M339.4 118.5h0M347.8 102.2h0M321.7 106.8h0M340.1 94.5h0M340.2 92.6h0M322.5 126.7h0M350.8 125.2h0M327.4 123.9h0M323.8 113.5h0M326.6 124.8h0M322.1 122.8h0M322.2 126.1h0M348.3 99.2h0M331.2 126.9h0M334.3 118.2h0M322.6 122.4h0M331.4 122.5h0M346.3 121.2h0M323.0 99.5h0M327.2 114.6h0M342.2 102.6h0M323.0 122.6h0M323.7 125.9h0M323.8 127.0h0M323.8 126.2h0M323.3 118.3h0M339.7 99.0h0M347.9 118.9h0M328.7 125.8h0M325.9 111.6h0M323.5 121.9h0M330.5 126.2h0M326.6 122.9h0M335.5 125.8h0M336.6 117.7h0M318.8 122.8h0M328.0 110.9h0M336.0 103.7h0M327.6 121.7h0" stroke="#ff0000" opacity="0.3"/>
<path d="M336.5 116.8h0M326.6 110.9h0M335.7 106.1h0M323.7 118.1h0M331.4 121.1h0M335.5 115.2h0M327.5 119.5h0M322.4 130.8h0M331.4 110.4h0M330.2 122.1h0M327.8 124.9h0M324.1 118.4h0M330.7 114.6h0M334.5 114.0h0M323.1 102.8h0M323.2 99.6h0M327.0 125.9h0M327.4 121.9h0M322.8 122.0h0M323.3 126.7h0M322.5 121.8h0M326.5 126.9h0M323.1 118.1h0M323.5 82.7h0M326.3 126.4h0M343.2 106.6h0M349.4 106.0h0M318.4 122.8h0M343.3 121.8h0M351.1 105.3h0M323.1 126.6h0M328.4 114.3h0M326.9 117.2h0M324.3 126.2h0M344.1 125.4h0M355.8 122.8h0M322.9 94.8h0M338.2 95.3h0M327.2 115.4h0M331.4 114.9h0M323.2 110.9h0M339.4 98.7h0M335.0 122.9h0M323.8 117.9h0M335.1 118.3h0M330.7 122.6h0M331.4 126.4h0M326.1 122.3h0M331.1 118.9h0M327.4 122.4h0M338.5 109.9h0M343.6 126.7h0M326.4 126.0h0M324.1 115.5h0M327.5 121.6h0M351.7 106.0h0M351.5 122.2h0M326.8 126.1h0M343.9 130.1h0M323.7 125.9h0M327.1 106.1h0M330.6 122.5h0M339.2 113.6h0M358.8 113.6h0M331.9 130.7h0M334.8 118.4h0M331.5 107.1h0M339.8 92.0h0M323.1 130.5h0M327.2 122.0h0M339.4 118.4h0M322.3 126.0h0M318.4 122.3h0M322.7 126.9h0M351.5 107.2h0M327.4 99.9h0M335.6 121.9h0M359.8 115.0h0M331.7 125.7h0M335.5 98.3h0M323.1 110.5h0M321.9 95.7h0M331.9 87.2h0M329.4 114.1h0M323.3 106.9h0M332.7 113.9h0M339.1 122.9h0M322.2 126.7h0M335.9 122.1h0M329.2 117.9h0M334.8 106.5h0M328.1 129.2h0M326.9 117.7h0M346.8 118.5h0M335.8 83.6h0M330.3 114.4h0M331.8 119.1h0M342.2 98.5h0M326.4 122.3h0M327.2 118.2h0M322.1 125.9h0M342.8 102.6h0M321.9 95.8h0M322.1 122.2h0M323.1 121.6h0M327.0 106.1h0M338.3 125.7h0M339.0 106.9h0M347.1 118.3h0M323.3 130.0h0M338.8 99.1h0M338.9 118.4h0M323.9 126.9h0M339.6 91.3h0M321.8 110.8h0M340.2 117.6h0M331.7 119.7h0M323.9 121.7h0M326.8 109.6h0M343.8 110.5h0M330.7 118.3h0M324.4 114.8h0M330.5 126.1h0M334.6 83.1h0M323.0 122.7h0M326.9 122.4h0M348.0 102.7h0M326.8 126.5h0M342.7 104.5h0M326.7 125.8h0M327.8 125.7h0M335.4 121.6h0M342.4 106.9h0M319.1 126.7h0M322.9 127.8h0M322.4 111.4h0M336.3 103.3h0M326.8 83.2h0M327.5 126.1h0M327.2 110.8h0M326.6 118.2h0M322.9 125.3h0M351.6 117.8h0M338.9 122.4h0M323.5 126.5h0M322.0 122.2h0M351.9 114.9h0M336.3 130.5h0M340.5 126.4h0M347.9 106.3h0M350.1 103.5h0M327.0 125.7h0M355.7 110.4h0M326.4 122.1h0M318.8 124.5h0M318.4 129.4h0M319.1 125.9h0M327.6 98.4h0M322.4 121.9h0M335.1 110.6h0M331.2 119.0h0M334.8 125.7h0M323.4 130.3h0M323.3 130.2h0M351.4 125.4h0M327.2 126.7h0M328.6 129.5h0M331.3 123.4h0M326.4 118.9h0M323.4 94.5h0M326.9 125.8h0M326.7 118.6h0M347.1 107.4h0M328.3 120.7h0M343.7 115.1h0M327.3 130.3h0M332.4 101.9h0M326.8 126.0h0M327.4 122.2h0M323.4 118.6h0M323.0 125.4h0M327.4 122.4h0M343.9 127.3h0M331.2 114.7h0M322.3 125.6h0M323.0 110.1h0M323.0 130.0h0M327.5 122.2h0M323.5 122.2h0M327.8 110.3h0M327.4 125.9h0M322.5 122.3h0M323.4 124.9h0M322.4 118.2h0M356.5 117.9h0M331.3 114.4h0M323.1 122.2h0M322.3 114.4h0M322.7 126.1h0M318.6 106.4h0M335.0 94.5h0M346.4 126.6h0M330.1 110.4h0M339.4 109.8h0M323.1 129.6h0M340.0 92.2h0M343.2 98.7h0M322.6 122.2h0M323.1 115.3h0M326.3 114.4h0M322.7 130.4h0M339.3 125.6h0M333.7 123.1h0M322.8 87.4h0M343.9 102.8h0M323.2 113.9h0M322.9 126.2h0M322.6 121.5h0M322.7 130.0h0M339.2 126.6h0M327.4 121.6h0M323.2 118.5h0M331.3 117.9h0M339.0 122.3h0M334.8 114.6h0M342.4 125.8h0M334.6 110.6h0M326.9 106.4h0M322.8 118.2h0M323.3 125.1h0M323.5 118.9h0M344.3 105.3h0M339.2 88.2h0M322.0 99.0h0M327.3 122.5h0M320.3 122.6h0M323.6 121.2h0M330.9 94.4h0M322.8 126.3h0M322.1 111.1h0M334.6 102.7h0M338.6 125.1h0M335.1 118.2h0M334.6 118.7h0M338.7 103.3h0M332.5 106.6h0M327.0 125.8h0M339.1 113.7h0M347.0 103.7h0M330.9 121.7h0M331.2 122.1h0M322.5 111.0h0M321.0 119.3h0M323.6 120.5h0M322.4 105.8h0M342.5 114.0h0M326.9 117.7h0M335.3 102.8h0M322.4 122.5h0M322.7 125.5h0M322.8 105.9h0M327.2 113.3h0M322.8 103.1h0M330.9 118.6h0M323.3 122.0h0M326.7 126.8h0M346.5 111.2h0M327.8 106.7h0M323.3 126.4h0M325.9 87.4h0M326.9 117.8h0M322.4 122.6h0M331.6 96.0h0M332.1 119.0h0M331.3 126.1h0M325.9 118.0h0M335.0 121.8h0M335.7 121.3h0M327.3 115.0h0M322.4 125.9h0M342.9 95.0h0M334.4 110.6h0M354.6 110.7h0M342.4 96.4h0M323.1 130.7h0M322.9 114.7h0M347.5 103.0h0M330.6 118.2h0M323.1 113.7h0M331.3 118.8h0M331.8 95.6h0M351.9 110.3h0M322.8 129.8h0M340.3 118.5h0M327.6 122.2h0M331.0 111.6h0M318.7 125.7h0M327.2 127.1h0M330.7 113.5h0M330.8 118.5h0M326.5 125.7h0M324.4 106.6h0M324.2 114.9h0M322.4 126.6h0M338.7 122.4h0M322.9 113.8h0M339.5 105.8h0M331.0 122.9h0M321.0 122.1h0M330.8 125.7h0M322.2 115.0h0M322.8 126.1h0M317.8 125.8h0M326.6 126.2h0M323.8 107.1h0M330.8 113.8h0M327.0 121.4h0M318.5 103.3h0M323.5 130.5h0M321.6 119.2h0M331.3 121.9h0M343.0 98.4h0M326.4 124.6h0M346.9 106.7h0M327.2 130.2h0M343.0 121.4h0M322.6 124.9h0M327.8 114.7h0M335.0 121.7h0M335.6 106.7h0M319.1 130.3h0M330.7 110.7h0M326.3 126.5h0M336.0 93.8h0M322.8 122.5h0M334.9 98.5h0M334.5 126.4h0M343.1 103.3h0M321.6 126.5h0M334.4 106.8h0M330.9 110.8h0M330.5 107.3h0M323.4 110.8h0M352.8 118.4h0M322.2 122.1h0M323.4 125.6h0M326.6 110.9h0M323.3 107.1h0M323.6 122.5h0M330.9 123.2h0M351.1 122.1h0M330.4 102.7h0M331.8 118.0h0M327.6 118.8h0M323.3 121.4h0M339.4 100.1h0M331.7 120.8h0M332.3 122.5h0M319.2 126.0h0M330.8 114.9h0M343.3 113.6h0M347.4 106.3h0M336.4 111.4h0M326.5 102.6h0M328.0 94.1h0M319.8 113.2h0M351.7 121.9h0M347.8 101.9h0M331.1 114.7h0M323.6 126.1h0M323.6 80.4h0M339.3 125.3h0M328.2 121.2h0M322.1 127.0h0M342.6 94.2h0M330.6 106.1h0M351.4 103.0h0M334.1 95.1h0M336.2 121.6h0M318.0 130.4h0M344.1 98.8h0M326.6 126.8h0M355.3 119.2h0M334.7 103.3h0M318.9 129.9h0M324.4 117.8h0M331.6 122.1h0M326.5 113.8h0M327.0 118.0h0M339.4 122.0h0M338.7 123.4h0M323.5 121.4h0M323.1 114.9h0M327.0 117.5h0M327.7 122.8h0M327.4 123.0h0M317.5 126.4h0M330.6 126.0h0M322.0 114.1h0M322.5 124.9h0M321.8 122.9h0M327.3 121.5h0M318.1 106.5h0M319.4 126.0h0M327.7 129.4h0M327.1 125.9h0M322.3 114.6h0M331.1 98.7h0M322.5 122.7h0M342.3 95.2h0M327.0 122.9h0M342.4 99.4h0M334.4 103.0h0M318.5 122.6h0M331.8 106.2h0M352.1 109.2h0M318.6 129.2h0M339.3 99.0h0M327.3 114.6h0M344.2 118.8h0M334.5 96.1h0M348.1 107.3h0M323.8 122.2h0M328.6 117.4h0M340.5 102.2h0M334.4 126.2h0M323.0 83.1h0M322.2 118.7h0M327.5 115.1h0M342.7 106.8h0M326.6 114.6h0M326.5 114.1h0M343.5 99.5h0M330.6 125.2h0M336.7 106.3h0M348.1 110.5h0M323.1 117.9h0M330.0 125.4h0M331.0 87.0h0M317.7 125.9h0M343.2 94.9h0M325.7 115.1h0M322.5 118.8h0M326.1 105.9h0M322.0 122.5h0M340.9 118.6h0M327.7 131.1h0M319.1 106.6h0M324.1 126.0h0M335.1 114.3h0M318.3 111.1h0M359.6 126.6h0M327.1 127.0h0M321.8 126.1h0M327.0 125.9h0M322.7 125.7h0M318.1 111.1h0M322.5 130.0h0M326.9 107.0h0M323.9 126.1h0M335.7 102.5h0M323.7 125.7h0M392.0 121.5h0M343.5 118.5h0M331.3 126.4h0M352.2 111.5h0M322.2 121.0h0M343.1 106.7h0M331.7 126.2h0M324.4 126.2h0M322.0 113.8h0M339.2 98.9h0M326.3 106.7h0M326.0 117.4h0M330.4 118.5h0M335.3 111.2h0M331.3 107.0h0M335.1 118.6h0M338.9 90.2h0M336.2 125.8h0M327.9 110.7h0M326.7 107.9h0M347.4 102.3h0M339.8 106.5h0M329.2 118.5h0M327.4 125.8h0M318.4 106.4h0M323.1 125.1h0M334.6 127.0h0M331.1 121.4h0M331.4 121.3h0M343.6 102.7h0M335.6 125.1h0M347.4 117.9h0M339.7 129.7h0M347.6 114.5h0M326.5 106.0h0M323.5 121.9h0M321.8 98.8h0M322.7 126.7h0M331.2 129.5h0M343.5 114.5h0M343.9 102.0h0M323.3 118.9h0M326.5 102.1h0M346.7 103.3h0M347.7 106.1h0M324.6 117.5h0M319.1 125.3h0M331.2 130.4h0M323.9 126.0h0M347.1 115.7h0M327.3 122.2h0M340.1 94.4h0M338.9 109.7h0M331.5 122.7h0M323.1 112.9h0M322.8 118.2h0M319.1 102.2h0M342.6 122.5h0M323.2 98.1h0M339.7 130.3h0M347.2 117.0h0M326.1 122.5h0M322.3 118.7h0M321.7 125.6h0M339.7 125.1h0M327.3 125.8h0M339.3 124.9h0M327.5 117.7h0M322.1 130.6h0M323.2 118.6h0M342.4 95.1h0M327.5 110.2h0M326.9 111.2h0M335.6 99.4h0M322.1 106.2h0M323.4 125.8h0M338.3 115.1h0M323.8 114.4h0M322.5 118.5h0M326.1 122.7h0M331.8 114.2h0M323.9 105.7h0M340.7 91.2h0M326.8 130.4h0M326.5 125.1h0M322.8 121.8h0M322.4 130.3h0M323.0 121.8h0M327.8 83.2h0M326.6 121.6h0M323.3 123.1h0M339.5 125.5h0M327.2 123.2h0M335.0 72.7h0M323.7 126.7h0M331.6 121.8h0M351.6 121.8h0M323.8 122.2h0M318.8 110.8h0M331.3 113.7h0M323.2 115.4h0M335.8 118.1h0M335.1 119.0h0M323.5 122.1h0M318.3 121.1h0M328.2 109.7h0M323.6 128.9h0M355.1 118.4h0M323.9 125.6h0M326.8 114.6h0M319.2 114.8h0M334.8 94.7h0M344.7 99.1h0M319.3 129.6h0M368.5 125.6h0M327.1 106.8h0M335.1 121.5h0M323.1 125.3h0M327.5 122.1h0M332.6 118.5h0M336.0 119.3h0M322.2 122.5h0M322.6 126.8h0M328.5 119.2h0M338.6 102.3h0M323.7 116.6h0M338.4 114.6h0M330.9 122.3h0M344.2 102.7h0M331.6 122.5h0M335.6 126.1h0M354.9 116.1h0M323.0 124.9h0M339.6 106.8h0M324.4 110.8h0M322.5 129.5h0M332.0 87.4h0M326.6 110.1h0M323.3 110.7h0M339.9 92.4h0M322.1 127.0h0M321.9 126.3h0M332.0 118.4h0M347.0 102.5h0M322.8 98.9h0M318.1 121.6h0M330.0 114.9h0M340.2 102.7h0M323.1 125.3h0M335.1 84.1h0M332.8 107.2h0M327.1 129.2h0M326.5 115.0h0M331.8 125.9h0M331.7 114.8h0M331.9 110.4h0M322.8 125.7h0M323.5 115.1h0M325.7 98.1h0M323.7 110.1h0M323.3 122.4h0M326.1 95.3h0M323.1 126.4h0M319.2 129.4h0M355.9 126.1h0M345.5 111.1h0M339.3 117.7h0M323.4 107.5h0M331.4 125.5h0M323.1 123.3h0M330.2 114.3h0M339.3 94.8h0M317.8 115.2h0M344.5 110.5h0M322.0 115.4h0M327.6 121.7h0M328.0 122.8h0M326.1 122.6h0M327.4 118.4h0M336.5 78.6h0M331.3 118.3h0M318.9 130.4h0M327.7 122.1h0M331.4 114.9h0M346.6 115.6h0M323.2 126.1h0M327.0 109.8h0M334.2 121.7h0M340.1 99.6h0M332.0 118.5h0M335.5 102.2h0M322.2 122.0h0M339.8 119.0h0M340.4 89.9h0M322.7 123.4h0M327.7 122.9h0M351.7 118.7h0M318.3 109.9h0M331.1 118.8h0M334.9 121.7h0M327.6 102.3h0M322.0 125.8h0M327.5 122.0h0M336.4 99.6h0M331.2 125.5h0M327.7 121.4h0M348.0 104.0h0M322.6 113.6h0M346.1 102.8h0M344.0 122.2h0M327.4 126.0h0M331.5 117.5h0M325.1 114.7h0M326.4 126.0h0M336.1 125.4h0M332.0 118.6h0M327.1 127.0h0M324.3 98.6h0M335.4 118.6h0M344.0 125.6h0M323.1 106.6h0M330.0 91.3h0M321.8 126.3h0M342.8 122.4h0M326.9 101.6h0M322.9 125.3h0M327.1 86.1h0M323.4 123.3h0M326.5 110.1h0M335.6 122.7h0M332.2 124.5h0M322.6 122.0h0M334.6 106.6h0M318.7 110.4h0M334.5 122.1h0M335.1 107.2h0M343.2 106.1h0M326.3 121.9h0M326.4 125.3h0M343.7 125.9h0M319.1 122.2h0M322.6 125.8h0M319.8 114.1h0M331.5 114.2h0M323.4 101.4h0M335.5 114.0h0M322.3 113.4h0M342.8 107.4h0M322.9 118.3h0M327.2 127.3h0M347.5 122.0h0M322.8 118.4h0M331.3 125.4h0M334.5 98.6h0M357.4 119.1h0M318.9 126.4h0M322.3 110.1h0M322.6 110.3h0M323.5 129.0h0M322.5 126.1h0M348.1 110.8h0M334.6 117.6h0M335.0 119.0h0M326.2 122.5h0M339.2 91.7h0M318.4 125.1h0M326.7 121.4h0M321.7 128.7h0M322.0 110.2h0M328.1 118.5h0M344.6 118.0h0M335.4 102.7h0M323.0 114.8h0M334.9 98.0h0M332.8 90.9h0M347.4 126.7h0M318.3 126.2h0M322.3 119.4h0M330.6 96.0h0M327.0 115.2h0M335.0 111.0h0M323.9 126.4h0M321.2 130.3h0M331.2 118.5h0M339.2 118.4h0M330.1 123.8h0M330.2 126.5h0M338.6 106.9h0M331.5 118.2h0M322.4 130.3h0M340.1 99.3h0M323.6 122.2h0M322.2 111.0h0M340.0 121.4h0M330.9 125.2h0M326.3 109.6h0M322.8 126.1h0M319.5 108.3h0M327.9 115.0h0M322.6 79.3h0M330.9 115.0h0M347.0 117.7h0M323.4 129.4h0M347.3 103.0h0M347.2 113.2h0M330.8 122.9h0M326.6 130.3h0M322.3 122.4h0M343.5 102.1h0M335.2 94.7h0M336.2 95.9h0M332.5 118.8h0M322.3 99.3h0M326.7 122.7h0M326.3 122.8h0M322.2 122.5h0M323.5 117.5h0M323.1 121.9h0M344.3 120.8h0M321.8 84.3h0M338.8 111.2h0M327.7 122.4h0M322.9 126.1h0M327.1 98.5h0M318.7 83.8h0M318.2 119.1h0M326.4 122.7h0M339.3 111.1h0M326.8 106.8h0M329.7 100.7h0M343.9 102.1h0M331.1 129.7h0M331.2 121.1h0M326.5 109.6h0M325.7 113.2h0M321.6 121.4h0M324.0 90.5h0M319.9 89.0h0M327.2 121.9h0M335.0 118.1h0M344.1 126.9h0M324.3 129.6h0M318.5 130.1h0M325.9 123.5h0M322.7 123.2h0M323.9 125.3h0M322.6 129.6h0M322.8 122.5h0M331.8 122.7h0M322.3 126.1h0M318.4 130.1h0M323.8 122.8h0M326.6 106.7h0M331.9 117.9h0M343.7 98.6h0M331.5 126.2h0M318.5 118.7h0M318.6 125.7h0M321.8 122.7h0M339.5 122.3h0M338.2 106.6h0M323.7 126.2h0M332.9 126.9h0M326.3 126.5h0M343.8 97.9h0M340.1 110.2h0M325.5 125.7h0M331.1 99.2h0M344.1 110.3h0M335.4 106.0h0M327.9 127.0h0M327.2 121.6h0M323.4 125.8h0M327.0 125.0h0M319.0 127.2h0M343.1 102.4h0M322.5 120.4h0M321.3 121.9h0M330.9 118.7h0M323.2 118.4h0M327.6 128.0h0M318.5 102.5h0M323.4 118.1h0M330.0 121.9h0M327.2 114.3h0M323.5 130.2h0M323.2 79.8h0M330.1 127.2h0M335.1 118.5h0M323.9 129.6h0M350.7 106.6h0M327.2 102.8h0M331.4 103.1h0M336.1 90.7h0M338.7 106.7h0M335.8 126.6h0M326.2 126.4h0M351.8 118.3h0M319.9 121.6h0M321.1 117.6h0M331.3 110.8h0M322.5 130.9h0M323.5 94.9h0M325.3 122.4h0M331.2 117.9h0M323.2 99.1h0M331.2 105.9h0M347.2 106.8h0M326.5 104.1h0M330.3 107.2h0M327.9 103.3h0M323.0 127.2h0M334.6 129.3h0M324.0 110.7h0M319.1 122.2h0M324.0 126.4h0M322.6 130.3h0M342.9 102.1h0M348.4 107.2h0M321.5 127.1h0M317.9 126.4h0M331.2 110.7h0M347.0 106.3h0M331.3 118.9h0M322.8 127.1h0M334.7 118.6h0M343.7 121.9h0M326.4 130.2h0M327.7 110.4h0M328.2 109.6h0M324.4 114.0h0M339.6 121.7h0M322.9 121.3h0M322.5 117.1h0M323.1 115.8h0M331.5 100.2h0M332.7 123.0h0M327.5 107.2h0M331.0 91.4h0M331.1 103.3h0M323.2 119.4h0M339.3 114.1h0M326.5 121.8h0M335.6 103.2h0M330.6 122.0h0M335.7 83.2h0M336.1 71.0h0M328.6 114.8h0M343.5 98.8h0M330.8 122.1h0M331.1 114.9h0M341.0 121.3h0M335.8 113.7h0M327.4 87.5h0M335.7 117.6h0M330.1 122.7h0M327.0 126.6h0M326.6 123.3h0M319.3 123.0h0M346.4 118.0h0M323.7 117.9h0M336.0 121.6h0M326.9 122.0h0M323.1 125.2h0M332.9 119.1h0M338.5 125.6h0M330.6 126.2h0M335.0 114.8h0M355.0 118.8h0M319.4 109.3h0M322.5 107.8h0M347.0 126.0h0M346.5 107.1h0M318.8 99.3h0M330.3 91.2h0M343.3 115.4h0M340.1 114.6h0M322.3 119.4h0M339.7 122.7h0M322.8 130.4h0M335.5 125.5h0M343.3 118.2h0M322.4 122.3h0M330.8 121.7h0M325.9 117.8h0M330.8 91.3h0M332.3 122.1h0M326.4 115.9h0M330.1 82.8h0M334.5 110.1h0M347.6 102.6h0M330.6 129.0h0M321.9 103.7h0M327.3 122.1h0M325.7 100.1h0M327.2 125.9h0M327.1 107.4h0M332.0 122.0h0M335.1 121.9h0M332.5 117.7h0M326.4 90.7h0M323.7 129.8h0M318.2 114.3h0M320.5 125.4h0M325.7 121.6h0M348.4 122.0h0M343.8 99.2h0M323.4 118.5h0M323.4 129.9h0M326.5 122.4h0M323.3 118.4h0M327.2 125.8h0M318.5 122.5h0M334.3 94.3h0M322.8 118.7h0M327.4 106.8h0M335.7 123.1h0M335.2 122.7h0M318.9 114.8h0M344.3 118.6h0M322.7 114.2h0M322.3 113.4h0M336.0 110.4h0M327.3 126.7h0M327.0 125.3h0M339.8 102.1h0M326.8 118.0h0M322.3 129.3h0M332.1 113.7h0M335.2 111.7h0M332.0 121.4h0M335.1 125.8h0M343.8 103.1h0M341.1 117.6h0M338.9 106.7h0M319.9 130.5h0M327.3 126.2h0M324.5 101.8h0M348.0 102.3h0M330.8 110.8h0M323.2 126.2h0M326.8 122.7h0M326.1 125.2h0M327.3 129.2h0M323.6 125.6h0M322.9 131.5h0M335.7 113.9h0M323.5 125.8h0M340.5 122.0h0M359.8 118.9h0M323.8 109.3h0M340.1 114.0h0M317.9 109.9h0M323.0 110.0h0M325.9 122.4h0M339.6 121.8h0M331.0 120.9h0M327.5 126.1h0M344.2 125.9h0M340.1 90.5h0M331.4 117.4h0M322.4 114.0h0M344.4 106.7h0M335.2 99.1h0M339.7 118.3h0M323.8 125.7h0M356.3 114.3h0M323.1 130.4h0M339.9 106.5h0M323.0 122.1h0M322.8 106.8h0M334.9 126.5h0M347.3 120.0h0M331.0 118.4h0M323.6 113.7h0M319.2 129.7h0M327.1 122.2h0M323.1 114.2h0M330.1 121.9h0M317.8 130.9h0M322.9 110.9h0M318.9 115.2h0M359.5 126.4h0M318.4 110.7h0M331.4 115.3h0M335.3 113.6h0M323.5 121.7h0M328.1 126.5h0M323.4 125.9h0M342.5 94.3h0M322.2 126.3h0M327.0 126.7h0M347.1 111.3h0M343.1 113.9h0M338.8 90.7h0M322.3 127.4h0M323.2 106.3h0M322.6 102.8h0M332.0 126.9h0M327.1 126.9h0M321.8 126.2h0M340.7 114.2h0M331.6 105.9h0M327.7 118.6h0M324.2 121.8h0M323.2 86.8h0M335.7 121.6h0M336.0 114.9h0M326.5 115.2h0M328.6 121.7h0M331.5 114.2h0M318.8 130.6h0M343.5 117.9h0M340.0 92.3h0M326.5 122.5h0M351.2 111.2h0M341.1 107.1h0M328.0 110.9h0M319.0 125.5h0M343.7 99.2h0M342.1 107.7h0M331.8 126.3h0M323.3 122.6h0M323.1 130.6h0M346.5 103.0h0M327.9 99.2h0M331.9 95.0h0M351.8 107.1h0M342.7 122.4h0M325.1 121.6h0M324.5 127.3h0M330.2 119.3h0M322.8 103.1h0M331.8 129.7h0M322.2 114.6h0M327.5 91.5h0M352.2 106.5h0M322.0 122.8h0M318.1 98.7h0M327.5 126.0h0M343.3 99.7h0M323.4 87.3h0M335.7 115.7h0M326.9 118.4h0M319.1 98.3h0M330.9 120.4h0M323.4 130.3h0M322.6 118.3h0M347.4 114.8h0M335.3 122.3h0M324.2 122.6h0M326.7 122.2h0M322.4 114.7h0M342.2 103.2h0M339.3 92.0h0M331.6 110.8h0M326.7 103.1h0M323.0 110.3h0M334.5 126.2h0M343.7 106.3h0M330.5 114.8h0M323.7 103.6h0M326.5 125.8h0M338.9 106.8h0M323.4 125.6h0M319.6 130.1h0M335.7 121.6h0M319.4 63.7h0M323.1 117.9h0M322.6 110.9h0M322.9 125.6h0M348.3 117.3h0M323.4 127.2h0M318.7 128.9h0M339.7 122.6h0M322.4 121.2h0M326.8 122.6h0M324.2 125.9h0M323.6 126.8h0M323.3 110.9h0M327.3 114.7h0M334.8 121.2h0M321.7 121.0h0M344.2 98.9h0M335.4 119.4h0M326.8 122.3h0M322.8 125.6h0M324.0 121.0h0M318.8 121.6h0M323.9 110.9h0M326.5 106.5h0M343.4 110.3h0M330.4 110.8h0M327.8 126.8h0M355.6 118.3h0M339.0 110.2h0M330.1 121.6h0M331.2 124.8h0M322.6 98.9h0M322.9 110.2h0M326.6 122.5h0M322.4 122.1h0M327.2 112.0h0M317.7 114.5h0M347.6 106.3h0M326.9 125.9h0M331.6 95.3h0M331.5 126.3h0M331.1 113.8h0M330.1 122.4h0M324.3 126.7h0M327.8 130.5h0M323.6 105.3h0M330.9 109.3h0M319.4 126.0h0M330.9 130.3h0M322.8 122.0h0M331.0 125.8h0M334.5 121.8h0M319.1 121.8h0M323.4 126.3h0M323.9 125.3h0M348.0 118.2h0M335.7 107.3h0M322.7 122.4h0M335.5 117.8h0M339.0 126.2h0M335.2 119.3h0M328.2 110.1h0M326.9 130.3h0M334.9 123.1h0M327.1 101.5h0M322.5 126.3h0M322.9 99.5h0M339.8 117.9h0M351.0 115.3h0M347.6 107.1h0M321.9 114.6h0M343.7 108.3h0M330.9 115.0h0M327.4 127.4h0M330.6 126.0h0M323.0 121.8h0M321.9 106.2h0M322.1 122.3h0M335.2 123.5h0M334.0 129.8h0M325.8 126.3h0M338.8 99.4h0M334.8 99.4h0M327.6 126.1h0M318.6 84.9h0M326.5 110.2h0M334.5 118.1h0M352.4 106.6h0M342.6 98.7h0M324.2 125.9h0M327.0 123.2h0M331.2 94.6h0M334.2 119.3h0M331.4 120.7h0M352.1 107.4h0M339.8 87.4h0M322.9 117.9h0M318.3 118.9h0M343.6 118.5h0M322.8 122.4h0M320.2 100.3h0M351.8 106.9h0M322.2 114.5h0M319.9 130.6h0M326.8 126.3h0M327.5 114.1h0M321.8 118.1h0M335.0 119.2h0M338.9 109.8h0M326.8 118.6h0M319.3 122.4h0M326.1 126.3h0M335.1 126.0h0M332.6 129.3h0M322.6 126.2h0M320.1 114.4h0M348.1 118.5h0M331.2 117.5h0M323.2 107.0h0M322.7 113.2h0M323.1 125.9h0M334.9 125.9h0M342.9 98.1h0M326.2 99.3h0M328.0 119.1h0M326.3 107.7h0M344.0 111.1h0M326.9 125.9h0M326.5 126.3h0M321.8 129.3h0M318.5 127.1h0M324.5 114.3h0" stroke="#ff0000" opacity="0.3"/>
<path d="M356.2 98.9h0M347.5 75.8h0M342.9 94.9h0M346.2 83.6h0M346.9 78.9h0M359.8 80.1h0M355.7 87.6h0M351.3 86.0h0M356.1 99.4h0M355.7 86.8h0M355.9 84.0h0M363.9 82.9h0M351.9 95.6h0M356.0 72.1h0M356.0 91.4h0M384.3 61.1h0M354.9 82.7h0M348.0 96.7h0M343.2 93.6h0M365.4 86.6h0M351.3 71.6h0M364.0 79.1h0M364.2 76.4h0M351.1 99.7h0M353.0 107.6h0M358.8 82.6h0M348.0 95.8h0M352.4 99.7h0M355.9 98.8h0M348.4 87.0h0M347.6 98.9h0M351.6 94.9h0M356.3 72.9h0M355.5 74.8h0M348.3 98.3h0M356.1 83.4h0M345.0 96.8h0M369.1 95.2h0M364.3 83.8h0M347.0 70.8h0M351.3 92.3h0M355.0 74.8h0M339.8 82.9h0M363.2 90.4h0M359.3 103.4h0M352.2 87.6h0M362.6 83.1h0M351.5 87.4h0M351.9 102.7h0M356.1 107.3h0M352.1 102.5h0M348.4 91.2h0M360.7 93.4h0M347.3 94.3h0M343.5 88.0h0M363.9 95.7h0M352.5 97.7h0M339.7 79.9h0M347.8 88.7h0M355.4 84.2h0M364.2 90.4h0M355.8 86.5h0M355.7 83.4h0M356.0 91.8h0M348.4 87.7h0M368.4 87.6h0M351.6 100.8h0M348.6 80.1h0M351.8 98.7h0M350.8 88.0h0M356.6 63.6h0M351.2 95.3h0M359.7 95.8h0M347.2 90.8h0M364.2 95.0h0M350.9 85.7h0M351.3 75.4h0M347.6 95.4h0M363.2 64.8h0M359.5 82.9h0M350.5 95.1h0M347.0 94.9h0M384.2 63.6h0M348.1 94.8h0M359.8 76.4h0M343.4 90.6h0M347.2 82.6h0M359.9 63.7h0M350.6 90.7h0M346.8 102.1h0M347.1 91.1h0M358.7 75.2h0M356.2 79.4h0M347.5 85.7h0M347.4 67.4h0M355.6 91.1h0M351.9 80.1h0M354.8 79.2h0M364.9 75.0h0M343.5 87.5h0M355.1 94.5h0M352.3 99.8h0M347.5 95.4h0M351.5 91.3h0M351.5 78.8h0M352.2 74.9h0M364.5 44.1h0M343.1 96.0h0M363.9 68.6h0M350.2 90.8h0M356.7 94.0h0M347.0 94.9h0M348.6 83.1h0M347.6 98.7h0M350.9 86.9h0M343.7 94.7h0M366.9 90.7h0M348.6 99.3h0M351.9 92.4h0M343.0 83.3h0M356.8 90.9h0M347.4 86.8h0M340.3 79.9h0M371.7 82.6h0M351.2 99.3h0M351.7 99.0h0M347.3 83.1h0M351.2 90.9h0M356.3 94.4h0M351.2 83.4h0M372.7 65.0h0M363.1 91.5h0M384.1 75.8h0M376.0 52.3h0M359.9 80.2h0M347.0 83.8h0M355.2 103.1h0M354.8 83.1h0M351.5 75.9h0M351.8 88.3h0M351.1 83.0h0M356.7 78.4h0M359.7 76.3h0M350.6 82.7h0M363.9 72.7h0M346.9 91.7h0M349.0 95.5h0M351.8 98.8h0M352.4 95.5h0M354.8 91.6h0M351.9 90.0h0M355.2 84.0h0M367.4 73.3h0M344.0 91.1h0M363.0 82.5h0M348.1 87.0h0M350.9 87.5h0M358.9 71.2h0M363.3 63.5h0M347.9 82.9h0M350.8 75.9h0M351.5 98.1h0M346.4 83.4h0M360.5 106.8h0M350.8 99.8h0M352.6 75.6h0M360.6 91.0h0M351.1 92.1h0M347.9 83.0h0M363.6 76.3h0M367.1 83.8h0M356.3 99.1h0M371.7 85.9h0M343.4 95.8h0M355.6 91.0h0M360.0 76.3h0M362.7 79.4h0M351.4 80.0h0M351.4 103.1h0M339.0 83.7h0M356.2 95.6h0M354.9 83.7h0M372.6 68.9h0M342.7 83.5h0M354.5 86.9h0M352.2 98.7h0M363.7 87.4h0M355.3 68.0h0M347.4 95.5h0M339.9 76.3h0M343.6 94.9h0M363.5 79.6h0M351.2 94.9h0M376.3 56.4h0M363.5 110.4h0M351.9 86.2h0M356.4 87.8h0M344.0 95.7h0M351.6 91.0h0M356.2 87.9h0M355.2 84.2h0M360.5 79.6h0M364.1 79.1h0M355.7 79.4h0M343.5 95.3h0M360.4 91.5h0M347.1 94.5h0M355.1 80.0h0M356.0 75.3h0M359.6 76.1h0M360.5 90.8h0M359.9 86.7h0M367.1 52.1h0M347.6 90.8h0M347.7 95.8h0M364.0 95.0h0M351.9 83.3h0M375.3 72.7h0M376.5 60.3h0M344.2 97.8h0M348.9 86.7h0M355.6 87.7h0M358.9 95.0h0M347.2 79.4h0M346.4 87.0h0M355.2 72.6h0M347.4 90.8h0M355.5 86.5h0M352.1 86.8h0M351.5 94.9h0M364.0 75.8h0M368.0 79.8h0M359.7 99.6h0M350.8 86.7h0M359.4 71.7h0M359.4 79.4h0M368.4 71.9h0M356.6 55.7h0M347.5 78.8h0M346.9 99.1h0M343.2 95.0h0M355.2 92.6h0M364.2 75.2h0M348.2 98.5h0M352.2 104.3h0M346.6 98.9h0M355.5 86.9h0M355.9 95.2h0M348.7 95.0h0M351.2 70.9h0M351.5 90.8h0M355.8 84.2h0M351.1 86.8h0M355.0 84.6h0M355.8 95.2h0M351.5 91.7h0M359.5 88.6h0M352.1 91.6h0M351.6 72.0h0M352.6 101.7h0M354.2 86.9h0M363.1 86.8h0M351.7 87.5h0M348.3 91.6h0M349.9 90.7h0M364.9 63.1h0M352.1 83.7h0M355.4 94.5h0M351.3 103.0h0M356.0 86.8h0M351.8 87.4h0M355.4 86.9h0M344.2 86.4h0M352.5 91.4h0M363.6 79.6h0M355.9 94.5h0M364.6 83.7h0M351.4 83.2h0M372.9 72.0h0M363.2 93.3h0M358.3 102.6h0M352.2 79.7h0M351.0 80.4h0M351.8 95.7h0M356.4 64.2h0M349.2 95.2h0M346.9 86.4h0M348.0 92.4h0M344.6 91.0h0M341.7 91.1h0M352.1 83.9h0M360.4 87.2h0M351.9 81.0h0M376.3 71.7h0M347.2 87.2h0M347.7 94.8h0M344.2 83.8h0M364.1 85.6h0M347.9 103.0h0M356.8 87.5h0M346.8 98.4h0M368.0 60.7h0M350.4 99.2h0M351.9 87.8h0M362.9 72.5h0M368.6 57.0h0M347.2 86.4h0M355.8 94.1h0M372.9 75.6h0M352.5 102.7h0M351.1 102.9h0M355.0 99.0h0M351.1 90.8h0M353.4 70.6h0M347.1 82.3h0M364.3 83.8h0M360.1 97.4h0M354.9 106.6h0M363.4 95.2h0M359.7 60.4h0M344.6 86.8h0M347.9 79.5h0M353.1 98.8h0M355.8 95.0h0M344.1 90.8h0M359.9 82.3h0M351.4 102.3h0M347.7 87.0h0M354.9 75.8h0M356.5 95.5h0M358.3 98.8h0M364.2 71.4h0M348.2 95.7h0M355.1 93.8h0M355.9 78.4h0M359.9 94.8h0M359.9 75.1h0M340.0 82.8h0M351.8 86.8h0M360.2 86.8h0M360.8 82.9h0M350.6 92.0h0M343.8 94.3h0M352.0 91.0h0M347.4 84.0h0M343.4 87.8h0M372.7 71.7h0M347.8 82.9h0M360.2 95.3h0M347.9 76.3h0M355.1 95.3h0M355.4 91.5h0M359.9 71.9h0M359.4 71.6h0M363.4 67.7h0M354.6 95.6h0M363.4 99.0h0M352.2 79.0h0M359.2 76.1h0M342.2 86.8h0M351.4 91.0h0M356.4 99.5h0M350.6 102.0h0M344.1 87.3h0M356.0 99.2h0M351.3 86.8h0M356.3 106.1h0M360.1 75.7h0M355.8 107.1h0M355.5 95.6h0M347.4 86.6h0M355.5 87.0h0M345.9 95.4h0M351.4 92.3h0M363.5 98.7h0M360.0 91.3h0M371.9 76.3h0M355.5 88.3h0M356.2 79.4h0M363.0 64.4h0M352.2 84.6h0M372.5 75.9h0M367.6 59.9h0M357.1 75.4h0M347.4 79.5h0M346.6 86.4h0M359.4 84.5h0M368.1 61.0h0M342.4 86.8h0M355.7 95.2h0M364.3 91.4h0M347.4 95.5h0M351.6 94.6h0M350.6 91.3h0M351.8 83.6h0M360.6 85.0h0M367.3 76.1h0M359.8 99.5h0M354.8 67.7h0M355.6 101.8h0M363.5 83.8h0M355.9 94.3h0M363.4 87.5h0M351.3 84.0h0M359.7 76.1h0M358.9 99.8h0M364.0 95.0h0M343.5 84.3h0M351.4 86.6h0M355.3 80.3h0M366.1 82.6h0M364.2 87.1h0M351.8 98.7h0M368.0 67.7h0M351.7 87.5h0M348.2 86.9h0M347.9 78.4h0M370.7 56.8h0M359.9 69.5h0M351.2 75.6h0M355.1 82.5h0M346.8 76.6h0M360.2 91.2h0M355.2 87.9h0M356.0 75.3h0M347.1 87.3h0M359.7 102.5h0M368.1 83.8h0M347.3 68.7h0M362.3 74.7h0M343.7 91.1h0M359.7 71.6h0M363.8 87.0h0M348.1 84.3h0M355.1 83.0h0M350.6 79.2h0M349.2 95.3h0M360.3 84.7h0M343.7 82.6h0M356.2 71.1h0M355.7 75.3h0M355.6 80.6h0M352.5 88.6h0M347.8 95.0h0M347.6 99.5h0M355.9 80.0h0M351.5 95.6h0M356.2 82.2h0M358.9 86.7h0M350.8 102.9h0M343.1 86.9h0M356.3 76.2h0M368.4 52.5h0M347.4 95.2h0M347.3 87.4h0M356.2 79.6h0M352.2 87.5h0M359.6 104.1h0M351.3 91.8h0M347.2 97.2h0M344.1 94.0h0M367.7 91.7h0M359.5 102.4h0M342.8 87.2h0M346.6 86.5h0M354.7 88.3h0M351.6 99.8h0M380.4 60.0h0M354.0 79.0h0M359.9 86.8h0M356.0 80.6h0M343.6 91.8h0M359.8 80.2h0M355.4 94.8h0M367.6 68.0h0M355.0 90.7h0M351.4 102.4h0M347.3 99.0h0M360.8 79.9h0M367.6 95.2h0M357.0 99.0h0M360.0 96.0h0M356.2 79.7h0M351.1 87.4h0M352.2 84.4h0M350.6 79.8h0M355.9 80.4h0M344.8 95.6h0M346.7 91.8h0M352.4 83.4h0M348.4 98.8h0M355.8 103.3h0M343.6 78.1h0M356.5 84.1h0M356.1 86.2h0M355.7 86.6h0M349.1 102.5h0M359.5 80.3h0M342.8 87.2h0M372.4 88.1h0M354.8 84.4h0M355.6 87.5h0M352.4 99.2h0M351.8 102.2h0M351.2 87.5h0M354.0 84.8h0M364.7 83.0h0M355.4 82.8h0M347.7 99.4h0M359.4 95.9h0M355.7 94.2h0M360.6 87.0h0M372.3 46.8h0M351.9 90.9h0M343.9 87.3h0M367.4 91.9h0M359.5 98.7h0M351.7 99.3h0M359.7 90.9h0M368.8 86.9h0M352.3 90.5h0M347.7 95.9h0M356.8 107.4h0M368.1 83.2h0M352.0 84.4h0M347.3 86.8h0M375.8 91.1h0M359.0 79.8h0M343.0 87.3h0M347.2 91.7h0M368.4 78.3h0M352.0 86.5h0M351.6 86.8h0M362.6 87.0h0M355.8 82.7h0M352.9 79.1h0M346.9 83.8h0M348.8 98.1h0M348.2 92.2h0M344.8 86.3h0M355.9 106.8h0M338.8 75.7h0M352.5 84.2h0M355.6 86.7h0M359.2 82.3h0M345.9 99.0h0M360.7 87.5h0M355.4 83.4h0M363.9 98.9h0M347.0 95.6h0M343.7 87.4h0M356.1 86.9h0M356.9 76.3h0M356.7 75.3h0M360.2 80.3h0M346.8 86.3h0M344.3 95.4h0M350.8 80.0h0M359.2 80.0h0M352.0 71.4h0M364.2 72.1h0M360.5 83.4h0M357.3 99.2h0M347.0 98.5h0M370.1 87.2h0M348.0 99.6h0M355.4 94.5h0M360.8 91.9h0M346.9 94.1h0M368.1 79.6h0M351.7 102.3h0M351.5 70.8h0M355.0 84.2h0M376.1 94.9h0M339.2 86.8h0M367.0 63.5h0M347.6 95.3h0M352.0 90.6h0M366.4 83.5h0M348.6 90.9h0M365.4 80.1h0M359.6 83.9h0M367.3 71.2h0M364.4 87.3h0M354.9 87.6h0M348.4 83.4h0M346.6 88.4h0M359.2 102.2h0M363.2 75.4h0M351.4 102.8h0M347.5 99.0h0M347.9 87.1h0M352.3 67.4h0M375.4 52.2h0M356.3 95.2h0M359.1 94.3h0M352.9 85.1h0M351.2 102.9h0M348.4 79.1h0M347.4 94.5h0M359.6 83.7h0M347.7 78.6h0M368.1 60.0h0M368.1 67.7h0M359.7 83.8h0M367.4 90.1h0M343.2 91.1h0M356.5 107.1h0M347.8 99.1h0M360.4 94.4h0M351.6 83.7h0M354.9 102.5h0M354.6 90.7h0M347.4 87.6h0M340.0 80.1h0M368.7 59.9h0M344.5 91.1h0M349.0 102.1h0M367.5 76.1h0M354.6 107.2h0M356.1 82.7h0M355.9 91.4h0M351.0 94.6h0M343.5 93.7h0M361.2 79.0h0M346.8 90.7h0M347.4 98.8h0M342.0 84.0h0M356.4 67.5h0M356.3 79.0h0M347.6 94.2h0M355.6 87.9h0M350.7 94.8h0M347.7 87.9h0M351.4 87.9h0M347.2 91.8h0M351.3 99.1h0M352.2 95.2h0M343.0 87.6h0M360.7 82.9h0M343.1 87.2h0M354.8 102.3h0M359.3 87.5h0M347.4 98.5h0M346.7 83.3h0M347.9 90.8h0M343.8 95.1h0M351.7 87.5h0M351.1 91.4h0M347.6 88.0h0M347.4 82.5h0M352.7 83.4h0M351.8 79.1h0M360.4 87.8h0M351.6 87.5h0M359.5 86.2h0M358.9 83.4h0M351.2 90.7h0M351.2 83.6h0M343.6 83.7h0M353.2 88.2h0M363.2 80.6h0M360.6 82.5h0M344.1 87.5h0M354.5 83.1h0M347.5 91.7h0M343.4 87.8h0M352.4 94.8h0M369.0 72.9h0M346.4 83.2h0M348.0 91.1h0M351.2 87.3h0M351.9 95.0h0M359.5 88.0h0M355.2 106.4h0M355.9 80.8h0M347.4 91.6h0M351.6 83.6h0M347.7 72.3h0M355.8 84.0h0M354.8 90.5h0M344.2 87.1h0M350.7 99.1h0M356.3 72.7h0M360.1 87.3h0M365.0 95.0h0M346.2 90.1h0M348.4 87.3h0M367.9 75.0h0M369.3 64.5h0M347.7 87.6h0M351.1 99.0h0M342.1 88.6h0M364.7 71.6h0M351.6 74.5h0M352.8 91.9h0M352.8 86.8h0M354.6 86.9h0M346.7 84.0h0M357.3 95.4h0M364.0 83.3h0M347.3 91.2h0M359.8 74.5h0M347.0 95.8h0M351.0 75.4h0M347.6 98.9h0M352.5 69.4h0M364.0 72.0h0" stroke="#000" opacity="0.2"/>
<path d="M360.8 82.8h0M355.8 91.7h0M359.7 76.0h0M344.0 82.6h0M352.4 71.9h0M376.6 83.5h0M359.4 99.3h0M355.9 95.7h0M356.5 95.3h0M364.7 77.9h0M348.0 91.5h0M347.4 87.4h0M351.6 95.3h0M340.3 83.4h0M364.2 99.5h0M351.6 95.5h0M358.8 79.1h0M344.4 93.8h0M339.1 79.3h0M350.5 102.7h0M338.9 84.1h0M364.1 98.8h0M360.6 90.6h0M354.9 94.4h0M362.6 82.8h0M347.2 89.9h0M348.0 83.2h0M376.6 40.4h0M351.7 91.0h0M357.5 83.8h0M346.8 98.9h0M356.3 95.4h0M364.4 90.5h0M364.7 90.5h0M348.0 91.9h0M359.9 91.5h0M351.9 75.7h0M356.0 106.7h0M347.7 88.0h0M346.7 86.6h0M346.8 86.5h0M343.3 76.0h0M347.8 98.7h0M360.5 95.0h0M352.8 95.3h0M369.1 75.4h0M343.1 82.8h0M356.5 90.0h0M352.7 90.0h0M363.2 78.2h0M344.1 79.7h0M350.8 91.0h0M342.9 88.1h0M347.6 87.2h0M352.1 91.1h0M360.8 83.4h0M348.6 82.7h0M368.6 94.6h0M352.2 86.9h0M363.3 90.9h0M351.4 67.8h0M360.1 75.4h0M351.8 79.6h0M356.4 83.6h0M348.3 99.1h0M352.6 76.0h0M352.6 91.0h0M347.8 98.2h0M372.2 72.2h0M351.9 96.0h0M359.8 75.8h0M348.1 80.1h0M360.0 103.0h0M359.8 74.2h0M348.1 98.3h0M347.4 99.1h0M364.2 83.6h0M368.4 95.0h0M348.5 95.8h0M348.3 86.7h0M360.3 105.9h0M355.3 86.9h0M344.7 83.4h0M356.0 83.1h0M359.6 73.0h0M346.8 79.3h0M359.4 76.0h0M347.8 98.7h0M346.7 79.6h0M360.6 60.4h0M352.7 95.7h0M352.2 90.7h0M339.1 80.5h0M343.4 87.9h0M359.1 79.5h0M344.4 100.0h0M336.2 67.6h0M347.7 87.1h0M338.6 80.7h0M340.3 83.4h0M347.7 75.5h0M355.2 83.5h0M363.3 84.2h0M351.9 92.1h0M360.4 66.8h0M351.8 103.1h0M368.3 59.0h0M353.0 95.3h0M363.5 83.6h0M346.9 72.2h0M363.1 87.0h0M344.4 90.7h0M364.1 90.8h0M351.1 99.5h0M363.3 95.2h0M368.4 67.5h0M347.4 94.2h0M354.9 83.1h0M343.9 79.8h0M351.9 79.8h0M340.8 87.8h0M353.2 98.8h0M358.4 71.9h0M363.4 75.0h0M351.6 83.6h0M360.0 80.2h0M343.8 94.9h0M342.5 91.6h0M360.7 83.8h0M347.5 76.3h0M362.5 79.9h0M355.6 100.0h0M359.2 99.1h0M367.8 84.0h0M372.3 71.6h0M359.9 86.5h0M351.7 95.0h0M367.4 75.9h0M364.1 99.1h0M346.6 91.6h0M350.9 101.4h0M364.6 99.5h0M349.8 94.4h0M356.2 108.1h0M342.3 95.8h0M349.8 74.8h0M347.1 83.4h0M348.1 86.7h0M363.7 80.2h0M343.4 87.0h0M356.9 90.9h0M350.9 90.6h0M348.4 96.6h0M350.7 94.8h0M364.0 83.5h0M360.3 87.2h0M368.5 70.9h0M355.9 91.3h0M360.0 102.6h0M343.5 91.3h0M360.6 93.8h0M351.3 82.8h0M342.7 91.2h0M359.5 79.8h0M368.7 87.1h0M368.2 71.7h0M351.3 90.4h0M352.2 90.9h0M359.6 75.1h0M346.8 98.4h0M363.0 83.8h0M356.3 88.2h0M344.4 83.3h0M354.8 103.0h0M347.0 90.8h0M351.6 68.2h0M348.3 75.9h0M352.1 82.3h0M360.4 72.1h0M346.9 81.0h0M343.5 91.3h0M352.4 95.8h0M347.9 95.0h0M359.8 80.1h0M354.6 83.3h0M344.0 91.4h0M352.4 103.0h0M364.6 91.9h0M343.8 95.2h0M359.3 64.4h0M342.7 79.3h0M357.0 83.5h0M356.3 95.6h0M363.4 78.4h0M367.7 91.3h0M344.7 91.4h0M361.3 94.7h0M347.4 82.8h0M355.5 76.2h0M346.9 83.2h0M360.5 87.7h0M343.8 96.0h0M335.8 66.8h0M347.6 86.6h0M359.1 98.3h0M354.9 104.0h0M360.7 57.0h0M364.1 91.3h0M351.5 91.8h0M343.3 88.7h0M351.3 71.8h0M351.0 102.4h0M355.2 94.0h0M359.0 90.3h0M360.3 86.5h0M343.5 91.7h0M367.3 91.2h0M343.6 90.1h0M348.1 88.1h0M343.4 91.4h0M351.5 72.1h0M360.1 84.6h0M359.9 91.7h0M351.4 83.8h0M360.0 95.0h0M367.9 67.9h0M351.2 91.4h0M357.8 86.9h0M359.9 87.2h0M360.0 90.5h0M355.6 83.2h0M352.8 83.2h0M351.4 95.5h0M351.2 75.0h0M347.9 98.8h0M352.1 94.8h0M352.7 94.7h0M347.6 88.4h0M364.1 82.9h0M363.8 67.6h0M359.3 80.2h0M356.8 97.6h0M347.1 87.2h0M359.3 95.8h0M359.4 94.8h0M355.5 102.1h0M343.1 90.7h0M346.4 78.7h0M355.9 102.8h0M348.0 94.3h0M355.0 84.0h0M347.1 88.2h0M358.6 87.5h0M347.9 94.0h0M359.2 102.6h0M363.5 72.3h0M347.2 91.4h0M351.0 94.8h0M361.3 87.5h0M375.2 51.0h0M347.3 86.3h0M363.5 91.7h0M343.0 90.6h0M352.5 95.9h0M347.2 87.7h0M355.3 87.4h0M356.9 99.1h0M355.4 96.3h0M359.6 87.6h0M343.9 86.7h0M352.0 95.1h0M359.4 86.6h0M343.8 87.3h0M348.1 98.5h0M358.7 86.2h0M351.4 83.1h0M347.1 99.2h0M343.8 91.8h0M355.3 94.3h0M348.2 83.4h0M347.2 83.4h0M368.4 68.5h0M364.3 110.5h0M351.5 99.2h0M342.9 95.7h0M352.2 86.9h0M367.6 95.1h0M355.5 79.2h0M346.8 86.9h0M352.3 91.6h0M355.8 82.3h0M347.6 83.5h0M351.4 83.0h0M348.2 99.2h0M351.6 87.4h0M351.7 70.7h0M362.9 75.5h0M344.1 94.5h0M358.6 91.1h0M360.9 93.9h0M347.6 95.2h0M355.9 90.3h0M343.8 83.4h0M356.5 87.2h0M351.3 87.5h0M343.8 80.1h0M367.7 83.0h0M350.6 99.1h0M338.8 83.2h0M355.3 91.9h0M385.5 48.6h0M344.5 78.8h0M352.7 98.6h0M360.9 91.5h0M347.1 63.5h0M347.6 91.7h0M363.3 83.3h0M356.2 98.9h0M365.2 79.9h0M351.3 79.6h0M347.2 87.2h0M348.5 90.6h0M351.7 82.8h0M354.9 95.6h0M360.6 55.4h0M343.1 84.0h0M365.1 80.1h0M351.7 94.9h0M372.1 79.2h0M365.0 66.6h0M355.2 87.0h0M355.2 87.3h0M347.6 99.6h0M380.8 64.0h0M355.6 87.3h0M343.5 76.3h0M343.9 91.0h0M356.2 99.7h0M352.1 95.5h0M360.0 78.8h0M342.8 79.2h0M363.9 87.6h0M368.5 68.4h0M350.7 76.0h0M352.7 88.3h0M376.3 49.7h0M351.8 94.5h0M346.5 82.3h0M356.0 79.3h0M362.9 98.8h0M351.5 99.8h0M367.4 84.4h0M356.6 95.7h0M359.2 83.5h0M347.1 94.5h0M360.6 84.9h0M354.8 95.3h0M356.3 97.7h0M350.8 93.7h0M355.7 94.7h0M347.1 91.1h0M359.6 67.8h0M347.6 89.8h0M367.3 90.7h0M359.1 90.3h0M355.8 87.3h0M338.8 76.1h0M351.1 95.5h0M360.1 86.4h0M360.4 79.9h0M358.8 82.8h0M347.2 94.9h0M350.9 91.0h0M347.1 90.0h0M355.6 90.8h0M347.0 82.8h0M351.4 79.0h0M363.9 98.5h0M346.8 90.8h0M355.6 91.5h0M355.9 98.4h0M359.9 87.1h0M367.9 82.2h0M356.1 100.5h0M351.9 90.9h0M351.0 92.2h0M352.6 99.0h0M360.0 84.6h0M339.3 64.2h0M396.5 33.9h0M344.0 87.4h0M346.8 74.9h0M358.6 102.7h0M360.2 71.7h0M351.2 99.2h0M367.9 105.5h0M352.1 98.7h0M358.8 71.9h0M363.7 80.4h0M368.0 94.1h0M367.7 83.8h0M347.2 87.3h0M356.3 98.8h0M359.7 86.9h0M363.4 79.5h0M355.2 91.5h0M351.5 99.8h0M352.5 91.9h0M350.9 100.8h0M381.5 79.0h0M355.8 80.2h0M348.1 83.1h0M346.3 79.3h0M368.7 75.3h0M375.8 72.1h0M347.9 98.6h0M355.8 88.2h0M351.4 91.1h0M347.4 90.4h0M355.3 95.4h0M347.5 97.8h0M343.1 79.6h0M359.7 83.5h0M352.0 82.3h0M351.7 102.4h0M359.8 86.2h0M351.6 83.4h0M350.9 87.2h0M355.6 94.2h0M346.1 94.8h0M348.1 99.2h0M356.6 98.8h0M347.8 75.2h0M356.7 95.6h0M351.0 79.9h0M356.1 95.2h0M347.7 95.4h0M369.1 71.0h0M352.3 94.8h0M346.6 86.3h0M352.3 90.7h0M350.9 102.5h0M344.0 95.5h0M347.9 95.5h0M359.3 87.1h0M360.0 86.8h0M352.4 95.1h0M359.0 99.8h0M353.6 80.3h0M355.3 91.6h0M363.6 102.7h0M343.8 90.8h0M347.0 87.6h0M355.5 95.9h0M356.2 83.1h0M351.7 79.6h0M351.6 92.1h0M345.9 95.2h0M360.0 87.2h0M347.4 95.0h0M344.0 95.2h0M356.3 87.0h0M352.8 94.9h0M348.2 99.2h0M351.5 79.5h0M351.0 71.2h0M344.0 83.4h0M346.6 91.5h0M360.1 74.7h0M355.3 103.5h0M360.1 99.0h0M352.7 79.3h0M343.2 82.9h0M347.9 98.3h0M345.1 87.6h0M363.5 75.0h0M344.4 92.4h0M347.5 87.8h0M354.4 68.3h0M348.7 102.7h0M358.6 67.1h0M348.0 98.7h0M352.4 94.6h0M362.8 68.6h0M344.5 83.7h0M343.9 94.8h0M363.2 63.7h0M355.4 76.9h0M348.5 78.6h0M371.9 78.3h0M359.6 83.7h0M350.6 104.0h0M344.3 83.7h0M344.6 86.6h0M360.0 98.8h0M365.0 75.9h0M338.8 80.1h0M342.6 84.4h0M359.6 83.2h0M352.6 99.3h0M358.9 83.7h0M361.5 79.0h0M348.1 95.2h0M344.5 95.3h0M363.8 75.4h0M356.1 80.4h0M343.0 90.5h0M352.7 71.4h0M351.6 79.0h0M356.4 87.1h0M347.7 90.9h0M359.9 83.2h0M359.4 99.5h0M363.9 84.0h0M368.3 64.0h0M355.1 79.6h0M368.1 83.3h0M354.9 83.6h0M351.0 94.5h0M343.5 87.8h0M344.0 94.4h0M351.6 100.3h0M355.6 72.6h0M351.6 92.4h0M355.7 91.6h0M359.5 83.9h0M360.0 68.0h0M350.9 75.4h0M347.5 94.4h0M348.0 90.8h0M347.7 98.8h0M343.8 95.2h0M354.8 86.6h0M351.7 78.9h0M350.5 100.7h0M360.3 91.4h0M364.4 68.1h0M356.0 83.0h0M358.9 83.4h0M360.4 87.3h0M344.4 84.3h0M348.9 95.6h0M359.2 87.4h0M351.7 87.4h0M342.8 91.1h0M355.2 88.2h0M356.2 90.6h0M350.9 78.8h0M346.3 90.7h0M364.0 98.9h0M347.6 95.7h0M356.3 80.1h0M347.7 95.0h0M359.3 79.3h0M350.9 91.3h0M350.9 91.3h0M367.1 88.2h0M348.2 95.0h0M347.4 91.4h0M351.7 83.2h0M359.7 96.1h0M351.2 79.3h0M344.4 94.8h0M347.3 76.0h0M352.7 91.6h0M339.1 76.2h0M353.1 89.8h0M348.1 95.5h0M344.5 90.8h0M360.6 90.9h0M347.4 71.8h0M355.7 79.7h0M347.1 91.5h0M367.4 53.6h0M351.6 92.4h0M351.4 98.9h0M352.6 79.8h0M347.5 90.9h0M356.1 88.5h0M363.5 83.8h0M346.5 90.3h0M351.0 82.4h0M352.2 82.7h0M347.8 90.5h0M348.6 75.6h0M363.9 83.9h0M356.5 88.1h0M343.9 80.0h0M352.4 95.1h0M347.5 86.7h0M352.9 94.8h0M356.0 79.8h0M354.4 67.6h0M349.1 96.1h0M356.3 98.6h0M343.5 84.2h0M355.4 92.9h0M343.1 91.6h0M368.0 90.8h0M352.5 83.6h0M354.9 75.8h0M363.0 79.9h0M350.5 87.0h0M351.9 87.5h0M363.4 87.4h0M356.8 102.8h0M380.6 60.3h0M359.1 84.3h0M355.6 98.8h0M346.5 87.8h0M342.9 88.3h0M350.6 90.4h0M363.5 94.6h0M355.2 90.9h0M351.6 99.1h0M351.8 72.4h0M350.9 86.0h0M363.9 91.6h0M364.1 79.7h0M359.0 99.4h0M372.0 78.4h0M359.4 87.2h0M356.2 65.1h0M364.1 95.4h0M347.1 94.6h0M367.5 103.3h0M368.4 76.1h0M360.1 83.3h0M354.0 91.3h0M351.7 95.5h0M351.5 75.9h0M347.6 91.5h0M347.6 94.2h0M354.6 80.0h0M355.8 90.6h0M366.7 90.0h0M343.9 91.4h0M351.4 83.4h0M352.7 82.4h0M359.1 90.6h0M359.2 87.0h0M359.7 72.2h0M355.1 87.3h0M343.8 91.7h0M355.7 72.6h0M356.0 98.8h0M351.6 88.8h0M351.9 83.5h0M347.2 87.3h0M343.3 90.9h0M363.6 88.9h0M351.0 96.2h0M352.2 99.1h0M355.7 86.6h0M350.8 102.7h0M364.1 71.2h0M388.9 52.6h0M355.3 71.7h0M364.4 67.4h0M351.9 79.6h0M352.5 86.1h0M359.3 80.0h0M348.2 90.4h0M364.8 94.6h0M368.0 90.3h0M350.1 96.1h0M355.6 107.2h0M351.9 103.1h0M361.0 87.9h0M363.1 98.2h0M350.8 71.6h0M343.7 87.0h0M355.5 87.4h0M351.6 83.5h0M362.6 98.3h0M364.8 83.2h0M372.1 68.5h0M355.7 107.4h0M347.5 87.0h0M347.6 75.6h0M347.4 91.1h0M354.0 79.2h0" stroke="#000" opacity="0.2"/>
<path d="M355.9 87.2h0M363.5 63.7h0M351.7 83.5h0M350.1 92.1h0M360.3 79.5h0M351.8 94.6h0M351.7 103.1h0M364.1 88.1h0M354.6 91.8h0M363.3 64.8h0M351.9 87.8h0M355.6 87.7h0M343.7 87.7h0M359.9 71.1h0M363.6 83.1h0M351.4 87.2h0M364.0 83.8h0M343.1 91.4h0M348.1 82.7h0M352.2 90.9h0M361.1 91.6h0M349.0 75.8h0M368.6 75.4h0M343.2 86.8h0M348.6 82.9h0M357.1 82.7h0M350.3 87.5h0M359.9 83.8h0M351.1 85.5h0M348.6 91.7h0M351.9 84.3h0M372.6 75.5h0M348.3 103.2h0M360.2 90.5h0M355.9 72.2h0M354.6 94.9h0M351.6 86.8h0M360.8 94.8h0M356.6 87.8h0M359.5 78.9h0M350.8 91.6h0M351.4 60.7h0M355.7 76.2h0M351.0 79.3h0M343.8 91.9h0M359.9 61.0h0M347.2 87.2h0M344.3 98.1h0M355.8 87.7h0M355.6 95.2h0M353.9 95.0h0M357.6 90.9h0M351.5 90.8h0M360.6 101.7h0M363.4 106.0h0M350.7 98.0h0M352.0 75.1h0M352.5 82.9h0M356.3 75.3h0M351.0 87.0h0M355.7 91.0h0M359.5 90.9h0M369.1 71.1h0M351.5 94.7h0M366.9 92.0h0M348.4 91.6h0M355.1 106.4h0M356.5 91.8h0M356.4 99.9h0M344.3 91.4h0M355.9 84.2h0M371.7 83.8h0M358.5 89.9h0M347.0 86.7h0M347.7 83.7h0M343.3 90.2h0M354.6 94.7h0M372.7 67.2h0M357.1 87.5h0M355.4 95.6h0M367.2 90.4h0M359.7 87.0h0M343.5 75.3h0M360.0 97.6h0M360.4 79.0h0M357.5 102.3h0M347.9 99.0h0M339.7 83.5h0M343.6 79.0h0M347.8 92.0h0M359.3 75.8h0M348.0 90.1h0M356.2 82.0h0M376.0 84.8h0M357.4 92.0h0M346.6 83.1h0M364.1 79.3h0M371.3 68.7h0M355.2 94.5h0M368.5 75.3h0M347.4 72.4h0M351.7 97.6h0M363.8 91.4h0M355.7 95.1h0M352.4 87.9h0M364.7 98.5h0M359.9 87.4h0M356.8 79.3h0M348.1 79.2h0M360.2 87.0h0M360.4 83.3h0M347.7 95.2h0M364.7 86.7h0M354.6 75.2h0M347.4 87.9h0M364.6 72.5h0M351.7 103.3h0M347.9 87.3h0M352.1 95.0h0M347.9 87.0h0M350.8 91.8h0M347.7 95.4h0M343.3 94.5h0M352.8 91.1h0M351.5 83.0h0M363.6 79.2h0M363.8 79.3h0M348.4 79.8h0M359.0 98.5h0M347.8 88.0h0M359.6 58.4h0M359.9 87.7h0M351.3 92.2h0M359.2 79.4h0M355.6 83.9h0M367.8 71.0h0M352.0 76.0h0M364.5 82.6h0M351.4 90.9h0M355.4 102.9h0M364.4 98.6h0M351.2 99.5h0M365.0 79.9h0M347.3 99.4h0M347.4 91.0h0M353.4 79.4h0M347.5 91.3h0M360.2 80.1h0M343.3 78.9h0M355.8 102.7h0M344.0 87.7h0M351.8 94.6h0M363.8 89.2h0M358.9 87.6h0M338.2 71.6h0M351.8 79.5h0M360.2 87.2h0M355.5 90.2h0M355.9 91.1h0M355.5 68.6h0M339.9 74.3h0M359.0 94.7h0M351.9 96.3h0M355.8 95.4h0M355.6 88.8h0M358.7 87.5h0M342.6 87.8h0M348.4 98.6h0M360.6 86.8h0M348.1 86.6h0M346.7 87.1h0M356.8 95.3h0M355.6 71.8h0M357.1 80.1h0M351.2 92.1h0M347.5 88.2h0M348.2 90.5h0M355.6 91.4h0M351.1 92.1h0M348.0 99.1h0M355.0 76.0h0M352.1 97.9h0M364.1 90.8h0M356.4 83.3h0M359.8 95.8h0M348.1 103.5h0M351.4 83.0h0M351.7 98.4h0M344.3 91.6h0M371.0 51.6h0M360.4 99.4h0M352.0 94.6h0M351.0 98.5h0M351.1 102.5h0M371.8 65.0h0M351.7 83.5h0M344.7 94.9h0M360.1 90.7h0M361.0 71.9h0M360.3 90.4h0M356.1 74.8h0M351.3 95.1h0M351.7 90.4h0M352.0 76.3h0M352.2 90.2h0M343.7 83.6h0M351.7 102.3h0M368.3 64.1h0M352.6 97.6h0M352.0 71.5h0M354.9 87.1h0M346.8 96.0h0M350.8 86.6h0M364.1 82.9h0M360.6 75.0h0M347.7 86.5h0M355.7 91.9h0M347.9 91.0h0M342.5 95.5h0M356.5 86.9h0M359.8 94.2h0M351.4 84.7h0M357.0 106.1h0M347.9 87.6h0M368.5 79.2h0M344.4 90.9h0M351.1 101.6h0M352.0 95.6h0M351.5 98.4h0M347.6 98.9h0M355.8 67.1h0M355.4 97.9h0M363.8 87.3h0M359.6 86.4h0M367.9 68.6h0M352.7 80.4h0M351.6 95.6h0M351.9 80.4h0M368.6 87.5h0M355.8 84.6h0M351.7 79.6h0M347.9 99.3h0M343.4 94.9h0M348.2 95.7h0M362.5 94.9h0M364.5 78.9h0M368.3 76.8h0M344.1 79.5h0M343.0 91.6h0M367.5 66.4h0M364.6 87.4h0M347.6 91.9h0M364.0 78.8h0M347.1 94.3h0M362.7 60.9h0M346.8 98.6h0M351.5 91.1h0M355.0 82.3h0M352.0 101.3h0M355.8 102.6h0M343.6 87.3h0M343.8 87.7h0M356.3 91.5h0M351.5 91.1h0M355.9 90.2h0M350.9 95.7h0M363.5 68.1h0M367.4 87.6h0M363.3 70.6h0M347.3 91.3h0M352.1 98.8h0M364.5 83.0h0M347.7 91.3h0M364.4 94.5h0M351.6 87.0h0M352.5 90.0h0M355.1 72.0h0M362.4 79.8h0M355.3 86.9h0M352.6 79.5h0M367.8 60.2h0M351.9 70.9h0M347.5 83.0h0M351.5 103.4h0M350.5 87.9h0M343.5 91.5h0M352.2 90.9h0M348.2 98.2h0M359.1 87.8h0M343.3 91.6h0M351.6 90.9h0M352.8 87.9h0M363.5 67.7h0M367.6 100.0h0M355.6 94.5h0M347.9 90.6h0M349.4 90.6h0M371.9 63.2h0M354.8 98.8h0M348.2 87.0h0M358.4 72.3h0M352.2 99.8h0M343.8 91.5h0M356.1 87.5h0M347.8 86.7h0M343.0 86.8h0M351.9 91.7h0M343.2 87.1h0M352.5 83.2h0M360.2 84.0h0M355.8 72.5h0M343.5 82.7h0M367.4 75.8h0M358.7 83.8h0M342.5 91.4h0M351.1 88.0h0M361.3 72.1h0M363.5 75.9h0M351.4 72.8h0M364.4 60.8h0M358.8 102.8h0M347.5 95.4h0M347.1 92.7h0M348.2 98.6h0M348.3 90.7h0M355.5 79.2h0M352.2 71.7h0M352.2 87.8h0M355.9 107.1h0M368.9 79.1h0M360.3 91.9h0M347.3 88.0h0M360.6 94.9h0M351.9 98.1h0M359.5 108.2h0M364.3 60.3h0M362.3 90.4h0M350.9 102.9h0M351.0 86.7h0M360.3 83.0h0M351.4 83.7h0M363.6 75.6h0M352.1 71.4h0M351.5 83.2h0M352.1 87.4h0M343.0 87.4h0M368.7 75.4h0M347.2 99.0h0M343.2 88.1h0M347.5 95.4h0M360.5 87.6h0M351.7 95.9h0M346.4 82.6h0M360.3 84.1h0M351.9 99.1h0M354.7 87.7h0M356.0 76.1h0M352.3 102.9h0M351.8 84.6h0M363.3 78.7h0M359.8 75.7h0M355.6 90.3h0M355.9 103.4h0M350.4 87.9h0M359.8 87.4h0M352.1 94.8h0M352.1 102.8h0M363.9 78.9h0M367.7 94.5h0M355.2 75.6h0M359.7 75.2h0M352.3 99.3h0M352.0 99.9h0M355.5 83.8h0M342.4 79.5h0M347.7 99.2h0M347.3 83.7h0M351.2 90.3h0M351.6 92.4h0M352.3 88.2h0M348.0 79.0h0M354.5 76.3h0M352.1 91.1h0M346.5 95.5h0M347.3 95.1h0M348.2 83.1h0M351.4 99.6h0M351.6 79.8h0M360.0 98.0h0M357.0 83.9h0M348.7 86.5h0M367.7 64.8h0M355.0 87.2h0M355.1 88.0h0M343.6 90.2h0M352.8 98.6h0M355.3 98.9h0M359.1 83.7h0M352.4 95.6h0M351.2 94.8h0M356.6 84.5h0M343.5 94.9h0M355.8 86.6h0M368.9 94.3h0M359.7 75.7h0M347.1 82.6h0M344.5 94.6h0M359.4 79.0h0M348.5 88.1h0M352.6 72.4h0M351.2 94.3h0M351.8 94.8h0M363.8 96.5h0M347.9 90.3h0M364.3 92.7h0M347.7 95.6h0M350.2 91.4h0M348.0 79.5h0M348.8 91.4h0M356.3 99.1h0M347.2 91.3h0M343.5 79.4h0M360.6 70.9h0M347.2 90.1h0M355.9 91.0h0M351.5 95.8h0M351.9 83.8h0M363.1 74.8h0M363.0 87.5h0M356.3 99.4h0M352.1 68.1h0M347.8 75.9h0M342.9 87.7h0M352.7 90.8h0M356.2 102.7h0M372.4 88.4h0M359.0 79.0h0M347.8 102.6h0M351.3 95.0h0M355.5 96.1h0M356.1 76.1h0M363.1 82.2h0M343.4 94.0h0M354.4 91.4h0M351.6 79.5h0M350.6 74.8h0M343.4 90.9h0M351.9 91.6h0M352.2 78.8h0M351.2 79.3h0M347.0 75.2h0M358.7 83.4h0M351.4 90.9h0M343.3 89.7h0M357.3 91.6h0M356.0 95.0h0M360.2 95.2h0M359.7 83.6h0M353.1 95.1h0M363.4 68.6h0M359.6 87.1h0M343.1 80.0h0M363.4 91.5h0M351.3 103.1h0M350.8 90.6h0M359.2 67.9h0M359.3 82.5h0M360.0 79.1h0M352.3 80.1h0M351.7 84.1h0M344.4 87.2h0M351.9 97.9h0M368.2 110.7h0M351.2 91.2h0M352.1 82.7h0M371.6 49.0h0M351.9 90.5h0M347.1 87.5h0M361.4 87.4h0M359.9 67.5h0M355.7 80.6h0M359.0 91.4h0M360.0 82.9h0M355.5 86.9h0M365.4 83.0h0M355.4 88.0h0M348.1 94.3h0M347.6 86.6h0M346.9 98.6h0M351.3 91.5h0M343.4 86.8h0M344.2 79.4h0M356.1 94.7h0M355.0 75.2h0M359.8 98.3h0M364.3 65.0h0M343.5 93.8h0M356.4 84.3h0M352.4 99.2h0M368.8 87.8h0M355.1 94.0h0M351.4 94.6h0M371.9 64.1h0M344.5 91.2h0M343.4 96.4h0M368.2 74.7h0M346.9 99.3h0M355.2 105.5h0M355.6 98.1h0M347.9 87.8h0M347.1 87.4h0M363.6 83.8h0M347.1 87.0h0M363.2 87.1h0M351.6 91.5h0M359.4 83.5h0M368.7 79.9h0M355.1 90.1h0M346.6 90.9h0M355.8 80.4h0M347.7 102.1h0M355.9 87.3h0M339.9 89.9h0M347.7 79.7h0M343.2 87.9h0M345.9 86.7h0M346.8 87.1h0M352.1 95.4h0M347.9 82.4h0M351.6 95.0h0M353.1 79.2h0M364.4 86.6h0M363.5 79.4h0M339.4 80.5h0M363.6 64.0h0M363.7 79.7h0M357.0 79.3h0M355.9 83.4h0M359.7 75.2h0M344.0 75.8h0M356.0 91.7h0M352.3 91.6h0M352.0 99.2h0M355.5 94.7h0M348.2 91.7h0M356.5 83.8h0M346.1 83.5h0M360.2 95.2h0M343.8 86.5h0M359.5 82.7h0M359.8 74.7h0M347.2 90.6h0M363.8 94.9h0M348.7 86.5h0M359.2 88.4h0M352.1 86.8h0M350.7 86.2h0M363.4 90.9h0M359.3 75.7h0M360.5 91.6h0M347.5 95.1h0M343.3 80.0h0M342.4 92.4h0M344.2 91.6h0M368.0 52.3h0M367.3 83.2h0M344.4 94.4h0M365.0 95.3h0M352.3 94.8h0M346.7 80.9h0M372.4 59.5h0M358.8 87.2h0M348.1 99.3h0M343.4 91.3h0M371.7 67.0h0M343.9 91.5h0M348.8 71.2h0M368.8 53.3h0M347.1 94.4h0M367.9 56.0h0M351.5 87.9h0M351.7 90.9h0M342.2 90.0h0M359.3 95.7h0M360.5 90.4h0M364.2 75.2h0M355.6 75.8h0M348.5 99.1h0M355.8 95.0h0M355.2 95.5h0M351.9 90.5h0M363.8 75.9h0M347.7 87.7h0M352.1 94.3h0M364.1 63.3h0M344.5 95.0h0M356.4 88.1h0M360.6 96.0h0M356.5 83.6h0M355.6 83.7h0M356.5 96.3h0M350.1 92.0h0M339.4 79.8h0M355.3 90.9h0M357.4 93.6h0M356.0 88.1h0M359.3 76.5h0M351.7 87.0h0M362.4 90.6h0M347.6 87.0h0M339.2 79.3h0M364.0 99.0h0M346.9 99.4h0M347.1 99.6h0M350.8 83.5h0M370.9 91.7h0M342.6 95.0h0M346.9 84.1h0M368.0 75.2h0M347.7 86.5h0M356.3 103.6h0M347.2 90.3h0M355.9 68.8h0M361.7 72.5h0M356.1 94.9h0M359.9 75.3h0M355.8 75.6h0M359.2 87.2h0M348.1 90.4h0M351.9 91.6h0M355.5 91.2h0M359.2 48.6h0M344.2 91.6h0M357.2 86.8h0M363.7 88.6h0M352.5 82.9h0M347.9 79.2h0M343.0 94.3h0M351.1 79.7h0M377.8 83.0h0M352.6 98.4h0M364.0 83.4h0M367.6 75.5h0M344.4 94.7h0M355.6 80.1h0M368.4 76.3h0M356.0 94.8h0M343.9 94.6h0M355.7 90.8h0M343.1 86.5h0M364.3 72.3h0M343.6 95.6h0M360.9 87.4h0M351.6 83.7h0M360.7 87.2h0M363.8 67.8h0M351.9 103.0h0M361.0 90.7h0M347.6 96.1h0M356.2 92.0h0M368.2 83.6h0M355.8 105.3h0M343.7 86.2h0M344.0 91.5h0M365.7 103.2h0M364.7 83.9h0M352.1 95.3h0M352.1 83.9h0M359.2 90.9h0M359.4 83.8h0M364.4 92.9h0M343.6 70.7h0M365.1 82.4h0M359.9 87.1h0M356.1 87.1h0M370.7 71.5h0M351.9 87.2h0M347.9 80.3h0M352.5 78.1h0M355.1 80.7h0M359.6 94.3h0M355.9 89.9h0M359.8 87.4h0M352.2 92.1h0M343.9 87.5h0M356.2 103.4h0M359.4 97.7h0M355.9 101.7h0M343.4 83.8h0M364.2 87.2h0M348.3 102.8h0M350.4 83.1h0M364.3 90.5h0M343.8 81.9h0M383.8 73.5h0M355.9 76.0h0M355.7 91.2h0M348.1 91.6h0M344.4 86.4h0M359.6 79.0h0M351.3 94.7h0M359.0 95.2h0M359.5 95.7h0M346.9 90.8h0M355.3 79.3h0M352.7 83.4h0M351.5 79.5h0M346.8 97.8h0M347.4 86.9h0M360.7 80.7h0M347.3 86.2h0" stroke="#000" opacity="0.2"/>
<path d="M367.6 94.9h0M347.3 83.6h0M356.1 75.6h0M359.6 79.4h0M347.2 94.6h0M347.4 83.4h0M348.2 87.1h0M342.3 83.2h0M363.6 90.5h0M356.8 83.5h0M368.9 98.8h0M342.9 91.8h0M343.2 90.8h0M351.8 75.4h0M366.5 64.6h0M364.4 60.0h0M346.4 91.2h0M363.6 75.5h0M356.3 86.3h0M356.3 78.9h0M355.8 90.2h0M348.6 95.3h0M367.8 83.2h0M364.2 67.9h0M362.5 88.3h0M351.9 99.3h0M355.6 98.4h0M351.0 71.5h0M351.4 75.9h0M355.9 106.2h0M370.9 88.0h0M354.9 79.7h0M364.4 71.5h0M343.0 82.1h0M342.2 90.5h0M342.7 82.8h0M359.0 98.7h0M360.4 86.6h0M348.5 97.6h0M343.1 87.1h0M351.7 94.8h0M368.2 91.1h0M356.4 86.4h0M360.2 102.6h0M359.1 95.0h0M355.7 75.6h0M356.3 87.5h0M347.1 95.8h0M354.9 80.1h0M356.0 91.5h0M346.4 91.4h0M356.1 87.7h0M359.7 71.7h0M363.7 86.4h0M363.7 83.7h0M356.7 94.1h0M351.3 82.9h0M355.8 90.9h0M364.3 83.8h0M359.2 94.3h0M355.2 74.1h0M347.0 87.3h0M346.9 86.4h0M343.4 87.2h0M355.3 103.2h0M352.8 98.1h0M355.7 86.4h0M347.9 98.5h0M355.6 86.9h0M347.9 90.4h0M352.0 91.4h0M359.9 80.3h0M347.7 80.0h0M344.8 87.6h0M351.3 87.9h0M350.7 82.6h0M351.4 99.2h0M352.4 87.3h0M347.7 75.3h0M359.9 79.3h0M357.0 93.9h0M364.1 79.3h0M346.6 98.4h0M351.6 95.6h0M356.0 79.6h0M349.0 90.4h0M355.8 90.7h0M355.2 86.3h0M351.7 95.2h0M342.1 85.2h0M347.8 78.5h0M355.2 94.5h0M359.8 71.9h0M359.5 91.8h0M351.4 94.6h0M359.8 83.6h0M346.5 79.0h0M367.1 83.9h0M354.9 75.5h0M358.5 83.1h0M350.9 91.2h0M347.2 98.3h0M343.8 94.5h0M351.4 74.4h0M347.9 96.2h0M359.9 91.5h0M369.3 98.3h0M355.9 91.4h0M347.5 99.5h0M344.1 92.1h0M339.4 83.8h0M347.0 99.6h0M343.2 92.4h0M352.5 87.4h0M348.3 72.1h0M358.8 87.6h0M360.7 101.7h0M347.9 79.0h0M359.7 90.3h0M363.3 95.4h0M354.7 83.4h0M355.3 83.3h0M355.5 79.0h0M348.4 87.1h0M351.4 72.1h0M351.4 98.6h0M356.5 83.3h0M350.2 88.4h0M363.4 64.5h0M355.9 86.6h0M347.4 99.1h0M367.9 83.9h0M375.9 61.0h0M347.7 90.5h0M361.0 94.9h0M354.9 83.9h0M351.0 99.1h0M363.9 91.5h0M347.7 82.8h0M351.9 87.8h0M360.0 83.5h0M355.1 95.6h0M359.0 75.2h0M360.4 106.5h0M350.3 100.1h0M351.5 79.7h0M346.0 94.7h0M364.7 83.3h0M345.7 98.8h0M367.2 76.4h0M360.6 91.2h0M350.6 102.8h0M352.5 84.0h0M360.6 91.5h0M364.8 99.5h0M347.8 79.7h0M347.4 79.4h0M359.4 91.2h0M364.2 106.7h0M338.8 79.3h0M359.6 76.8h0M351.7 86.6h0M384.2 108.9h0M367.6 84.4h0M352.2 86.7h0M368.0 83.8h0M339.1 82.5h0M350.5 92.5h0M343.7 82.2h0M343.1 81.3h0M359.6 98.2h0M360.5 86.8h0M356.0 84.3h0M344.4 94.4h0M352.3 86.6h0M356.5 75.3h0M347.4 83.4h0M348.9 76.2h0M351.4 95.0h0M351.6 95.8h0M364.2 79.1h0M351.8 87.4h0M347.8 99.5h0M367.3 88.4h0M343.6 90.8h0M363.9 79.0h0M347.7 87.7h0M359.3 93.9h0M348.1 99.5h0M344.0 91.1h0M359.4 79.7h0M347.2 98.0h0M351.5 84.4h0M347.4 92.3h0M352.1 83.5h0M359.8 86.9h0M342.9 92.4h0M344.0 91.7h0M367.9 102.4h0M346.9 95.8h0M344.2 75.6h0M363.9 60.3h0M351.4 86.9h0M347.9 86.8h0M352.1 94.8h0M355.5 106.3h0M351.3 91.6h0M360.2 74.7h0M355.7 91.6h0M353.1 94.9h0M364.2 59.8h0M351.9 102.9h0M360.7 80.1h0M347.0 95.1h0M352.4 71.1h0M351.9 98.3h0M346.5 90.2h0M356.4 87.0h0M343.4 90.7h0M355.8 84.1h0M351.3 87.1h0M351.1 87.5h0M368.5 79.1h0M350.9 87.8h0M356.6 83.4h0M351.7 87.5h0M356.0 102.5h0M348.4 90.8h0M367.6 74.1h0M352.5 99.7h0M352.7 84.2h0M354.8 99.6h0M356.1 103.3h0M351.7 91.4h0M360.8 103.5h0M348.5 100.6h0M351.0 91.2h0M352.2 93.4h0M351.1 71.0h0M355.3 99.8h0M355.8 86.4h0M351.9 82.4h0M355.1 88.0h0M360.3 91.7h0M367.8 76.0h0M352.5 80.0h0M355.7 79.6h0M341.9 91.6h0M354.7 71.5h0M351.6 75.2h0M347.3 79.8h0M355.6 75.3h0M356.1 103.6h0M375.3 52.3h0M338.5 79.8h0M359.7 74.5h0M343.6 86.6h0M351.3 95.6h0M347.1 91.6h0M343.9 83.1h0M359.5 75.1h0M347.5 94.8h0M348.3 92.0h0M359.9 80.0h0M347.0 90.8h0M356.3 83.7h0M352.1 83.2h0M348.3 98.9h0M367.0 65.1h0M356.2 94.8h0M381.0 110.5h0M358.7 87.9h0M372.2 52.5h0M361.4 102.2h0M346.6 86.4h0M347.4 99.7h0M351.9 96.2h0M343.9 76.2h0M342.8 94.1h0M357.0 86.8h0M359.9 76.1h0M344.0 95.0h0M351.5 75.6h0M347.8 87.9h0M347.5 99.6h0M359.3 71.6h0M347.6 94.4h0M359.1 72.1h0M343.1 92.0h0M351.2 96.0h0M347.4 86.7h0M363.8 71.6h0M347.6 98.8h0M359.8 91.2h0M344.2 78.1h0M346.7 94.8h0M355.6 103.5h0M360.7 70.6h0M358.6 75.8h0M368.2 71.7h0M347.1 67.6h0M347.2 98.8h0M368.1 76.1h0M352.4 98.3h0M351.7 84.0h0M355.1 84.4h0M360.5 94.9h0M347.1 67.7h0M347.8 102.7h0M342.2 84.2h0M350.8 94.8h0M348.2 78.7h0M363.2 67.1h0M356.4 79.5h0M350.3 84.1h0M343.7 75.5h0M351.2 90.4h0M347.1 98.9h0M355.1 76.0h0M368.0 99.3h0M347.6 91.6h0M347.4 90.6h0M355.2 86.7h0M355.9 88.6h0M351.5 84.4h0M350.5 90.3h0M347.8 83.5h0M356.1 96.2h0M347.9 90.9h0M343.5 87.7h0M352.6 84.5h0M350.7 102.1h0M351.8 98.9h0M381.0 66.6h0M356.8 80.7h0M350.9 98.8h0M347.1 87.0h0M352.4 94.7h0M351.0 98.4h0M350.7 87.9h0M351.4 103.8h0M343.7 78.9h0M346.1 95.8h0M355.1 90.4h0M356.2 79.8h0M356.4 91.8h0M350.1 75.5h0M356.5 83.3h0M346.4 87.2h0M350.8 84.1h0M352.0 99.5h0M340.0 87.9h0M359.9 86.7h0M359.8 93.7h0M355.5 95.4h0M351.3 103.4h0M341.9 92.0h0M356.6 84.4h0M363.0 87.3h0M350.5 86.9h0M358.8 103.8h0M356.7 83.0h0M351.9 102.8h0M359.3 83.5h0M343.2 90.8h0M347.7 90.8h0M347.7 95.6h0M348.0 67.8h0M359.8 90.1h0M359.5 94.4h0M353.0 99.7h0M344.2 95.4h0M372.6 67.6h0M347.2 99.7h0M364.3 87.0h0M343.5 94.2h0M347.6 91.4h0M364.8 88.0h0M364.0 88.1h0M372.9 79.6h0M360.4 94.5h0M360.1 91.5h0M348.1 87.5h0M342.9 90.2h0M368.6 64.7h0M355.6 95.9h0M350.8 95.2h0M360.2 90.5h0M351.0 87.8h0M347.3 87.0h0M355.1 71.8h0M351.4 102.2h0M361.9 98.5h0M363.1 90.5h0M347.4 86.3h0M358.7 93.7h0M355.7 86.1h0M356.0 88.0h0M359.3 75.2h0M343.9 95.5h0M346.8 80.0h0M344.0 90.9h0M368.4 103.3h0M354.4 104.0h0M359.7 83.7h0M346.9 94.7h0M362.1 75.5h0M355.9 92.0h0M351.4 87.8h0M360.0 84.0h0M355.8 79.7h0M347.3 94.1h0M343.0 87.1h0M364.0 78.5h0M358.9 86.7h0M350.7 87.0h0M363.1 82.8h0M361.2 99.1h0M347.1 88.2h0M351.7 91.5h0M359.7 72.0h0M354.7 95.6h0M363.7 91.4h0M352.3 91.8h0M360.8 83.3h0M344.0 91.6h0M368.6 78.9h0M355.2 88.4h0M350.9 76.1h0M346.6 92.2h0M363.4 83.7h0M352.4 83.8h0M355.0 91.0h0M353.0 87.3h0M355.8 87.5h0M347.2 79.2h0M352.3 95.0h0M359.7 83.1h0M351.8 90.6h0M356.6 83.6h0M360.8 98.9h0M354.9 95.6h0M368.4 79.5h0M364.8 84.1h0M360.7 74.0h0M344.3 91.0h0M351.1 83.8h0M354.7 90.3h0M351.0 82.9h0M346.1 94.8h0M363.6 78.5h0M360.3 76.2h0M347.7 92.0h0M368.9 87.6h0M359.6 83.7h0M339.4 79.7h0M351.6 87.4h0M360.5 79.1h0M350.5 87.9h0M356.7 103.2h0M360.3 92.1h0M347.7 94.7h0M359.0 84.2h0M343.8 94.2h0M347.7 91.4h0M360.1 80.0h0M346.0 87.9h0M346.8 99.7h0M356.6 72.6h0M347.8 91.2h0M359.3 82.9h0M346.1 91.2h0M358.8 86.7h0M358.5 82.9h0M352.4 91.1h0M359.9 86.8h0M352.1 96.7h0M352.5 102.5h0M363.1 103.1h0M351.1 79.7h0M360.4 79.5h0M355.9 94.6h0M364.7 76.1h0M344.3 91.2h0M347.2 90.3h0M355.6 83.3h0M348.3 87.5h0M359.5 99.4h0M351.5 87.3h0M351.5 90.4h0M351.7 92.2h0M355.8 95.0h0M358.9 95.0h0M346.9 93.9h0M351.6 91.3h0M350.9 95.1h0M355.7 94.9h0M367.3 67.6h0M351.1 98.8h0M361.0 75.9h0M360.5 84.1h0M360.4 80.7h0M347.4 95.1h0M355.8 75.6h0M352.5 99.0h0M356.4 97.8h0M344.4 88.1h0M364.1 48.2h0M344.3 91.5h0M356.2 79.8h0M350.4 75.6h0M344.0 90.9h0M355.9 106.4h0M351.1 99.4h0M342.6 94.9h0M344.8 94.6h0M355.9 79.3h0M364.6 87.4h0M356.4 91.3h0M348.1 82.8h0M350.2 95.0h0M364.0 80.0h0M347.9 80.0h0M347.6 70.5h0M351.6 91.8h0M350.5 90.3h0M363.2 102.6h0M379.3 68.6h0M351.4 91.2h0M347.1 90.9h0M351.0 94.6h0M360.9 95.5h0M346.8 86.8h0M376.9 64.7h0M356.6 90.6h0M375.9 36.4h0M363.7 82.8h0M355.8 90.5h0M360.8 82.8h0M355.3 103.4h0M355.2 100.0h0M347.4 101.9h0M359.3 83.8h0M367.1 68.2h0M347.8 91.6h0M349.6 90.3h0M347.9 83.0h0M356.1 92.7h0M351.9 91.0h0M342.5 91.1h0M359.1 82.3h0M352.5 102.5h0M362.9 72.1h0M352.2 82.5h0M352.6 91.7h0M343.4 86.4h0M356.0 92.0h0M355.5 95.9h0M359.6 110.2h0M343.6 91.1h0M350.9 94.2h0M350.7 95.2h0M356.1 83.7h0M354.7 82.9h0M351.0 82.8h0M343.3 91.1h0M347.5 84.5h0M352.8 63.8h0M343.2 71.3h0M347.1 91.2h0M376.0 76.6h0M364.0 87.4h0M361.0 67.6h0M347.4 87.8h0M368.3 91.4h0M360.1 83.8h0M347.3 86.8h0M351.7 99.0h0M363.7 75.4h0M364.3 99.0h0M347.6 91.6h0M363.3 71.7h0M355.7 75.0h0M351.5 95.0h0M342.9 91.7h0M352.5 90.8h0M360.3 83.4h0M363.8 91.2h0M352.1 87.4h0M363.5 83.0h0M364.0 90.2h0M347.0 100.4h0M347.0 91.4h0M347.1 87.5h0M351.5 76.6h0M355.9 78.9h0M364.3 75.5h0M350.9 101.9h0M351.5 91.3h0M343.8 95.1h0M351.5 79.6h0M351.4 98.0h0M352.0 103.5h0M363.5 90.9h0M352.0 95.3h0M350.9 99.2h0M340.2 87.1h0M347.9 95.4h0M347.8 86.6h0M354.7 79.2h0M359.9 90.4h0M348.0 91.0h0M340.7 84.7h0M360.4 94.5h0M359.3 96.0h0M360.3 103.1h0M360.6 98.7h0M356.5 86.9h0M359.5 91.2h0M388.4 48.5h0M342.0 88.0h0M359.8 94.3h0M359.4 78.1h0M355.4 79.1h0M358.8 74.9h0M348.1 80.8h0M347.2 98.4h0M343.4 95.2h0M356.1 79.9h0M352.5 84.1h0M355.1 66.5h0M342.6 83.4h0M351.3 86.1h0M363.0 78.6h0M364.0 91.9h0M343.5 91.8h0M359.2 80.1h0M359.7 79.9h0M356.6 83.5h0M352.4 79.5h0M355.7 98.9h0M352.1 105.1h0M359.5 102.4h0M347.2 95.6h0M351.2 90.8h0M355.7 101.9h0M351.8 94.7h0M351.2 99.4h0M351.6 86.8h0M351.1 87.2h0M352.5 79.1h0M351.3 75.9h0M352.1 87.1h0M356.5 103.5h0M359.3 84.4h0M356.2 99.0h0M359.6 82.7h0M355.7 71.4h0M347.4 83.1h0M352.0 98.5h0M347.5 79.1h0M348.3 84.4h0M362.9 80.8h0M379.3 56.6h0M366.6 64.3h0M339.1 82.6h0M367.6 68.3h0M375.1 52.6h0M352.1 82.9h0M354.6 91.2h0M348.5 90.7h0M352.0 91.2h0M359.1 82.9h0M360.2 83.2h0M347.4 103.4h0M360.5 72.2h0M352.3 83.5h0M352.0 106.4h0M357.5 78.9h0M346.6 88.3h0M352.2 95.3h0M348.5 87.2h0M364.5 52.9h0M360.9 71.1h0M367.6 63.8h0M352.4 79.9h0M354.6 91.4h0M346.4 88.0h0M365.3 89.8h0M348.4 91.6h0M364.2 71.9h0M392.3 114.6h0M356.9 88.4h0M359.0 91.7h0M347.7 86.6h0M355.1 83.1h0M356.2 75.3h0M368.3 80.0h0M354.9 86.9h0M355.7 85.2h0M359.8 83.1h0M351.4 75.4h0M347.3 86.5h0M356.1 87.2h0M352.1 95.5h0M359.7 84.0h0M347.9 90.9h0M355.9 86.9h0M363.4 94.2h0M363.9 71.7h0M355.3 94.2h0M359.7 83.1h0M359.8 75.8h0M343.1 91.2h0M351.9 82.8h0M354.5 84.6h0M355.5 87.5h0M351.8 95.1h0M342.6 94.7h0M351.3 87.9h0M350.9 84.6h0M356.4 87.1h0M347.4 87.3h0" stroke="#000" opacity="0.2"/>
<path d="M371.8 79.1h0M350.2 80.1h0M359.6 95.2h0M359.9 79.9h0M359.6 83.0h0M344.0 97.7h0M352.1 78.3h0M348.3 91.1h0M351.8 95.9h0M360.9 87.0h0M356.2 88.0h0M360.6 87.3h0M372.4 74.8h0M354.9 95.1h0M363.9 94.6h0M360.5 82.9h0M355.7 74.9h0M351.4 95.8h0M360.0 106.3h0M351.6 71.3h0M352.2 75.7h0M371.3 72.0h0M351.6 87.6h0M367.5 87.6h0M356.4 90.0h0M348.2 94.9h0M363.7 90.5h0M343.3 91.3h0M368.0 97.8h0M360.1 79.3h0M368.0 87.2h0M343.0 87.2h0M347.7 87.1h0M350.7 83.1h0M347.7 91.1h0M347.8 82.4h0M343.2 91.3h0M347.2 82.4h0M356.2 80.7h0M346.9 99.2h0M350.9 99.9h0M347.7 88.2h0M356.1 93.6h0M356.9 87.5h0M351.7 94.4h0M348.5 87.4h0M348.6 102.7h0M350.3 80.4h0M364.4 77.9h0M350.8 92.2h0M352.7 92.3h0M355.8 95.5h0M351.2 95.0h0M360.4 90.7h0M377.1 79.4h0M359.4 90.4h0M355.4 100.0h0M355.5 79.7h0M360.2 79.5h0M347.2 95.0h0M351.0 99.8h0M351.9 87.3h0M355.6 102.1h0M355.8 94.1h0M346.7 82.9h0M348.0 83.8h0M352.8 94.9h0M355.7 91.6h0M359.6 76.0h0M348.1 80.3h0M352.7 91.0h0M352.4 90.4h0M355.1 91.2h0M386.9 57.3h0M372.6 44.7h0M348.6 87.1h0M389.1 48.9h0M360.1 95.4h0M348.9 93.9h0M351.3 90.7h0M348.0 95.6h0M347.7 87.1h0M363.7 90.4h0M355.8 76.8h0M343.2 91.2h0M364.0 98.5h0M371.2 70.7h0M359.8 91.5h0M363.5 99.0h0M347.8 87.5h0M360.5 94.8h0M355.3 76.6h0M361.0 72.2h0M351.8 79.6h0M364.3 75.8h0M356.0 95.3h0M348.1 91.1h0M368.7 75.1h0M352.9 70.9h0M364.5 103.4h0M347.2 93.8h0M347.3 86.3h0M352.2 90.2h0M359.6 80.5h0M351.7 78.8h0M372.2 48.9h0M347.0 75.8h0M356.2 87.2h0M356.1 71.5h0M360.7 83.1h0M363.8 87.1h0M351.7 96.2h0M360.3 99.7h0M361.5 83.4h0M351.8 75.9h0M347.0 99.2h0M355.9 84.5h0M364.3 90.8h0M352.5 91.3h0M355.7 87.4h0M348.6 87.5h0M352.5 83.8h0M351.4 98.6h0M356.5 82.7h0M351.2 91.4h0M347.3 91.4h0M348.4 79.7h0M343.6 66.8h0M363.0 79.2h0M359.9 75.6h0M353.3 91.9h0M350.1 98.3h0M343.4 87.1h0M364.5 60.6h0M355.5 87.6h0M355.2 96.1h0M350.0 78.4h0M367.5 79.4h0M347.6 91.0h0M351.5 92.0h0M347.3 95.1h0M351.5 83.1h0M347.7 90.2h0M350.4 87.1h0M342.1 93.7h0M359.9 79.7h0M342.9 79.3h0M355.5 83.3h0M355.4 86.6h0M350.3 79.2h0M359.7 88.6h0M356.3 75.6h0M351.6 72.8h0M351.2 91.1h0M351.4 95.2h0M354.1 102.6h0M364.6 79.6h0M356.0 84.1h0M371.4 59.1h0M353.4 83.4h0M355.9 100.1h0M346.7 95.7h0M351.8 83.3h0M355.4 79.0h0M347.3 79.6h0M349.1 87.2h0M352.2 99.7h0M363.7 70.7h0M355.4 88.3h0M360.0 90.9h0M359.2 87.3h0M351.7 87.9h0M349.0 75.8h0M352.0 90.7h0M348.2 79.6h0M347.4 95.2h0M354.5 87.3h0M351.3 87.5h0M356.0 99.4h0M350.2 80.7h0M356.4 87.4h0M359.2 72.1h0M348.4 86.8h0M347.5 90.8h0M344.2 78.3h0M350.8 95.3h0M355.7 78.4h0M352.6 91.1h0M351.8 90.3h0M368.1 91.2h0M356.8 95.5h0M355.0 69.0h0M356.4 95.8h0M343.4 86.4h0M380.1 60.5h0M355.0 83.3h0M352.0 95.3h0M350.9 82.5h0M355.6 90.4h0M360.7 90.5h0M348.5 79.5h0M360.7 76.0h0M352.4 71.6h0M361.1 78.5h0M360.3 71.7h0M343.2 91.4h0M354.2 84.5h0M351.8 79.6h0M344.2 87.2h0M359.7 86.6h0M349.1 94.2h0M356.8 91.6h0M351.5 103.5h0M359.6 91.9h0M352.2 90.8h0M355.5 76.9h0M355.0 91.8h0M356.5 75.1h0M354.9 95.4h0M364.3 103.3h0M351.8 97.8h0M365.2 75.0h0M368.8 79.8h0M360.3 80.3h0M379.9 59.8h0M368.4 71.8h0M363.9 71.4h0M359.8 78.9h0M351.7 94.4h0M347.6 94.7h0M360.2 86.2h0M364.6 67.9h0M380.9 57.7h0M356.4 78.9h0M359.3 75.8h0M364.1 91.9h0M347.5 87.3h0M351.9 87.5h0M359.6 110.7h0M355.1 99.6h0M347.1 91.3h0M355.1 103.1h0M355.8 98.6h0M356.2 92.7h0M363.1 88.1h0M344.3 91.0h0M355.6 63.4h0M352.0 65.0h0M347.0 99.2h0M348.1 75.4h0M365.2 87.2h0M355.7 103.0h0M364.9 91.1h0M355.2 88.0h0M355.3 103.3h0M359.5 103.8h0M347.3 74.4h0M358.9 68.2h0M356.7 82.9h0M356.3 88.4h0M359.4 82.9h0M351.1 79.8h0M360.0 91.3h0M353.1 94.8h0M347.0 98.6h0M355.4 83.5h0M356.0 91.2h0M347.2 99.0h0M347.3 75.9h0M363.5 88.1h0M369.0 71.4h0M351.8 91.5h0M365.0 98.5h0M347.5 91.3h0M359.1 79.9h0M367.9 110.3h0M355.1 91.0h0M381.8 42.5h0M364.4 90.7h0M346.8 74.6h0M351.9 84.2h0M360.1 74.8h0M351.5 86.6h0M347.2 87.7h0M355.6 103.2h0M352.1 88.3h0M372.1 71.9h0M343.9 96.1h0M356.4 80.8h0M356.5 79.2h0M350.6 98.9h0M346.8 83.8h0M343.1 86.7h0M343.8 71.5h0M372.7 83.9h0M359.7 83.3h0M355.5 94.3h0M344.2 80.0h0M342.9 83.9h0M340.2 84.0h0M347.7 95.0h0M347.2 95.2h0M359.5 94.4h0M347.8 87.7h0M368.2 79.7h0M358.2 72.5h0M359.3 98.6h0M355.0 102.9h0M347.6 94.8h0M360.4 95.8h0M344.0 87.1h0M347.4 94.9h0M368.7 87.6h0M347.4 91.1h0M360.0 95.4h0M347.1 88.5h0M351.9 87.9h0M356.6 87.2h0M356.1 102.5h0M343.5 91.4h0M339.4 74.6h0M355.8 75.6h0M362.6 86.9h0M359.5 64.3h0M353.9 76.3h0M371.5 76.0h0M348.2 102.5h0M356.5 94.3h0M358.1 87.1h0M359.3 75.2h0M342.8 68.0h0M355.3 99.2h0M362.2 106.4h0M347.8 94.5h0M355.5 90.9h0M372.7 63.9h0M356.0 98.5h0M364.3 81.1h0M351.9 99.1h0M360.9 90.8h0M360.0 96.1h0M343.8 83.3h0M340.5 87.6h0M351.1 91.1h0M360.0 99.7h0M368.4 71.7h0M363.7 95.7h0M342.8 86.9h0M350.3 92.4h0M351.0 90.2h0M351.1 91.0h0M351.0 83.7h0M351.7 90.9h0M354.8 79.8h0M355.3 87.7h0M368.4 95.4h0M364.4 83.5h0M351.4 91.1h0M352.1 91.3h0M347.0 90.8h0M352.4 95.3h0M351.5 87.3h0M356.0 91.8h0M364.4 82.9h0M355.6 75.6h0M355.7 99.1h0M352.0 87.8h0M363.8 94.4h0M364.0 78.6h0M359.6 79.2h0M348.1 93.8h0M359.3 78.7h0M359.7 98.4h0M356.2 91.5h0M347.5 94.4h0M351.8 91.3h0M359.7 91.5h0M352.1 75.7h0M352.2 99.1h0M359.7 95.4h0M352.0 91.3h0M359.4 83.5h0M345.1 95.6h0M351.7 87.8h0M357.0 90.8h0M351.4 79.1h0M355.4 98.7h0M343.3 88.6h0M356.5 95.0h0M352.2 79.8h0M361.1 91.1h0M354.7 63.1h0M351.8 102.4h0M356.0 83.9h0M347.4 94.5h0M363.7 84.0h0M360.0 91.1h0M346.6 81.5h0M350.2 83.7h0M360.3 82.2h0M343.0 91.0h0M351.9 95.9h0M351.7 91.1h0M351.3 93.9h0M355.9 75.7h0M358.3 71.1h0M347.4 95.6h0M346.6 99.0h0M354.5 78.4h0M352.4 95.1h0M347.9 88.5h0M348.1 94.1h0M343.2 91.7h0M348.0 79.6h0M344.1 92.4h0M350.6 79.5h0M363.4 95.2h0M351.5 99.2h0M352.0 100.0h0M365.5 60.4h0M356.8 92.0h0M363.8 83.5h0M351.4 82.9h0M344.4 91.9h0M351.7 95.3h0M363.3 92.0h0M375.8 111.2h0M359.6 98.7h0M342.8 95.7h0M343.2 87.1h0M361.1 87.4h0M351.4 95.2h0M346.8 99.0h0M355.8 91.8h0M356.4 86.9h0M339.1 79.4h0M359.2 75.8h0M355.6 87.2h0M352.2 87.6h0M351.6 77.0h0M360.0 94.9h0M364.8 82.6h0M351.4 87.6h0M356.3 72.0h0M348.2 100.2h0M348.2 89.8h0M356.0 102.4h0M356.9 102.8h0M351.4 76.2h0M367.0 90.3h0M351.9 91.1h0M357.5 95.4h0M350.6 94.8h0M352.5 82.8h0M351.6 83.5h0M363.7 91.8h0M360.5 96.7h0M364.7 90.5h0M343.6 94.7h0M355.5 79.5h0M351.8 82.8h0M347.0 75.3h0M351.8 79.3h0M352.3 98.7h0M364.5 91.2h0M354.9 91.4h0M347.4 86.7h0M343.8 79.5h0M360.1 80.0h0M356.8 80.2h0M352.5 88.4h0M351.9 84.0h0M352.2 88.2h0M356.4 87.3h0M354.7 90.3h0M363.8 71.3h0M355.6 94.8h0M352.0 91.3h0M351.6 83.4h0M351.8 87.4h0M347.1 86.7h0M347.4 91.2h0M351.3 79.8h0M359.3 98.4h0M356.2 92.2h0M343.2 94.8h0M351.6 103.2h0M365.4 86.7h0M359.8 88.1h0M364.4 83.6h0M356.3 84.1h0M364.2 87.5h0M347.5 91.5h0M351.7 102.9h0M367.6 72.0h0M359.2 67.5h0M342.9 82.7h0M360.7 99.3h0M351.4 79.7h0M351.5 71.8h0M356.4 64.0h0M351.5 83.4h0M352.5 72.6h0M352.0 82.2h0M364.9 82.5h0M351.1 91.3h0M352.1 83.2h0M359.7 98.9h0M355.1 98.9h0M347.4 90.3h0M359.5 87.9h0M351.7 79.9h0M357.1 84.0h0M352.5 89.7h0M356.5 88.7h0M356.2 87.0h0M367.2 94.3h0M339.7 75.9h0M347.5 87.4h0M352.1 95.8h0M351.2 87.3h0M371.9 88.0h0M347.5 87.4h0M351.8 90.9h0M360.0 95.2h0M356.3 87.6h0M343.7 86.3h0M359.3 80.0h0M360.6 79.7h0M360.5 75.4h0M372.3 68.0h0M355.8 76.3h0M360.3 87.1h0M363.9 96.1h0M352.1 91.6h0M351.3 98.9h0M368.8 84.0h0M351.2 83.7h0M355.6 90.6h0M355.6 79.5h0M347.6 98.9h0M343.9 88.1h0M340.4 79.7h0M369.0 81.2h0M344.3 94.3h0M347.4 94.6h0M356.8 71.4h0M364.9 83.7h0M355.5 79.3h0M351.9 91.3h0M343.4 76.1h0M350.5 76.1h0M356.0 91.1h0M360.4 94.3h0M359.2 78.1h0M348.4 78.9h0M346.8 97.4h0M371.2 52.4h0M347.5 79.7h0M355.7 99.1h0M360.8 91.5h0M347.8 87.0h0M348.1 102.9h0M368.2 95.5h0M354.7 94.7h0M355.5 106.0h0M343.5 86.8h0M348.4 94.8h0M355.6 91.2h0M343.9 94.1h0M355.3 88.8h0M351.4 78.9h0M350.4 95.5h0M356.1 91.6h0M363.5 83.7h0M363.1 59.8h0M364.5 91.0h0M355.8 71.4h0M338.5 79.7h0M343.8 84.0h0M351.8 98.0h0M351.2 87.1h0M359.9 87.3h0M359.6 84.0h0M371.6 92.3h0M359.3 99.4h0M347.5 87.5h0M352.2 79.0h0M351.9 91.0h0M348.4 91.2h0M355.8 91.0h0M347.6 95.7h0M351.1 79.4h0M347.1 75.3h0M351.0 80.3h0M361.1 80.6h0M355.2 79.1h0M359.6 71.4h0M347.6 90.8h0M346.8 102.3h0M343.6 91.4h0M359.5 83.3h0M348.3 83.7h0M352.6 102.7h0M356.8 75.7h0M364.3 91.9h0M350.2 83.0h0M351.7 91.5h0M370.8 80.1h0M346.9 90.2h0M349.0 97.8h0M359.4 110.2h0M368.3 91.6h0M351.2 79.4h0M343.4 88.8h0M343.1 86.1h0M363.2 87.5h0M355.8 99.5h0M351.8 99.2h0M354.9 99.2h0M360.1 87.7h0M347.5 95.4h0M348.3 82.8h0M343.8 90.2h0M351.2 95.6h0M346.6 94.7h0M347.1 94.9h0M349.0 90.9h0M343.8 94.4h0M351.9 102.6h0M347.5 92.4h0M347.5 78.5h0M375.9 56.1h0M347.8 99.5h0M356.6 88.0h0M359.9 92.2h0M348.2 95.1h0M355.2 102.3h0M352.3 102.9h0M352.6 91.2h0M351.0 86.5h0M364.4 75.9h0M379.9 68.2h0M351.2 92.0h0M363.4 80.2h0M355.4 86.7h0M354.9 67.8h0M343.8 91.5h0M351.2 95.8h0M356.8 90.5h0M347.5 96.0h0M371.7 80.5h0M353.5 90.5h0M351.2 79.0h0M350.8 99.4h0M376.3 57.7h0M343.8 95.3h0M356.6 95.1h0M359.8 80.4h0M351.4 79.5h0M347.5 91.1h0M360.5 84.9h0M352.2 87.5h0M360.2 94.3h0M359.2 95.7h0M355.5 91.9h0M367.9 95.8h0M359.7 75.3h0M347.6 102.1h0M367.4 87.1h0M359.8 72.4h0M351.1 91.6h0M340.2 83.4h0M355.8 91.3h0M343.8 94.5h0M367.4 83.6h0M351.1 74.6h0M356.1 95.7h0" stroke="#000" opacity="0.2"/>
<path d="M347.5 87.1h0M346.9 83.9h0M367.9 56.1h0M343.7 83.5h0M355.5 79.7h0M352.1 95.2h0M355.9 90.8h0M344.1 86.4h0M351.6 99.7h0M359.7 103.1h0M347.7 98.9h0M354.5 91.2h0M361.8 95.2h0M355.8 99.6h0M345.1 82.5h0M347.7 79.7h0M351.6 80.1h0M342.7 87.4h0M351.9 72.2h0M350.8 90.5h0M354.9 76.0h0M354.6 87.5h0M352.1 90.6h0M346.6 91.5h0M351.9 80.4h0M347.6 91.0h0M359.8 105.9h0M343.6 94.8h0M348.6 87.9h0M344.8 90.8h0M363.7 83.2h0M359.8 75.7h0M351.4 95.3h0M356.8 95.8h0M355.8 88.3h0M359.7 96.2h0M347.3 99.4h0M355.4 82.8h0M355.2 76.3h0M368.8 83.7h0M347.8 95.2h0M356.4 95.2h0M361.5 80.8h0M368.1 83.5h0M363.3 59.6h0M352.5 79.1h0M352.5 75.8h0M346.9 95.5h0M366.1 75.4h0M343.1 83.2h0M363.8 83.1h0M347.4 94.9h0M351.3 87.3h0M355.3 90.5h0M351.5 91.0h0M360.2 79.4h0M338.6 79.9h0M347.6 86.8h0M352.3 90.1h0M372.0 49.4h0M343.6 91.4h0M364.5 87.3h0M347.2 88.3h0M372.3 75.3h0M355.8 71.6h0M360.1 69.0h0M367.2 70.3h0M347.9 99.2h0M355.4 103.2h0M352.0 91.0h0M351.4 102.2h0M368.4 98.9h0M360.0 68.3h0M348.1 87.7h0M348.6 79.3h0M346.5 99.0h0M355.5 91.2h0M348.1 89.7h0M343.4 95.9h0M348.7 82.9h0M350.6 63.7h0M348.2 87.4h0M339.3 63.1h0M350.7 103.0h0M368.1 87.2h0M350.9 102.8h0M364.3 79.1h0M356.5 83.2h0M355.4 98.6h0M343.9 91.2h0M352.4 91.6h0M344.0 94.8h0M347.8 90.6h0M348.7 90.9h0M357.7 75.4h0M388.5 36.1h0M355.2 83.8h0M352.8 84.1h0M359.9 87.6h0M363.1 71.7h0M347.9 91.1h0M351.3 84.1h0M369.1 87.4h0M367.3 52.7h0M347.4 86.7h0M347.4 80.0h0M343.1 91.3h0M355.6 83.0h0M352.3 82.4h0M371.1 84.2h0M356.1 88.0h0M347.1 75.2h0M359.3 75.4h0M340.5 84.3h0M360.0 87.0h0M355.1 67.7h0M363.1 64.5h0M363.8 71.8h0M347.5 99.8h0M355.0 82.8h0M351.8 83.9h0M355.4 101.6h0M348.1 87.6h0M351.1 87.2h0M360.5 74.3h0M360.3 78.5h0M361.1 91.3h0M359.2 68.4h0M352.1 98.4h0M356.8 98.5h0M355.4 103.3h0M352.1 102.4h0M356.4 98.9h0M352.5 100.3h0M359.9 86.7h0M354.8 91.5h0M347.8 95.9h0M340.5 78.9h0M373.1 111.9h0M351.5 90.2h0M344.6 84.2h0M354.9 87.1h0M346.0 80.2h0M355.5 95.5h0M355.1 95.6h0M360.0 84.3h0M360.6 86.5h0M355.4 87.5h0M355.6 79.4h0M342.1 91.5h0M351.5 98.9h0M343.0 90.4h0M347.8 102.0h0M352.4 83.7h0M352.9 80.4h0M356.8 100.2h0M355.8 79.3h0M346.6 90.7h0M348.2 83.0h0M347.5 79.9h0M367.5 83.5h0M351.8 95.7h0M356.2 78.9h0M351.7 90.9h0M352.2 82.8h0M355.7 99.9h0M343.3 90.6h0M347.0 91.2h0M354.5 84.1h0M347.3 90.8h0M356.5 64.2h0M377.1 71.6h0M348.9 99.3h0M351.3 82.3h0M351.1 68.6h0M351.9 83.6h0M343.8 95.4h0M356.3 91.0h0M356.9 79.7h0M358.9 91.8h0M347.2 99.7h0M359.9 88.6h0M347.3 96.1h0M361.6 95.0h0M354.9 102.6h0M347.1 83.5h0M356.2 75.5h0M351.4 98.6h0M344.0 83.0h0M355.9 103.6h0M363.8 60.0h0M362.3 86.7h0M364.4 110.5h0M347.7 91.4h0M347.6 102.3h0M351.6 87.9h0M352.4 91.8h0M362.1 67.7h0M347.3 82.8h0M347.1 84.1h0M352.7 79.9h0M351.9 88.1h0M351.2 102.3h0M367.2 91.1h0M360.2 99.7h0M346.9 87.3h0M360.4 76.5h0M343.4 86.6h0M351.8 92.2h0M351.7 80.1h0M348.1 95.0h0M355.7 94.9h0M359.7 86.9h0M350.0 94.6h0M363.1 83.3h0M366.9 99.6h0M355.5 83.5h0M355.9 79.2h0M352.0 102.6h0M363.4 90.8h0M351.1 87.7h0M343.5 87.0h0M343.4 95.5h0M342.7 87.5h0M360.6 96.4h0M351.0 94.8h0M342.8 90.5h0M348.2 74.7h0M355.3 103.4h0M356.4 102.0h0M343.4 94.0h0M356.2 75.3h0M355.5 96.0h0M347.4 81.8h0M355.2 80.2h0M347.6 86.5h0M347.3 99.2h0M346.7 95.7h0M346.7 94.3h0M355.3 83.9h0M357.1 79.1h0M355.5 94.3h0M360.0 64.2h0M352.4 91.9h0M373.5 104.4h0M356.0 87.5h0M346.6 84.3h0M352.1 87.9h0M347.9 87.5h0M343.1 71.7h0M351.4 102.2h0M351.1 80.1h0M352.3 94.9h0M368.4 87.1h0M356.1 91.3h0M372.0 72.2h0M363.8 82.7h0M347.2 91.2h0M377.7 68.6h0M355.9 77.8h0M352.1 95.0h0M348.1 93.7h0M351.9 83.5h0M355.4 91.8h0M360.2 83.6h0M364.2 87.4h0M351.6 91.3h0M360.7 95.6h0M375.1 55.9h0M351.3 79.5h0M349.0 102.0h0M346.5 95.2h0M351.0 103.1h0M347.2 96.0h0M351.9 99.3h0M346.7 94.8h0M355.8 80.0h0M363.5 75.6h0M352.0 77.0h0M351.9 87.0h0M359.2 96.0h0M355.7 91.3h0M355.6 75.7h0M347.5 84.4h0M346.9 95.0h0M339.1 79.2h0M351.7 79.9h0M351.4 84.0h0M364.0 90.8h0M364.0 86.3h0M355.6 106.8h0M364.4 92.1h0M343.8 86.9h0M348.3 99.3h0M352.1 75.6h0M351.5 95.0h0M346.8 94.6h0M342.9 95.4h0M360.1 83.2h0M348.3 86.4h0M350.8 98.7h0M348.1 83.3h0M359.9 87.5h0M347.0 91.2h0M364.7 79.7h0M355.5 91.0h0M356.6 79.3h0M372.2 84.8h0M352.0 91.6h0M347.8 87.2h0M363.9 86.4h0M352.9 87.3h0M363.7 91.4h0M356.2 80.1h0M354.8 91.4h0M364.6 106.2h0M356.4 88.1h0M351.6 72.1h0M360.8 84.2h0M372.1 61.2h0M346.9 90.9h0M343.0 90.3h0M353.8 83.0h0M351.4 91.2h0M356.8 62.3h0M348.0 87.8h0M352.2 87.2h0M355.6 81.5h0M369.1 95.4h0M364.7 83.4h0M338.8 83.5h0M363.3 87.9h0M360.4 84.6h0M352.7 95.8h0M363.7 74.8h0M352.4 95.8h0M347.4 83.4h0M360.0 94.8h0M352.4 91.5h0M350.8 90.6h0M356.2 83.3h0M355.9 103.4h0M354.8 79.4h0M367.7 88.4h0M355.0 99.7h0M363.8 72.1h0M347.0 90.6h0M363.0 91.8h0M347.7 97.5h0M347.7 98.5h0M360.7 77.0h0M343.7 90.1h0M355.3 79.4h0M359.0 91.3h0M359.9 75.0h0M360.2 75.5h0M351.9 88.2h0M368.7 99.2h0M360.2 75.5h0M380.8 52.7h0M350.7 87.4h0M355.5 86.5h0M348.4 83.3h0M348.2 83.1h0M364.5 80.1h0M347.8 98.6h0M360.6 106.7h0M343.0 87.1h0M356.6 95.4h0M373.1 71.6h0M351.7 98.8h0M343.1 92.2h0M356.7 87.0h0M350.9 87.1h0M343.2 87.4h0M362.2 98.8h0M355.9 84.3h0M351.3 94.3h0M342.9 95.1h0M355.6 83.7h0M352.1 87.3h0M355.8 89.2h0M356.5 95.1h0M355.9 83.1h0M350.6 91.6h0M347.6 95.6h0M351.3 87.7h0M347.7 83.6h0M351.0 91.3h0M347.2 98.5h0M344.5 84.0h0M351.5 76.0h0M381.0 72.4h0M348.0 71.5h0M368.2 91.4h0M364.0 103.1h0M360.8 79.1h0M348.2 86.6h0M351.5 75.1h0M364.5 73.7h0M380.4 106.7h0M355.9 94.9h0M352.4 106.3h0M363.9 74.9h0M347.4 95.1h0M356.4 87.7h0M380.9 64.0h0M343.8 79.2h0M360.2 96.3h0M367.7 86.8h0M359.0 94.7h0M363.3 78.9h0M352.1 102.1h0M356.6 90.5h0M372.9 62.9h0M351.9 107.1h0M363.7 99.9h0M346.3 90.7h0M352.4 91.7h0M355.7 90.0h0M360.3 72.1h0M354.0 95.1h0M347.6 87.5h0M355.6 79.3h0M352.1 74.8h0M343.5 91.0h0M355.1 87.3h0M359.9 55.1h0M367.8 83.5h0M351.8 95.6h0M359.7 78.6h0M360.0 79.8h0M366.9 98.7h0M346.6 83.7h0M368.6 91.7h0M360.9 87.6h0M351.3 91.7h0M360.2 95.0h0M360.2 83.3h0M352.1 79.6h0M356.3 79.8h0M368.2 73.3h0M352.3 80.8h0M351.9 75.8h0M367.4 98.9h0M355.9 91.4h0M363.9 82.6h0M348.2 99.1h0M347.1 82.7h0M347.0 97.6h0M388.3 52.7h0M339.9 83.0h0M339.4 83.0h0M351.1 86.6h0M347.0 88.2h0M347.1 100.2h0M342.5 91.7h0M351.6 78.6h0M351.5 102.5h0M364.0 71.7h0M368.8 87.7h0M352.5 74.8h0M351.4 94.9h0M356.2 83.8h0M360.1 99.4h0M351.7 95.6h0M347.1 83.3h0M367.8 86.4h0M338.7 79.8h0M355.3 89.5h0M359.8 76.2h0M347.0 99.1h0M352.0 94.5h0M356.1 92.2h0M369.6 83.5h0M343.6 88.0h0M381.1 55.8h0M351.5 103.0h0M352.3 76.6h0M355.6 95.6h0M351.5 66.3h0M346.3 82.6h0M363.0 84.4h0M351.7 89.8h0M356.3 67.1h0M358.0 89.8h0M355.4 72.6h0M347.0 94.4h0M364.0 103.4h0M350.6 84.5h0M365.1 83.1h0M363.3 110.3h0M342.5 95.2h0M355.1 87.3h0M350.9 71.0h0M348.6 95.8h0M342.9 90.1h0M338.8 83.7h0M348.4 99.2h0M356.5 98.2h0M355.7 94.8h0M350.5 102.1h0M343.5 88.0h0M369.1 79.0h0M355.0 95.0h0M350.7 76.8h0M351.9 94.7h0M350.8 94.5h0M388.9 56.3h0M346.9 90.8h0M354.7 103.6h0M347.9 95.2h0M354.3 90.7h0M347.8 94.7h0M355.0 83.6h0M351.5 99.3h0M359.3 94.8h0M347.6 91.8h0M351.7 106.9h0M351.3 95.6h0M356.1 83.8h0M342.7 95.4h0M347.6 92.1h0M351.1 87.2h0M353.0 90.9h0M355.6 86.2h0M351.5 91.6h0M367.4 83.6h0M359.1 87.1h0M363.6 64.0h0M355.9 86.7h0M368.7 99.3h0M358.7 78.8h0M355.9 60.5h0M371.7 74.8h0M367.3 90.8h0M351.9 94.9h0M360.2 71.4h0M372.2 83.8h0M359.6 98.6h0M356.2 75.3h0M359.8 87.3h0M347.8 76.3h0M355.6 78.9h0M352.2 82.6h0M360.3 95.5h0M347.7 76.2h0M343.6 90.9h0M356.0 97.7h0M352.0 83.5h0M351.6 86.5h0M356.0 84.6h0M340.3 83.3h0M351.2 73.0h0M347.8 88.3h0M356.0 102.9h0M365.0 79.4h0M351.9 91.4h0M351.5 103.2h0M352.1 80.4h0M364.5 95.1h0M351.3 99.6h0M343.3 80.2h0M347.7 91.5h0M347.3 96.1h0M351.8 83.6h0M359.8 99.0h0M351.7 79.0h0M343.5 88.2h0M351.9 90.8h0M360.1 90.4h0M360.2 79.4h0M364.3 79.5h0M355.4 80.0h0M367.4 68.4h0M363.9 80.0h0M359.8 94.9h0M343.4 90.1h0M347.5 99.4h0M360.1 94.2h0M347.5 78.6h0M347.3 80.8h0M348.0 75.5h0M359.5 71.5h0M351.7 91.2h0M352.4 87.5h0M359.7 93.9h0M360.0 99.3h0M352.2 86.6h0M355.1 103.3h0M352.6 90.6h0M352.7 87.7h0M351.8 95.4h0M360.3 94.8h0M348.0 83.6h0M355.4 90.5h0M346.2 86.3h0M352.4 90.7h0M364.6 81.8h0M358.9 95.3h0M347.7 88.5h0M352.5 102.2h0M360.0 91.0h0M359.0 67.7h0M351.8 83.4h0M344.3 83.5h0M346.8 91.7h0M348.2 99.8h0M351.5 87.3h0M360.4 62.6h0M351.5 84.2h0M351.7 99.0h0M368.7 68.5h0M359.7 101.9h0M347.1 76.4h0M356.9 102.9h0M342.2 91.4h0M355.1 92.2h0M352.2 84.1h0M343.2 74.6h0M345.8 75.1h0M358.9 103.0h0M356.0 82.9h0M356.8 95.2h0M356.0 83.6h0M360.0 102.5h0M347.2 87.6h0M358.5 86.1h0M363.4 68.7h0M355.8 99.4h0M355.4 97.6h0M360.4 79.8h0M346.7 74.3h0M352.0 87.2h0M356.1 75.7h0M347.2 94.2h0M355.8 84.6h0M355.7 90.6h0M348.6 94.3h0M351.7 94.1h0M343.7 83.4h0M364.4 103.2h0M355.9 87.1h0M352.2 102.9h0M347.4 95.0h0M351.2 86.7h0M368.9 99.5h0M347.5 87.6h0M343.1 87.8h0M348.5 82.6h0M355.8 82.9h0M356.1 91.1h0M372.7 90.8h0M347.4 95.4h0M351.5 91.9h0" stroke="#000" opacity="0.2"/>
</g>
<line x1="320.90" x2="320.90" y1="137.0" y2="138.0" stroke="#666" stroke-width="0.35"/>
<text x="320.90" y="142.20" font-size="3" text-anchor="middle" style="fill:#444">0.6</text>
<line x1="308.4" x2="309.4" y1="128.00" y2="128.00" stroke="#666" stroke-width="0.35"/>
<text x="307.20" y="129.00" font-size="3" text-anchor="end" style="fill:#444">0.6</text>
<line x1="345.00" x2="345.00" y1="137.0" y2="138.0" stroke="#666" stroke-width="0.35"/>
<text x="345.00" y="142.20" font-size="3" text-anchor="middle" style="fill:#444">0.8</text>
<line x1="308.4" x2="309.4" y1="105.18" y2="105.18" stroke="#666" stroke-width="0.35"/>
<text x="307.20" y="106.18" font-size="3" text-anchor="end" style="fill:#444">0.8</text>
<line x1="369.10" x2="369.10" y1="137.0" y2="138.0" stroke="#666" stroke-width="0.35"/>
<text x="369.10" y="142.20" font-size="3" text-anchor="middle" style="fill:#444">1.0</text>
<line x1="308.4" x2="309.4" y1="82.36" y2="82.36" stroke="#666" stroke-width="0.35"/>
<text x="307.20" y="83.36" font-size="3" text-anchor="end" style="fill:#444">1.0</text>
<line x1="393.20" x2="393.20" y1="137.0" y2="138.0" stroke="#666" stroke-width="0.35"/>
<text x="393.20" y="142.20" font-size="3" text-anchor="middle" style="fill:#444">1.2</text>
<line x1="308.4" x2="309.4" y1="59.54" y2="59.54" stroke="#666" stroke-width="0.35"/>
<text x="307.20" y="60.54" font-size="3" text-anchor="end" style="fill:#444">1.2</text>
<line x1="417.30" x2="417.30" y1="137.0" y2="138.0" stroke="#666" stroke-width="0.35"/>
<text x="417.30" y="142.20" font-size="3" text-anchor="middle" style="fill:#444">1.4</text>
<line x1="308.4" x2="309.4" y1="36.72" y2="36.72" stroke="#666" stroke-width="0.35"/>
<text x="307.20" y="37.72" font-size="3" text-anchor="end" style="fill:#444">1.4</text>
<line x1="440.10" x2="440.10" y1="136.2" y2="137.2" stroke="#666" stroke-width="0.35"/>
<text x="440.10" y="142.20" font-size="3" text-anchor="middle" style="fill:#444">0.60</text>
<line x1="454.20" x2="454.20" y1="136.2" y2="137.2" stroke="#666" stroke-width="0.35"/>
<text x="454.20" y="142.20" font-size="3" text-anchor="middle" style="fill:#444">0.65</text>
<line x1="468.30" x2="468.30" y1="136.2" y2="137.2" stroke="#666" stroke-width="0.35"/>
<text x="468.30" y="142.20" font-size="3" text-anchor="middle" style="fill:#444">0.70</text>
<line x1="482.40" x2="482.40" y1="136.2" y2="137.2" stroke="#666" stroke-width="0.35"/>
<text x="482.40" y="142.20" font-size="3" text-anchor="middle" style="fill:#444">0.75</text>
<line x1="496.50" x2="496.50" y1="136.2" y2="137.2" stroke="#666" stroke-width="0.35"/>
<text x="496.50" y="142.20" font-size="3" text-anchor="middle" style="fill:#444">0.80</text>
<line x1="510.60" x2="510.60" y1="136.2" y2="137.2" stroke="#666" stroke-width="0.35"/>
<text x="510.60" y="142.20" font-size="3" text-anchor="middle" style="fill:#444">0.85</text>
<line x1="524.70" x2="524.70" y1="136.2" y2="137.2" stroke="#666" stroke-width="0.35"/>
<text x="524.70" y="142.20" font-size="3" text-anchor="middle" style="fill:#444">0.90</text>
<line x1="538.80" x2="538.80" y1="136.2" y2="137.2" stroke="#666" stroke-width="0.35"/>
<text x="538.80" y="142.20" font-size="3" text-anchor="middle" style="fill:#444">0.95</text>
<line x1="433.1" x2="434.1" y1="132.70" y2="132.70" stroke="#666" stroke-width="0.35"/>
<text x="431.90" y="133.70" font-size="3" text-anchor="end" style="fill:#444">0.6</text>
<line x1="433.1" x2="434.1" y1="112.80" y2="112.80" stroke="#666" stroke-width="0.35"/>
<text x="431.90" y="113.80" font-size="3" text-anchor="end" style="fill:#444">0.7</text>
<line x1="433.1" x2="434.1" y1="92.90" y2="92.90" stroke="#666" stroke-width="0.35"/>
<text x="431.90" y="93.90" font-size="3" text-anchor="end" style="fill:#444">0.8</text>
<line x1="433.1" x2="434.1" y1="73.00" y2="73.00" stroke="#666" stroke-width="0.35"/>
<text x="431.90" y="74.00" font-size="3" text-anchor="end" style="fill:#444">0.9</text>
<line x1="433.1" x2="434.1" y1="53.10" y2="53.10" stroke="#666" stroke-width="0.35"/>
<text x="431.90" y="54.10" font-size="3" text-anchor="end" style="fill:#444">1.0</text>
<line x1="433.1" x2="434.1" y1="33.20" y2="33.20" stroke="#666" stroke-width="0.35"/>
<text x="431.90" y="34.20" font-size="3" text-anchor="end" style="fill:#444">1.1</text>
<g>
<circle cx="502.2" cy="108.3" r="1.1" fill="#000" opacity="0.06"/>
<circle cx="535.1" cy="108.2" r="1.1" fill="#000" opacity="0.06"/>
<circle cx="441.1" cy="84.9" r="1.1" fill="#000" opacity="0.05"/>
<circle cx="530.8" cy="55.1" r="1.1" fill="#000" opacity="0.04"/>
<circle cx="463.5" cy="91.6" r="1.1" fill="#ff0000" opacity="0.03"/>
<circle cx="460.4" cy="69.2" r="1.1" fill="#000" opacity="0.06"/>
<circle cx="454.5" cy="113.0" r="1.1" fill="#ff0000" opacity="0.05"/>
<circle cx="451.1" cy="45.7" r="1.1" fill="#000" opacity="0.06"/>
<circle cx="459.7" cy="63.8" r="1.1" fill="#000" opacity="0.06"/>
<circle cx="527.9" cy="70.0" r="1.1" fill="#000" opacity="0.06"/>
<circle cx="493.6" cy="102.9" r="1.1" fill="#ff0000" opacity="0.06"/>
<circle cx="509.2" cy="127.4" r="1.1" fill="#000" opacity="0.04"/>
<circle cx="475.3" cy="59.6" r="1.1" fill="#000" opacity="0.03"/>
<circle cx="444.8" cy="71.0" r="1.1" fill="#ff0000" opacity="0.03"/>
<circle cx="507.9" cy="74.1" r="1.1" fill="#000" opacity="0.04"/>
<circle cx="522.3" cy="86.2" r="1.1" fill="#000" opacity="0.04"/>
<circle cx="487.6" cy="105.2" r="1.1" fill="#ff0000" opacity="0.06"/>
<circle cx="440.5" cy="109.0" r="1.1" fill="#000" opacity="0.03"/>
<circle cx="519.2" cy="76.5" r="1.1" fill="#000" opacity="0.05"/>
<circle cx="439.0" cy="49.5" r="1.1" fill="#ff0000" opacity="0.06"/>
<circle cx="458.3" cy="109.5" r="1.1" fill="#000" opacity="0.06"/>
<circle cx="473.5" cy="75.6" r="1.1" fill="#000" opacity="0.05"/>
<circle cx="517.9" cy="54.7" r="1.1" fill="#000" opacity="0.05"/>
<circle cx="520.1" cy="118.3" r="1.1" fill="#000" opacity="0.03"/>
<circle cx="535.4" cy="53.2" r="1.1" fill="#000" opacity="0.04"/>
<circle cx="501.0" cy="123.3" r="1.1" fill="#ff0000" opacity="0.06"/>
<circle cx="494.2" cy="72.0" r="1.1" fill="#000" opacity="0.04"/>
<circle cx="456.4" cy="52.1" r="1.1" fill="#000" opacity="0.03"/>
<circle cx="509.0" cy="129.9" r="1.1" fill="#ff0000" opacity="0.03"/>
<circle cx="539.6" cy="90.7" r="1.1" fill="#000" opacity="0.04"/>
<circle cx="462.5" cy="95.8" r="1.1" fill="#000" opacity="0.04"/>
<circle cx="481.5" cy="50.2" r="1.1" fill="#000" opacity="0.06"/>
<circle cx="441.5" cy="87.3" r="1.1" fill="#000" opacity="0.03"/>
<circle cx="513.4" cy="125.9" r="1.1" fill="#ff0000" opacity="0.06"/>
<circle cx="449.1" cy="82.3" r="1.1" fill="#ff0000" opacity="0.06"/>
<circle cx="468.4" cy="83.9" r="1.1" fill="#000" opacity="0.06"/>
<circle cx="538.5" cy="83.9" r="1.1" fill="#000" opacity="0.04"/>
<circle cx="513.2" cy="86.1" r="1.1" fill="#000" opacity="0.04"/>
<circle cx="479.6" cy="57.9" r="1.1" fill="#000" opacity="0.04"/>
<circle cx="539.8" cy="126.8" r="1.1" fill="#000" opacity="0.05"/>
<circle cx="489.5" cy="74.2" r="1.1" fill="#000" opacity="0.03"/>
<circle cx="466.1" cy="111.7" r="1.1" fill="#000" opacity="0.04"/>
<circle cx="519.0" cy="111.1" r="1.1" fill="#000" opacity="0.05"/>
<circle cx="506.4" cy="109.8" r="1.1" fill="#000" opacity="0.04"/>
<circle cx="510.6" cy="69.3" r="1.1" fill="#000" opacity="0.04"/>
<circle cx="517.3" cy="104.0" r="1.1" fill="#000" opacity="0.04"/>
<circle cx="494.6" cy="112.2" r="1.1" fill="#000" opacity="0.28"/>
<circle cx="462.5" cy="91.8" r="1.1" fill="#000" opacity="0.12"/>
<circle cx="456.0" cy="97.0" r="1.1" fill="#f00" opacity="0.1"/>
<circle cx="494" cy="90.5" r="1.1" fill="#000" opacity="0.08"/>
<circle cx="450" cy="101.5" r="1.1" fill="#f00" opacity="0.09"/>
<circle cx="487" cy="115.5" r="1.1" fill="#f00" opacity="0.09"/>
<circle cx="472" cy="107.5" r="1.1" fill="#000" opacity="0.08"/>
</g>
<text transform="translate(318.2 38.0) scale(1.08 1)" class="b" font-size="7.6">eGFP<tspan dy="-2.51" font-size="4.71">+</tspan><tspan dy="2.51" font-size="7.60">&#8203;</tspan></text>
<text transform="translate(447.6 37.9) scale(1.08 1)" class="b" font-size="7.6">eGFP<tspan dy="-2.51" font-size="4.71">−</tspan><tspan dy="2.51" font-size="7.60">&#8203;</tspan></text>
<text x="372.6" y="122.3" font-size="8.35" style="fill:#f01818">IDR &gt;= 0.05</text>
<text x="372.6" y="131.8" font-size="8.35" style="fill:#111">IDR &lt; 0.05</text>
<text x="497.4" y="122.3" font-size="8.35" style="fill:#f01818">IDR &gt;= 0.05</text>
<text x="497.4" y="131.8" font-size="8.35" style="fill:#111">IDR &lt; 0.05</text>
<text x="365.6" y="152.8" font-size="8.35" text-anchor="middle" style="fill:#111">Sample 1 log<tspan dy="1.84" font-size="5.01">10</tspan><tspan dy="-1.84" font-size="8.35"> </tspan>Score</text>
<text x="489.8" y="152.8" font-size="8.35" text-anchor="middle" style="fill:#111">Sample 1 log<tspan dy="1.84" font-size="5.01">10</tspan><tspan dy="-1.84" font-size="8.35"> </tspan>Score</text>
<text transform="translate(299.2 81.8) rotate(-90)" font-size="8.35" text-anchor="middle" style="fill:#111">Sample 2 log<tspan dy="1.84" font-size="5.01">10</tspan><tspan dy="-1.84" font-size="8.35"> </tspan>Score</text>
<text x="5.9" y="290.3" class="b" font-size="18.2">C</text>
<circle cx="115.2" cy="368.5" r="90" fill="none" stroke="#000" stroke-width="1.5"/>
<circle cx="222.4" cy="368.3" r="17.6" fill="none" stroke="#000" stroke-width="1.4"/>
<line x1="204.2" x2="204.2" y1="378" y2="433.4" stroke="#444" stroke-width="0.55"/>
<text x="116" y="344" class="b" font-size="8.3" text-anchor="middle">Target consensus peaks</text>
<text x="116" y="353.2" class="b" font-size="8.3" text-anchor="middle">(eGFP<tspan dy="-2.74" font-size="5.15">+</tspan><tspan dy="2.74" font-size="8.30">&#8203;</tspan> cells)</text>
<text x="115" y="370.3" class="b" font-size="10.2" text-anchor="middle">1379</text>
<text x="180.6" y="335.9" class="b" font-size="8.3">Control consensus peaks</text>
<text x="230.8" y="345.9" class="b" font-size="8.3" text-anchor="middle">(eGFP<tspan dy="-2.74" font-size="5.15">−</tspan><tspan dy="2.74" font-size="8.30">&#8203;</tspan> cells)</text>
<text x="222.4" y="370.2" class="b" font-size="10.2" text-anchor="middle">38</text>
<text x="201.9" y="448.5" class="b" font-size="10.2" text-anchor="middle">1</text>
<text x="304" y="188.8" class="b" font-size="18.6">D</text>
<path d="M419.3 339.7L536.90 339.70A117.6 117.6 0 0 0 481.00 239.59Z" fill="#a3cbe0" stroke="#1a1a1a" stroke-width="0.95" stroke-linejoin="round"/>
<path d="M419.3 339.7L481.00 239.59A117.6 117.6 0 0 0 470.67 233.91Z" fill="#1b6ca6" stroke="#1a1a1a" stroke-width="0.95" stroke-linejoin="round"/>
<path d="M419.3 339.7L470.67 233.91A117.6 117.6 0 0 0 461.34 229.87Z" fill="#a9d98b" stroke="#1a1a1a" stroke-width="0.95" stroke-linejoin="round"/>
<path d="M419.3 339.7L461.34 229.87A117.6 117.6 0 0 0 446.56 225.30Z" fill="#17893a" stroke="#1a1a1a" stroke-width="0.95" stroke-linejoin="round"/>
<path d="M419.3 339.7L446.56 225.30A117.6 117.6 0 0 0 438.18 223.63Z" fill="#f79ea0" stroke="#1a1a1a" stroke-width="0.95" stroke-linejoin="round"/>
<path d="M419.3 339.7L438.18 223.63A117.6 117.6 0 0 0 426.46 222.32Z" fill="#d61f2c" stroke="#1a1a1a" stroke-width="0.95" stroke-linejoin="round"/>
<path d="M419.3 339.7L426.46 222.32A117.6 117.6 0 0 0 416.81 222.13Z" fill="#f6ba72" stroke="#1a1a1a" stroke-width="0.95" stroke-linejoin="round"/>
<path d="M419.3 339.7L416.81 222.13A117.6 117.6 0 0 0 389.86 225.85Z" fill="#c5afd3" stroke="#1a1a1a" stroke-width="0.95" stroke-linejoin="round"/>
<path d="M419.3 339.7L389.86 225.85A117.6 117.6 0 0 0 328.68 264.75Z" fill="#5f3a88" stroke="#1a1a1a" stroke-width="0.95" stroke-linejoin="round"/>
<path d="M419.3 339.7L328.68 264.75A117.6 117.6 0 0 0 338.49 425.14Z" fill="#efef9f" stroke="#1a1a1a" stroke-width="0.95" stroke-linejoin="round"/>
<path d="M419.3 339.7L338.49 425.14A117.6 117.6 0 0 0 339.30 425.89Z" fill="#b15928" stroke="#1a1a1a" stroke-width="0.95" stroke-linejoin="round"/>
<path d="M419.3 339.7L339.30 425.89A117.6 117.6 0 0 0 536.90 339.70Z" fill="#ffffff" stroke="#1a1a1a" stroke-width="0.95" stroke-linejoin="round"/>
<text x="487.7" y="299.1" class="b" font-size="8.2" text-anchor="middle" style="fill:#000">16 %</text>
<text x="487.7" y="308.6" class="b" font-size="8.2" text-anchor="middle" style="fill:#000">Promoter (&lt;= 1 kb)</text>
<text x="375" y="271" class="b" font-size="8.2" text-anchor="middle" style="fill:#fff">10 %</text>
<text x="375" y="280.2" class="b" font-size="8.2" text-anchor="middle" style="fill:#fff">First Intron</text>
<text x="348.8" y="341.8" class="b" font-size="8.2" text-anchor="middle" style="fill:#000">24 %</text>
<text x="348.8" y="351.6" class="b" font-size="8.2" text-anchor="middle" style="fill:#000">Other Intron</text>
<text x="440.3" y="398.4" class="b" font-size="8.2" text-anchor="middle" style="fill:#000">37 %</text>
<text x="440.3" y="408.4" class="b" font-size="8.2" text-anchor="middle" style="fill:#000">Distal Intergenic</text>
<text x="458.2" y="249" class="b" font-size="8.2" text-anchor="middle" style="fill:#fff">6.24 %</text>
<text x="458.2" y="258.4" class="b" font-size="8.2" text-anchor="middle" style="fill:#fff">Promoter (1-5 kb)</text>
<path d="M439.4 225.4L439.5 230.6M439.3 230.1L479.2 243.4M479.2 241.0L479.4 244.6M458.0 237.0L457.4 239.5" fill="none" stroke="#fff" stroke-width="1.15"/>
<text transform="translate(403.3 220.8) rotate(-43.2)" class="b" font-size="8.4">3.7 % Other Exon</text>
<text transform="translate(421.6 218.2) rotate(-43.2)" class="b" font-size="8.4">1.31 % 3′ UTR</text>
<text transform="translate(434.0 218.0) rotate(-43.2)" class="b" font-size="8.4">1.6 % 5′ UTR</text>
<text transform="translate(445.4 221.2) rotate(-43.2)" class="b" font-size="8.4">1.16 % 4-5 kb</text>
<text transform="translate(458.3 223.4) rotate(-43.2)" class="b" font-size="8.4">2.1 % 3-4 kb</text>
<text transform="translate(468.5 228.8) rotate(-43.2)" class="b" font-size="8.4">1.38 % 2-3 kb</text>
<text transform="translate(480.5 233.4) rotate(-43.2)" class="b" font-size="8.4">1.6 % 1-2 kb</text>
<text x="5.8" y="496.6" class="b" font-size="18.6">E</text>
<text x="73.60" y="509.31" font-size="5.4" style="fill:#111">CCNJL</text>
<text x="73.60" y="514.73" font-size="5.4" style="fill:#111">FABP6</text>
<text x="73.60" y="520.14" font-size="5.4" style="fill:#111">LINC00957</text>
<text x="73.60" y="525.56" font-size="5.4" style="fill:#111">MYLPF</text>
<text x="73.60" y="530.97" font-size="5.4" style="fill:#111">PWWP2A</text>
<text x="73.60" y="536.39" font-size="5.4" style="fill:#111">DIRC3</text>
<text x="73.60" y="541.80" font-size="5.4" style="fill:#111">ACOT11</text>
<text x="73.60" y="547.22" font-size="5.4" style="fill:#111">ARTN</text>
<text x="73.60" y="552.63" font-size="5.4" style="fill:#111">BSND</text>
<text x="73.60" y="558.05" font-size="5.4" style="fill:#111">CPT2</text>
<text x="73.60" y="563.46" font-size="5.4" style="fill:#111">CYB5RL</text>
<text x="73.60" y="568.88" font-size="5.4" style="fill:#111">DNAJB4</text>
<text x="73.60" y="574.29" font-size="5.4" style="fill:#111">EFNA4</text>
<text x="73.60" y="579.71" font-size="5.4" style="fill:#111">FUBP1</text>
<text x="73.60" y="585.12" font-size="5.4" style="fill:#111">GPR157</text>
<text x="73.60" y="590.54" font-size="5.4" style="fill:#111">LEXM</text>
<text x="73.60" y="595.95" font-size="5.4" style="fill:#111">LINC00626</text>
<text x="73.60" y="601.37" font-size="5.4" style="fill:#111">LRIG2</text>
<text x="73.60" y="606.78" font-size="5.4" style="fill:#111">LRRC42</text>
<text x="73.60" y="612.20" font-size="5.4" style="fill:#111">MIR4781</text>
<text x="73.60" y="617.61" font-size="5.4" style="fill:#111">MIR555</text>
<text x="73.60" y="623.03" font-size="5.4" style="fill:#111">MRPL37</text>
<text x="73.60" y="628.44" font-size="5.4" style="fill:#111">NKAIN1</text>
<text x="73.60" y="633.86" font-size="5.4" style="fill:#111">PLEKHA6</text>
<text x="73.60" y="639.27" font-size="5.4" style="fill:#111">SSBP3</text>
<text x="73.60" y="644.69" font-size="5.4" style="fill:#111">TCEANC2</text>
<text x="73.60" y="650.10" font-size="5.4" style="fill:#111">TMEM59</text>
<text x="73.60" y="655.52" font-size="5.4" style="fill:#111">TRNP1</text>
<text x="73.60" y="660.93" font-size="5.4" style="fill:#111">TTC22</text>
<text x="73.60" y="666.35" font-size="5.4" style="fill:#111">SCCPDH</text>
<text x="73.60" y="671.76" font-size="5.4" style="fill:#111">CHRNB4</text>
<text x="73.60" y="677.18" font-size="5.4" style="fill:#111">PLEKHA6</text>
<text x="73.60" y="682.59" font-size="5.4" style="fill:#111">FOXN2</text>
<text x="73.60" y="688.01" font-size="5.4" style="fill:#111">MRPS23</text>
<text x="73.60" y="693.42" font-size="5.4" style="fill:#111">FLJ22447</text>
<text x="73.60" y="698.84" font-size="5.4" style="fill:#111">TUBB3</text>
<text x="73.60" y="704.25" font-size="5.4" style="fill:#111">FAM180A</text>
<text x="73.60" y="709.67" font-size="5.4" style="fill:#111">ARL4C</text>
<text x="73.60" y="715.08" font-size="5.4" style="fill:#111">ATOH7</text>
<text x="73.60" y="720.50" font-size="5.4" style="fill:#111">SPSB4</text>
<text x="73.60" y="725.91" font-size="5.4" style="fill:#111">GPR61</text>
<text x="73.60" y="731.33" font-size="5.4" style="fill:#111">STOML3</text>
<text x="73.60" y="736.74" font-size="5.4" style="fill:#111">MYRF</text>
<text x="73.60" y="742.16" font-size="5.4" style="fill:#111">NR4A2</text>
<text x="73.60" y="747.57" font-size="5.4" style="fill:#111">RGS16</text>
<text x="73.60" y="752.99" font-size="5.4" style="fill:#111">NECTIN1</text>
<text x="73.60" y="758.40" font-size="5.4" style="fill:#111">E2F1</text>
<text x="73.60" y="763.82" font-size="5.4" style="fill:#111">BICD2</text>
<text x="73.60" y="769.23" font-size="5.4" style="fill:#111">DBX1</text>
<text x="73.60" y="774.65" font-size="5.4" style="fill:#111">NFAM1</text>
<text x="73.60" y="780.06" font-size="5.4" style="fill:#111">SHE</text>
<text x="73.60" y="785.48" font-size="5.4" style="fill:#111">ASS1</text>
<text x="73.60" y="790.89" font-size="5.4" style="fill:#111">HMCN2</text>
<rect x="25.70" y="504.40" width="11.40" height="32.53" fill="#ffe600"/>
<rect x="25.70" y="536.89" width="11.40" height="5.46" fill="#c8e010"/>
<rect x="25.70" y="542.30" width="11.40" height="5.46" fill="#c7e010"/>
<rect x="25.70" y="547.72" width="11.40" height="5.46" fill="#c6e010"/>
<rect x="25.70" y="553.13" width="11.40" height="10.87" fill="#c5e011"/>
<rect x="25.70" y="563.96" width="11.40" height="5.46" fill="#c4df11"/>
<rect x="25.70" y="569.38" width="11.40" height="5.46" fill="#c3df11"/>
<rect x="25.70" y="574.79" width="11.40" height="5.46" fill="#c2df12"/>
<rect x="25.70" y="580.21" width="11.40" height="5.46" fill="#c1df12"/>
<rect x="25.70" y="585.62" width="11.40" height="5.46" fill="#c0df12"/>
<rect x="25.70" y="591.04" width="11.40" height="5.46" fill="#bfdf12"/>
<rect x="25.70" y="596.45" width="11.40" height="5.46" fill="#bedf12"/>
<rect x="25.70" y="601.87" width="11.40" height="5.46" fill="#bedf13"/>
<rect x="25.70" y="607.28" width="11.40" height="5.46" fill="#bddf13"/>
<rect x="25.70" y="612.70" width="11.40" height="5.46" fill="#bcde13"/>
<rect x="25.70" y="618.12" width="11.40" height="5.46" fill="#bbde13"/>
<rect x="25.70" y="623.53" width="11.40" height="5.46" fill="#bade13"/>
<rect x="25.70" y="628.94" width="11.40" height="5.46" fill="#b9de14"/>
<rect x="25.70" y="634.36" width="11.40" height="5.46" fill="#b8de14"/>
<rect x="25.70" y="639.77" width="11.40" height="10.87" fill="#b7de14"/>
<rect x="25.70" y="650.61" width="11.40" height="5.46" fill="#b6de15"/>
<rect x="25.70" y="656.02" width="11.40" height="5.46" fill="#b5de15"/>
<rect x="25.70" y="661.43" width="11.40" height="5.46" fill="#90d82a"/>
<rect x="25.70" y="666.85" width="11.40" height="5.46" fill="#46c846"/>
<rect x="25.70" y="672.26" width="11.40" height="5.46" fill="#00c864"/>
<rect x="25.70" y="677.68" width="11.40" height="5.46" fill="#00c569"/>
<rect x="25.70" y="683.10" width="11.40" height="5.46" fill="#00c36e"/>
<rect x="25.70" y="688.51" width="11.40" height="5.46" fill="#00c072"/>
<rect x="25.70" y="693.92" width="11.40" height="5.46" fill="#00bd77"/>
<rect x="25.70" y="699.34" width="11.40" height="5.46" fill="#00bb7c"/>
<rect x="25.70" y="704.75" width="11.40" height="5.46" fill="#00b881"/>
<rect x="25.70" y="710.17" width="11.40" height="5.46" fill="#00b585"/>
<rect x="25.70" y="715.59" width="11.40" height="5.46" fill="#02b087"/>
<rect x="25.70" y="721.00" width="11.40" height="5.46" fill="#03ac8a"/>
<rect x="25.70" y="726.41" width="11.40" height="5.46" fill="#05a78d"/>
<rect x="25.70" y="731.83" width="11.40" height="5.46" fill="#06a38f"/>
<rect x="25.70" y="737.25" width="11.40" height="5.46" fill="#089e92"/>
<rect x="25.70" y="742.66" width="11.40" height="5.46" fill="#099a95"/>
<rect x="25.70" y="748.08" width="11.40" height="5.46" fill="#0c9697"/>
<rect x="25.70" y="753.49" width="11.40" height="5.46" fill="#0f9498"/>
<rect x="25.70" y="758.90" width="11.40" height="5.46" fill="#129199"/>
<rect x="25.70" y="764.32" width="11.40" height="5.46" fill="#158e9a"/>
<rect x="25.70" y="769.73" width="11.40" height="5.46" fill="#188b9b"/>
<rect x="25.70" y="775.15" width="11.40" height="5.46" fill="#1b889c"/>
<rect x="25.70" y="780.57" width="11.40" height="5.46" fill="#1c859d"/>
<rect x="25.70" y="785.98" width="11.40" height="5.46" fill="#1e819d"/>
<rect x="37.90" y="504.40" width="11.25" height="10.87" fill="#000"/>
<rect x="37.90" y="515.23" width="11.25" height="10.87" fill="#e3e3e3"/>
<rect x="37.90" y="526.06" width="11.25" height="140.83" fill="#000"/>
<rect x="37.90" y="666.85" width="11.25" height="5.46" fill="#e3e3e3"/>
<rect x="37.90" y="672.26" width="11.25" height="21.70" fill="#000"/>
<rect x="37.90" y="693.92" width="11.25" height="5.46" fill="#e3e3e3"/>
<rect x="37.90" y="699.34" width="11.25" height="54.19" fill="#000"/>
<rect x="37.90" y="753.49" width="11.25" height="5.46" fill="#e3e3e3"/>
<rect x="37.90" y="758.90" width="11.25" height="16.29" fill="#000"/>
<rect x="37.90" y="775.15" width="11.25" height="5.46" fill="#e3e3e3"/>
<rect x="37.90" y="780.57" width="11.25" height="5.46" fill="#000"/>
<rect x="37.90" y="785.98" width="11.25" height="5.46" fill="#e3e3e3"/>
<rect x="49.10" y="504.40" width="11.60" height="10.87" fill="#e3e3e3"/>
<rect x="49.10" y="515.23" width="11.60" height="10.87" fill="#000"/>
<rect x="49.10" y="526.06" width="11.60" height="140.83" fill="#e3e3e3"/>
<rect x="49.10" y="666.85" width="11.60" height="5.46" fill="#000"/>
<rect x="49.10" y="672.26" width="11.60" height="21.70" fill="#e3e3e3"/>
<rect x="49.10" y="693.92" width="11.60" height="5.46" fill="#000"/>
<rect x="49.10" y="699.34" width="11.60" height="54.19" fill="#e3e3e3"/>
<rect x="49.10" y="753.49" width="11.60" height="5.46" fill="#000"/>
<rect x="49.10" y="758.90" width="11.60" height="16.29" fill="#e3e3e3"/>
<rect x="49.10" y="775.15" width="11.60" height="5.46" fill="#000"/>
<rect x="49.10" y="780.57" width="11.60" height="5.46" fill="#e3e3e3"/>
<rect x="49.10" y="785.98" width="11.60" height="5.46" fill="#000"/>
<rect x="61.20" y="504.40" width="10.80" height="21.70" fill="#000004"/>
<rect x="61.20" y="526.06" width="10.80" height="16.29" fill="#6a0f84"/>
<rect x="61.20" y="542.30" width="10.80" height="5.46" fill="#000004"/>
<rect x="61.20" y="547.72" width="10.80" height="5.46" fill="#6a0f84"/>
<rect x="61.20" y="553.13" width="10.80" height="5.46" fill="#000004"/>
<rect x="61.20" y="558.55" width="10.80" height="5.46" fill="#6a0f84"/>
<rect x="61.20" y="563.96" width="10.80" height="54.19" fill="#000004"/>
<rect x="61.20" y="618.12" width="10.80" height="5.46" fill="#6a0f84"/>
<rect x="61.20" y="623.53" width="10.80" height="10.87" fill="#e2405c"/>
<rect x="61.20" y="634.36" width="10.80" height="5.46" fill="#6a0f84"/>
<rect x="61.20" y="639.77" width="10.80" height="21.70" fill="#000004"/>
<rect x="61.20" y="661.43" width="10.80" height="5.46" fill="#6a0f84"/>
<rect x="61.20" y="666.85" width="10.80" height="5.46" fill="#fc9c08"/>
<rect x="61.20" y="672.26" width="10.80" height="5.46" fill="#e2405c"/>
<rect x="61.20" y="677.68" width="10.80" height="5.46" fill="#000004"/>
<rect x="61.20" y="683.10" width="10.80" height="5.46" fill="#6a0f84"/>
<rect x="61.20" y="688.51" width="10.80" height="27.11" fill="#000004"/>
<rect x="61.20" y="715.59" width="10.80" height="5.46" fill="#6a0f84"/>
<rect x="61.20" y="721.00" width="10.80" height="10.87" fill="#000004"/>
<rect x="61.20" y="731.83" width="10.80" height="21.70" fill="#6a0f84"/>
<rect x="61.20" y="753.49" width="10.80" height="16.29" fill="#000004"/>
<rect x="61.20" y="769.73" width="10.80" height="5.46" fill="#e2405c"/>
<rect x="61.20" y="775.15" width="10.80" height="16.29" fill="#000004"/>
<path d="M25.7 509.81H72.00 M25.7 515.23H72.00 M25.7 520.64H72.00 M25.7 526.06H72.00 M25.7 531.48H72.00 M25.7 536.89H72.00 M25.7 542.30H72.00 M25.7 547.72H72.00 M25.7 553.13H72.00 M25.7 558.55H72.00 M25.7 563.96H72.00 M25.7 569.38H72.00 M25.7 574.79H72.00 M25.7 580.21H72.00 M25.7 585.62H72.00 M25.7 591.04H72.00 M25.7 596.45H72.00 M25.7 601.87H72.00 M25.7 607.28H72.00 M25.7 612.70H72.00 M25.7 618.12H72.00 M25.7 623.53H72.00 M25.7 628.94H72.00 M25.7 634.36H72.00 M25.7 639.77H72.00 M25.7 645.19H72.00 M25.7 650.61H72.00 M25.7 656.02H72.00 M25.7 661.43H72.00 M25.7 666.85H72.00 M25.7 672.26H72.00 M25.7 677.68H72.00 M25.7 683.10H72.00 M25.7 688.51H72.00 M25.7 693.92H72.00 M25.7 699.34H72.00 M25.7 704.75H72.00 M25.7 710.17H72.00 M25.7 715.59H72.00 M25.7 721.00H72.00 M25.7 726.41H72.00 M25.7 731.83H72.00 M25.7 737.25H72.00 M25.7 742.66H72.00 M25.7 748.08H72.00 M25.7 753.49H72.00 M25.7 758.90H72.00 M25.7 764.32H72.00 M25.7 769.73H72.00 M25.7 775.15H72.00 M25.7 780.57H72.00 M25.7 785.98H72.00" stroke="#808080" stroke-opacity="0.45" stroke-width="0.4" fill="none"/>
<rect x="37.10" y="504.2" width="0.80" height="287.39" fill="#fff"/><rect x="60.70" y="504.2" width="0.50" height="287.39" fill="#fff"/>
<text transform="translate(33.10 501.30) rotate(-44)" class="b" font-size="8.05" stroke="#000" stroke-width="0.22">-log<tspan dy="1.4" font-size="4.9">10</tspan><tspan dy="-1.4" font-size="8.05"> IDR</tspan></text>
<text transform="translate(45.30 501.30) rotate(-44)" class="b" font-size="8.05" stroke="#000" stroke-width="0.22">Enhancer</text>
<text transform="translate(56.50 501.30) rotate(-44)" class="b" font-size="8.05" stroke="#000" stroke-width="0.22">Promoter</text>
<text transform="translate(68.60 501.30) rotate(-44)" class="b" font-size="8.05" stroke="#000" stroke-width="0.22">Total peaks</text>
<text x="159.80" y="509.31" font-size="5.4" style="fill:#111">CPLX4</text>
<text x="159.80" y="514.73" font-size="5.4" style="fill:#111">AFAP1</text>
<text x="159.80" y="520.14" font-size="5.4" style="fill:#111">CHRNB4</text>
<text x="159.80" y="525.56" font-size="5.4" style="fill:#111">C14orf132</text>
<text x="159.80" y="530.97" font-size="5.4" style="fill:#111">CLNK</text>
<text x="159.80" y="536.39" font-size="5.4" style="fill:#111">C12orf49</text>
<text x="159.80" y="541.80" font-size="5.4" style="fill:#111">CCDC90B</text>
<text x="159.80" y="547.22" font-size="5.4" style="fill:#111">DLG2</text>
<text x="159.80" y="552.63" font-size="5.4" style="fill:#111">CORO1C</text>
<text x="159.80" y="558.05" font-size="5.4" style="fill:#111">ISCU</text>
<text x="159.80" y="563.46" font-size="5.4" style="fill:#111">SART3</text>
<text x="159.80" y="568.88" font-size="5.4" style="fill:#111">SELPLG</text>
<text x="159.80" y="574.29" font-size="5.4" style="fill:#111">SSH1</text>
<text x="159.80" y="579.71" font-size="5.4" style="fill:#111">TMEM141</text>
<text x="159.80" y="585.12" font-size="5.4" style="fill:#111">MCHR2</text>
<text x="159.80" y="590.54" font-size="5.4" style="fill:#111">NFATC3</text>
<text x="159.80" y="595.95" font-size="5.4" style="fill:#111">TLE1</text>
<text x="159.80" y="601.37" font-size="5.4" style="fill:#111">POU4F2</text>
<circle cx="184.30" cy="599.16" r="1.35" fill="#f01010"/>
<text x="159.80" y="606.78" font-size="5.4" style="fill:#111">TTC29</text>
<text x="159.80" y="612.20" font-size="5.4" style="fill:#111">MST1R</text>
<text x="159.80" y="617.61" font-size="5.4" style="fill:#111">ICOS</text>
<text x="159.80" y="623.03" font-size="5.4" style="fill:#111">PPP6R3</text>
<text x="159.80" y="628.44" font-size="5.4" style="fill:#111">CDC45</text>
<text x="159.80" y="633.86" font-size="5.4" style="fill:#111">CLDN5</text>
<text x="159.80" y="639.27" font-size="5.4" style="fill:#111">CLEC4G</text>
<text x="159.80" y="644.69" font-size="5.4" style="fill:#111">PTPRD</text>
<text x="159.80" y="650.10" font-size="5.4" style="fill:#111">LRRC74A</text>
<text x="159.80" y="655.52" font-size="5.4" style="fill:#111">HS6ST1</text>
<circle cx="184.30" cy="653.31" r="1.35" fill="#f01010"/>
<text x="159.80" y="660.93" font-size="5.4" style="fill:#111">CCDC88B</text>
<text x="159.80" y="666.35" font-size="5.4" style="fill:#111">EPHA5</text>
<text x="159.80" y="671.76" font-size="5.4" style="fill:#111">TLE4</text>
<text x="159.80" y="677.18" font-size="5.4" style="fill:#111">ARNT</text>
<text x="159.80" y="682.59" font-size="5.4" style="fill:#111">PHC2</text>
<text x="159.80" y="688.01" font-size="5.4" style="fill:#111">CEP170B</text>
<text x="159.80" y="693.42" font-size="5.4" style="fill:#111">P2RX6</text>
<text x="159.80" y="698.84" font-size="5.4" style="fill:#111">NSG2</text>
<text x="159.80" y="704.25" font-size="5.4" style="fill:#111">MCHR2</text>
<text x="159.80" y="709.67" font-size="5.4" style="fill:#111">CCDC167</text>
<text x="159.80" y="715.08" font-size="5.4" style="fill:#111">MDGA1</text>
<text x="159.80" y="720.50" font-size="5.4" style="fill:#111">MIR4319</text>
<text x="159.80" y="725.91" font-size="5.4" style="fill:#111">MIR4462</text>
<text x="159.80" y="731.33" font-size="5.4" style="fill:#111">KDM4B</text>
<text x="159.80" y="736.74" font-size="5.4" style="fill:#111">NUMBL</text>
<text x="159.80" y="742.16" font-size="5.4" style="fill:#111">EFNA5</text>
<text x="159.80" y="747.57" font-size="5.4" style="fill:#111">TAGLN3</text>
<text x="159.80" y="752.99" font-size="5.4" style="fill:#111">SLC2A8</text>
<text x="159.80" y="758.40" font-size="5.4" style="fill:#111">ISL1</text>
<circle cx="177.20" cy="756.20" r="1.35" fill="#f01010"/>
<text x="159.80" y="763.82" font-size="5.4" style="fill:#111">URB2</text>
<text x="159.80" y="769.23" font-size="5.4" style="fill:#111">OGG1</text>
<text x="159.80" y="774.65" font-size="5.4" style="fill:#111">AGTR1</text>
<text x="159.80" y="780.06" font-size="5.4" style="fill:#111">EYA2</text>
<circle cx="177.20" cy="777.86" r="1.35" fill="#f01010"/>
<text x="159.80" y="785.48" font-size="5.4" style="fill:#111">MGST2</text>
<text x="159.80" y="790.89" font-size="5.4" style="fill:#111">EFNA5</text>
<rect x="111.90" y="504.40" width="11.40" height="5.46" fill="#1a8a9c"/>
<rect x="111.90" y="509.81" width="11.40" height="5.46" fill="#1b889c"/>
<rect x="111.90" y="515.23" width="11.40" height="5.46" fill="#1c869c"/>
<rect x="111.90" y="520.64" width="11.40" height="5.46" fill="#1c859d"/>
<rect x="111.90" y="526.06" width="11.40" height="5.46" fill="#1d839d"/>
<rect x="111.90" y="531.48" width="11.40" height="5.46" fill="#1e819d"/>
<rect x="111.90" y="536.89" width="11.40" height="5.46" fill="#1f7f9d"/>
<rect x="111.90" y="542.30" width="11.40" height="5.46" fill="#207d9d"/>
<rect x="111.90" y="547.72" width="11.40" height="5.46" fill="#207c9e"/>
<rect x="111.90" y="553.13" width="11.40" height="5.46" fill="#217a9e"/>
<rect x="111.90" y="558.55" width="11.40" height="5.46" fill="#22789e"/>
<rect x="111.90" y="563.96" width="11.40" height="5.46" fill="#23779e"/>
<rect x="111.90" y="569.38" width="11.40" height="5.46" fill="#23769e"/>
<rect x="111.90" y="574.79" width="11.40" height="5.46" fill="#24759e"/>
<rect x="111.90" y="580.21" width="11.40" height="5.46" fill="#24749f"/>
<rect x="111.90" y="585.62" width="11.40" height="5.46" fill="#25739f"/>
<rect x="111.90" y="591.04" width="11.40" height="5.46" fill="#26729f"/>
<rect x="111.90" y="596.45" width="11.40" height="5.46" fill="#26719f"/>
<rect x="111.90" y="601.87" width="11.40" height="5.46" fill="#27709f"/>
<rect x="111.90" y="607.28" width="11.40" height="5.46" fill="#276f9f"/>
<rect x="111.90" y="612.70" width="11.40" height="5.46" fill="#286e9f"/>
<rect x="111.90" y="618.12" width="11.40" height="5.46" fill="#296da0"/>
<rect x="111.90" y="623.53" width="11.40" height="5.46" fill="#296ca0"/>
<rect x="111.90" y="628.94" width="11.40" height="5.46" fill="#2a6ba0"/>
<rect x="111.90" y="634.36" width="11.40" height="5.46" fill="#2b69a0"/>
<rect x="111.90" y="639.77" width="11.40" height="5.46" fill="#2c67a0"/>
<rect x="111.90" y="645.19" width="11.40" height="5.46" fill="#2e65a0"/>
<rect x="111.90" y="650.61" width="11.40" height="5.46" fill="#2f64a0"/>
<rect x="111.90" y="656.02" width="11.40" height="5.46" fill="#3162a0"/>
<rect x="111.90" y="661.43" width="11.40" height="5.46" fill="#3260a0"/>
<rect x="111.90" y="666.85" width="11.40" height="5.46" fill="#345ea0"/>
<rect x="111.90" y="672.26" width="11.40" height="5.46" fill="#355da0"/>
<rect x="111.90" y="677.68" width="11.40" height="5.46" fill="#375ba0"/>
<rect x="111.90" y="683.10" width="11.40" height="5.46" fill="#3859a0"/>
<rect x="111.90" y="688.51" width="11.40" height="5.46" fill="#3a57a0"/>
<rect x="111.90" y="693.92" width="11.40" height="5.46" fill="#3b55a0"/>
<rect x="111.90" y="699.34" width="11.40" height="5.46" fill="#3d54a0"/>
<rect x="111.90" y="704.75" width="11.40" height="5.46" fill="#3e52a0"/>
<rect x="111.90" y="710.17" width="11.40" height="5.46" fill="#4050a0"/>
<rect x="111.90" y="715.59" width="11.40" height="5.46" fill="#414f9f"/>
<rect x="111.90" y="721.00" width="11.40" height="5.46" fill="#434d9f"/>
<rect x="111.90" y="726.41" width="11.40" height="5.46" fill="#454b9f"/>
<rect x="111.90" y="731.83" width="11.40" height="5.46" fill="#464a9e"/>
<rect x="111.90" y="737.25" width="11.40" height="5.46" fill="#48489e"/>
<rect x="111.90" y="742.66" width="11.40" height="5.46" fill="#4a469e"/>
<rect x="111.90" y="748.08" width="11.40" height="5.46" fill="#4b459e"/>
<rect x="111.90" y="753.49" width="11.40" height="5.46" fill="#4d439d"/>
<rect x="111.90" y="758.90" width="11.40" height="5.46" fill="#4f419d"/>
<rect x="111.90" y="764.32" width="11.40" height="5.46" fill="#50409d"/>
<rect x="111.90" y="769.73" width="11.40" height="5.46" fill="#523e9c"/>
<rect x="111.90" y="775.15" width="11.40" height="5.46" fill="#533d9c"/>
<rect x="111.90" y="780.57" width="11.40" height="5.46" fill="#553b9b"/>
<rect x="111.90" y="785.98" width="11.40" height="5.46" fill="#57399a"/>
<rect x="124.10" y="504.40" width="11.25" height="37.95" fill="#000"/>
<rect x="124.10" y="542.30" width="11.25" height="10.87" fill="#e3e3e3"/>
<rect x="124.10" y="553.13" width="11.25" height="21.70" fill="#000"/>
<rect x="124.10" y="574.79" width="11.25" height="5.46" fill="#e3e3e3"/>
<rect x="124.10" y="580.21" width="11.25" height="43.36" fill="#000"/>
<rect x="124.10" y="623.53" width="11.25" height="5.46" fill="#e3e3e3"/>
<rect x="124.10" y="628.94" width="11.25" height="27.11" fill="#000"/>
<rect x="124.10" y="656.02" width="11.25" height="5.46" fill="#e3e3e3"/>
<rect x="124.10" y="661.43" width="11.25" height="10.87" fill="#000"/>
<rect x="124.10" y="672.26" width="11.25" height="5.46" fill="#e3e3e3"/>
<rect x="124.10" y="677.68" width="11.25" height="10.87" fill="#000"/>
<rect x="124.10" y="688.51" width="11.25" height="5.46" fill="#e3e3e3"/>
<rect x="124.10" y="693.92" width="11.25" height="37.95" fill="#000"/>
<rect x="124.10" y="731.83" width="11.25" height="5.46" fill="#e3e3e3"/>
<rect x="124.10" y="737.25" width="11.25" height="5.46" fill="#000"/>
<rect x="124.10" y="742.66" width="11.25" height="10.87" fill="#e3e3e3"/>
<rect x="124.10" y="753.49" width="11.25" height="10.87" fill="#000"/>
<rect x="124.10" y="764.32" width="11.25" height="5.46" fill="#e3e3e3"/>
<rect x="124.10" y="769.73" width="11.25" height="5.46" fill="#000"/>
<rect x="124.10" y="775.15" width="11.25" height="5.46" fill="#e3e3e3"/>
<rect x="124.10" y="780.57" width="11.25" height="10.87" fill="#000"/>
<rect x="135.30" y="504.40" width="11.60" height="37.95" fill="#e3e3e3"/>
<rect x="135.30" y="542.30" width="11.60" height="10.87" fill="#000"/>
<rect x="135.30" y="553.13" width="11.60" height="21.70" fill="#e3e3e3"/>
<rect x="135.30" y="574.79" width="11.60" height="5.46" fill="#000"/>
<rect x="135.30" y="580.21" width="11.60" height="43.36" fill="#e3e3e3"/>
<rect x="135.30" y="623.53" width="11.60" height="5.46" fill="#000"/>
<rect x="135.30" y="628.94" width="11.60" height="27.11" fill="#e3e3e3"/>
<rect x="135.30" y="656.02" width="11.60" height="5.46" fill="#000"/>
<rect x="135.30" y="661.43" width="11.60" height="10.87" fill="#e3e3e3"/>
<rect x="135.30" y="672.26" width="11.60" height="5.46" fill="#000"/>
<rect x="135.30" y="677.68" width="11.60" height="10.87" fill="#e3e3e3"/>
<rect x="135.30" y="688.51" width="11.60" height="5.46" fill="#000"/>
<rect x="135.30" y="693.92" width="11.60" height="37.95" fill="#e3e3e3"/>
<rect x="135.30" y="731.83" width="11.60" height="5.46" fill="#000"/>
<rect x="135.30" y="737.25" width="11.60" height="5.46" fill="#e3e3e3"/>
<rect x="135.30" y="742.66" width="11.60" height="10.87" fill="#000"/>
<rect x="135.30" y="753.49" width="11.60" height="10.87" fill="#e3e3e3"/>
<rect x="135.30" y="764.32" width="11.60" height="5.46" fill="#000"/>
<rect x="135.30" y="769.73" width="11.60" height="5.46" fill="#e3e3e3"/>
<rect x="135.30" y="775.15" width="11.60" height="5.46" fill="#000"/>
<rect x="135.30" y="780.57" width="11.60" height="10.87" fill="#e3e3e3"/>
<rect x="147.40" y="504.40" width="10.80" height="10.87" fill="#e2405c"/>
<rect x="147.40" y="515.23" width="10.80" height="5.46" fill="#fc9c08"/>
<rect x="147.40" y="520.64" width="10.80" height="10.87" fill="#6a0f84"/>
<rect x="147.40" y="531.48" width="10.80" height="43.36" fill="#000004"/>
<rect x="147.40" y="574.79" width="10.80" height="10.87" fill="#6a0f84"/>
<rect x="147.40" y="585.62" width="10.80" height="10.87" fill="#000004"/>
<rect x="147.40" y="596.45" width="10.80" height="5.46" fill="#e2405c"/>
<rect x="147.40" y="601.87" width="10.80" height="10.87" fill="#6a0f84"/>
<rect x="147.40" y="612.70" width="10.80" height="32.53" fill="#000004"/>
<rect x="147.40" y="645.19" width="10.80" height="5.46" fill="#6a0f84"/>
<rect x="147.40" y="650.61" width="10.80" height="5.46" fill="#fcfc9c"/>
<rect x="147.40" y="656.02" width="10.80" height="10.87" fill="#000004"/>
<rect x="147.40" y="666.85" width="10.80" height="5.46" fill="#6a0f84"/>
<rect x="147.40" y="672.26" width="10.80" height="27.11" fill="#000004"/>
<rect x="147.40" y="699.34" width="10.80" height="5.46" fill="#6a0f84"/>
<rect x="147.40" y="704.75" width="10.80" height="32.53" fill="#000004"/>
<rect x="147.40" y="737.25" width="10.80" height="5.46" fill="#e2405c"/>
<rect x="147.40" y="742.66" width="10.80" height="10.87" fill="#000004"/>
<rect x="147.40" y="753.49" width="10.80" height="5.46" fill="#e2405c"/>
<rect x="147.40" y="758.90" width="10.80" height="5.46" fill="#6a0f84"/>
<rect x="147.40" y="764.32" width="10.80" height="21.70" fill="#000004"/>
<rect x="147.40" y="785.98" width="10.80" height="5.46" fill="#e2405c"/>
<path d="M111.9 509.81H158.20 M111.9 515.23H158.20 M111.9 520.64H158.20 M111.9 526.06H158.20 M111.9 531.48H158.20 M111.9 536.89H158.20 M111.9 542.30H158.20 M111.9 547.72H158.20 M111.9 553.13H158.20 M111.9 558.55H158.20 M111.9 563.96H158.20 M111.9 569.38H158.20 M111.9 574.79H158.20 M111.9 580.21H158.20 M111.9 585.62H158.20 M111.9 591.04H158.20 M111.9 596.45H158.20 M111.9 601.87H158.20 M111.9 607.28H158.20 M111.9 612.70H158.20 M111.9 618.12H158.20 M111.9 623.53H158.20 M111.9 628.94H158.20 M111.9 634.36H158.20 M111.9 639.77H158.20 M111.9 645.19H158.20 M111.9 650.61H158.20 M111.9 656.02H158.20 M111.9 661.43H158.20 M111.9 666.85H158.20 M111.9 672.26H158.20 M111.9 677.68H158.20 M111.9 683.10H158.20 M111.9 688.51H158.20 M111.9 693.92H158.20 M111.9 699.34H158.20 M111.9 704.75H158.20 M111.9 710.17H158.20 M111.9 715.59H158.20 M111.9 721.00H158.20 M111.9 726.41H158.20 M111.9 731.83H158.20 M111.9 737.25H158.20 M111.9 742.66H158.20 M111.9 748.08H158.20 M111.9 753.49H158.20 M111.9 758.90H158.20 M111.9 764.32H158.20 M111.9 769.73H158.20 M111.9 775.15H158.20 M111.9 780.57H158.20 M111.9 785.98H158.20" stroke="#808080" stroke-opacity="0.45" stroke-width="0.4" fill="none"/>
<rect x="123.30" y="504.2" width="0.80" height="287.39" fill="#fff"/><rect x="146.90" y="504.2" width="0.50" height="287.39" fill="#fff"/>
<text transform="translate(119.30 501.30) rotate(-44)" class="b" font-size="8.05" stroke="#000" stroke-width="0.22">-log<tspan dy="1.4" font-size="4.9">10</tspan><tspan dy="-1.4" font-size="8.05"> IDR</tspan></text>
<text transform="translate(131.50 501.30) rotate(-44)" class="b" font-size="8.05" stroke="#000" stroke-width="0.22">Enhancer</text>
<text transform="translate(142.70 501.30) rotate(-44)" class="b" font-size="8.05" stroke="#000" stroke-width="0.22">Promoter</text>
<text transform="translate(154.80 501.30) rotate(-44)" class="b" font-size="8.05" stroke="#000" stroke-width="0.22">Total peaks</text>
<text x="247.10" y="509.31" font-size="5.4" style="fill:#111">POU5F1B</text>
<text x="247.10" y="514.73" font-size="5.4" style="fill:#111">CNTN2</text>
<text x="247.10" y="520.14" font-size="5.4" style="fill:#111">TMX1</text>
<text x="247.10" y="525.56" font-size="5.4" style="fill:#111">CRYBB2P1</text>
<text x="247.10" y="530.97" font-size="5.4" style="fill:#111">BCL2L1</text>
<text x="247.10" y="536.39" font-size="5.4" style="fill:#111">ELAVL2</text>
<text x="247.10" y="541.80" font-size="5.4" style="fill:#111">MAT2B</text>
<text x="247.10" y="547.22" font-size="5.4" style="fill:#111">KIAA1217</text>
<text x="247.10" y="552.63" font-size="5.4" style="fill:#111">FLNC</text>
<text x="247.10" y="558.05" font-size="5.4" style="fill:#111">LINC01621</text>
<text x="247.10" y="563.46" font-size="5.4" style="fill:#111">XRCC6P5</text>
<text x="247.10" y="568.88" font-size="5.4" style="fill:#111">RELN</text>
<text x="247.10" y="574.29" font-size="5.4" style="fill:#111">ZNF608</text>
<text x="247.10" y="579.71" font-size="5.4" style="fill:#111">MIR3180-3</text>
<text x="247.10" y="585.12" font-size="5.4" style="fill:#111">NCOR2</text>
<text x="247.10" y="590.54" font-size="5.4" style="fill:#111">FBXL7</text>
<text x="247.10" y="595.95" font-size="5.4" style="fill:#111">FOXN3</text>
<text x="247.10" y="601.37" font-size="5.4" style="fill:#111">HDAC4</text>
<text x="247.10" y="606.78" font-size="5.4" style="fill:#111">HS3ST3B1</text>
<text x="247.10" y="612.20" font-size="5.4" style="fill:#111">WFIKKN1</text>
<text x="247.10" y="617.61" font-size="5.4" style="fill:#111">ACAP3</text>
<text x="247.10" y="623.03" font-size="5.4" style="fill:#111">SIX5</text>
<text x="247.10" y="628.44" font-size="5.4" style="fill:#111">ABHD2</text>
<text x="247.10" y="633.86" font-size="5.4" style="fill:#111">CELF4</text>
<text x="247.10" y="639.27" font-size="5.4" style="fill:#111">ISL1</text>
<text x="247.10" y="644.69" font-size="5.4" style="fill:#111">C4orf17</text>
<text x="247.10" y="650.10" font-size="5.4" style="fill:#111">ECI2</text>
<text x="247.10" y="655.52" font-size="5.4" style="fill:#111">GRPEL2</text>
<text x="247.10" y="660.93" font-size="5.4" style="fill:#111">SS18</text>
<text x="247.10" y="666.35" font-size="5.4" style="fill:#111">LIN52</text>
<text x="247.10" y="671.76" font-size="5.4" style="fill:#111">ZNF354C</text>
<text x="247.10" y="677.18" font-size="5.4" style="fill:#111">KCNS2</text>
<text x="247.10" y="682.59" font-size="5.4" style="fill:#111">PRLHR</text>
<text x="247.10" y="688.01" font-size="5.4" style="fill:#111">NKAIN1</text>
<text x="247.10" y="693.42" font-size="5.4" style="fill:#111">RUNX1</text>
<text x="247.10" y="698.84" font-size="5.4" style="fill:#111">LINC00242</text>
<text x="247.10" y="704.25" font-size="5.4" style="fill:#111">MBD5</text>
<text x="247.10" y="709.67" font-size="5.4" style="fill:#111">HDAC2</text>
<text x="247.10" y="715.08" font-size="5.4" style="fill:#111">HDAC2-AS2</text>
<text x="247.10" y="720.50" font-size="5.4" style="fill:#111">SLC38A4</text>
<text x="247.10" y="725.91" font-size="5.4" style="fill:#111">BCL7A</text>
<text x="247.10" y="731.33" font-size="5.4" style="fill:#111">SDK1</text>
<text x="247.10" y="736.74" font-size="5.4" style="fill:#111">CBLB</text>
<text x="247.10" y="742.16" font-size="5.4" style="fill:#111">MTUS2</text>
<text x="247.10" y="747.57" font-size="5.4" style="fill:#111">EPPK1</text>
<text x="247.10" y="752.99" font-size="5.4" style="fill:#111">ZBTB18</text>
<text x="247.10" y="758.40" font-size="5.4" style="fill:#111">EEF2KMT</text>
<text x="247.10" y="763.82" font-size="5.4" style="fill:#111">TEX26</text>
<text x="247.10" y="769.23" font-size="5.4" style="fill:#111">C3orf70</text>
<text x="247.10" y="774.65" font-size="5.4" style="fill:#111">CLCN2</text>
<text x="247.10" y="780.06" font-size="5.4" style="fill:#111">GADD45G</text>
<text x="247.10" y="785.48" font-size="5.4" style="fill:#111">MPHOSPH10</text>
<rect x="199.20" y="504.40" width="11.40" height="5.46" fill="#5e3297"/>
<rect x="199.20" y="509.81" width="11.40" height="5.46" fill="#5f3196"/>
<rect x="199.20" y="515.23" width="11.40" height="10.87" fill="#603096"/>
<rect x="199.20" y="526.06" width="11.40" height="5.46" fill="#602f96"/>
<rect x="199.20" y="531.48" width="11.40" height="5.46" fill="#612e95"/>
<rect x="199.20" y="536.89" width="11.40" height="5.46" fill="#612d95"/>
<rect x="199.20" y="542.30" width="11.40" height="5.46" fill="#612c95"/>
<rect x="199.20" y="547.72" width="11.40" height="10.87" fill="#622b94"/>
<rect x="199.20" y="558.55" width="11.40" height="5.46" fill="#632a93"/>
<rect x="199.20" y="563.96" width="11.40" height="5.46" fill="#632993"/>
<rect x="199.20" y="569.38" width="11.40" height="5.46" fill="#632893"/>
<rect x="199.20" y="574.79" width="11.40" height="5.46" fill="#642792"/>
<rect x="199.20" y="580.21" width="11.40" height="5.46" fill="#642692"/>
<rect x="199.20" y="585.62" width="11.40" height="5.46" fill="#642592"/>
<rect x="199.20" y="591.04" width="11.40" height="10.87" fill="#652491"/>
<rect x="199.20" y="601.87" width="11.40" height="5.46" fill="#652391"/>
<rect x="199.20" y="607.28" width="11.40" height="5.46" fill="#662290"/>
<rect x="199.20" y="612.70" width="11.40" height="5.46" fill="#662190"/>
<rect x="199.20" y="618.12" width="11.40" height="5.46" fill="#662090"/>
<rect x="199.20" y="623.53" width="11.40" height="5.46" fill="#671f8f"/>
<rect x="199.20" y="628.94" width="11.40" height="5.46" fill="#671e8f"/>
<rect x="199.20" y="634.36" width="11.40" height="5.46" fill="#671d8f"/>
<rect x="199.20" y="639.77" width="11.40" height="10.87" fill="#681c8e"/>
<rect x="199.20" y="650.61" width="11.40" height="5.46" fill="#681b8d"/>
<rect x="199.20" y="656.02" width="11.40" height="5.46" fill="#681a8c"/>
<rect x="199.20" y="661.43" width="11.40" height="5.46" fill="#681a8b"/>
<rect x="199.20" y="666.85" width="11.40" height="10.87" fill="#68198a"/>
<rect x="199.20" y="677.68" width="11.40" height="5.46" fill="#671889"/>
<rect x="199.20" y="683.10" width="11.40" height="5.46" fill="#671788"/>
<rect x="199.20" y="688.51" width="11.40" height="5.46" fill="#671787"/>
<rect x="199.20" y="693.92" width="11.40" height="10.87" fill="#671686"/>
<rect x="199.20" y="704.75" width="11.40" height="5.46" fill="#671585"/>
<rect x="199.20" y="710.17" width="11.40" height="5.46" fill="#671484"/>
<rect x="199.20" y="715.59" width="11.40" height="5.46" fill="#671483"/>
<rect x="199.20" y="721.00" width="11.40" height="5.46" fill="#671382"/>
<rect x="199.20" y="726.41" width="11.40" height="5.46" fill="#671282"/>
<rect x="199.20" y="731.83" width="11.40" height="5.46" fill="#671281"/>
<rect x="199.20" y="737.25" width="11.40" height="5.46" fill="#661180"/>
<rect x="199.20" y="742.66" width="11.40" height="5.46" fill="#66117f"/>
<rect x="199.20" y="748.08" width="11.40" height="5.46" fill="#66107f"/>
<rect x="199.20" y="753.49" width="11.40" height="5.46" fill="#660f7e"/>
<rect x="199.20" y="758.90" width="11.40" height="5.46" fill="#660f7d"/>
<rect x="199.20" y="764.32" width="11.40" height="5.46" fill="#660e7c"/>
<rect x="199.20" y="769.73" width="11.40" height="5.46" fill="#660d7b"/>
<rect x="199.20" y="775.15" width="11.40" height="5.46" fill="#650d7a"/>
<rect x="199.20" y="780.57" width="11.40" height="5.46" fill="#640c7a"/>
<rect x="211.40" y="504.40" width="11.25" height="43.36" fill="#000"/>
<rect x="211.40" y="547.72" width="11.25" height="10.87" fill="#e3e3e3"/>
<rect x="211.40" y="558.55" width="11.25" height="32.53" fill="#000"/>
<rect x="211.40" y="591.04" width="11.25" height="37.95" fill="#e3e3e3"/>
<rect x="211.40" y="628.94" width="11.25" height="70.44" fill="#000"/>
<rect x="211.40" y="699.34" width="11.25" height="5.46" fill="#e3e3e3"/>
<rect x="211.40" y="704.75" width="11.25" height="5.46" fill="#000"/>
<rect x="211.40" y="710.17" width="11.25" height="5.46" fill="#e3e3e3"/>
<rect x="211.40" y="715.59" width="11.25" height="5.46" fill="#000"/>
<rect x="211.40" y="721.00" width="11.25" height="5.46" fill="#e3e3e3"/>
<rect x="211.40" y="726.41" width="11.25" height="10.87" fill="#000"/>
<rect x="211.40" y="737.25" width="11.25" height="5.46" fill="#e3e3e3"/>
<rect x="211.40" y="742.66" width="11.25" height="5.46" fill="#000"/>
<rect x="211.40" y="748.08" width="11.25" height="5.46" fill="#e3e3e3"/>
<rect x="211.40" y="753.49" width="11.25" height="32.53" fill="#000"/>
<rect x="222.60" y="504.40" width="11.60" height="43.36" fill="#e3e3e3"/>
<rect x="222.60" y="547.72" width="11.60" height="10.87" fill="#000"/>
<rect x="222.60" y="558.55" width="11.60" height="32.53" fill="#e3e3e3"/>
<rect x="222.60" y="591.04" width="11.60" height="37.95" fill="#000"/>
<rect x="222.60" y="628.94" width="11.60" height="70.44" fill="#e3e3e3"/>
<rect x="222.60" y="699.34" width="11.60" height="5.46" fill="#000"/>
<rect x="222.60" y="704.75" width="11.60" height="5.46" fill="#e3e3e3"/>
<rect x="222.60" y="710.17" width="11.60" height="5.46" fill="#000"/>
<rect x="222.60" y="715.59" width="11.60" height="5.46" fill="#e3e3e3"/>
<rect x="222.60" y="721.00" width="11.60" height="5.46" fill="#000"/>
<rect x="222.60" y="726.41" width="11.60" height="10.87" fill="#e3e3e3"/>
<rect x="222.60" y="737.25" width="11.60" height="5.46" fill="#000"/>
<rect x="222.60" y="742.66" width="11.60" height="5.46" fill="#e3e3e3"/>
<rect x="222.60" y="748.08" width="11.60" height="5.46" fill="#000"/>
<rect x="222.60" y="753.49" width="11.60" height="32.53" fill="#e3e3e3"/>
<rect x="234.70" y="504.40" width="10.80" height="5.46" fill="#6a0f84"/>
<rect x="234.70" y="509.81" width="10.80" height="5.46" fill="#e2405c"/>
<rect x="234.70" y="515.23" width="10.80" height="97.51" fill="#000004"/>
<rect x="234.70" y="612.70" width="10.80" height="5.46" fill="#6a0f84"/>
<rect x="234.70" y="618.12" width="10.80" height="16.29" fill="#000004"/>
<rect x="234.70" y="634.36" width="10.80" height="5.46" fill="#e2405c"/>
<rect x="234.70" y="639.77" width="10.80" height="43.36" fill="#000004"/>
<rect x="234.70" y="683.10" width="10.80" height="5.46" fill="#e2405c"/>
<rect x="234.70" y="688.51" width="10.80" height="43.36" fill="#000004"/>
<rect x="234.70" y="731.83" width="10.80" height="5.46" fill="#e2405c"/>
<rect x="234.70" y="737.25" width="10.80" height="16.29" fill="#000004"/>
<rect x="234.70" y="753.49" width="10.80" height="5.46" fill="#6a0f84"/>
<rect x="234.70" y="758.90" width="10.80" height="16.29" fill="#000004"/>
<rect x="234.70" y="775.15" width="10.80" height="5.46" fill="#6a0f84"/>
<rect x="234.70" y="780.57" width="10.80" height="5.46" fill="#000004"/>
<path d="M199.2 509.81H245.50 M199.2 515.23H245.50 M199.2 520.64H245.50 M199.2 526.06H245.50 M199.2 531.48H245.50 M199.2 536.89H245.50 M199.2 542.30H245.50 M199.2 547.72H245.50 M199.2 553.13H245.50 M199.2 558.55H245.50 M199.2 563.96H245.50 M199.2 569.38H245.50 M199.2 574.79H245.50 M199.2 580.21H245.50 M199.2 585.62H245.50 M199.2 591.04H245.50 M199.2 596.45H245.50 M199.2 601.87H245.50 M199.2 607.28H245.50 M199.2 612.70H245.50 M199.2 618.12H245.50 M199.2 623.53H245.50 M199.2 628.94H245.50 M199.2 634.36H245.50 M199.2 639.77H245.50 M199.2 645.19H245.50 M199.2 650.61H245.50 M199.2 656.02H245.50 M199.2 661.43H245.50 M199.2 666.85H245.50 M199.2 672.26H245.50 M199.2 677.68H245.50 M199.2 683.10H245.50 M199.2 688.51H245.50 M199.2 693.92H245.50 M199.2 699.34H245.50 M199.2 704.75H245.50 M199.2 710.17H245.50 M199.2 715.59H245.50 M199.2 721.00H245.50 M199.2 726.41H245.50 M199.2 731.83H245.50 M199.2 737.25H245.50 M199.2 742.66H245.50 M199.2 748.08H245.50 M199.2 753.49H245.50 M199.2 758.90H245.50 M199.2 764.32H245.50 M199.2 769.73H245.50 M199.2 775.15H245.50 M199.2 780.57H245.50" stroke="#808080" stroke-opacity="0.45" stroke-width="0.4" fill="none"/>
<rect x="210.60" y="504.2" width="0.80" height="281.98" fill="#fff"/><rect x="234.20" y="504.2" width="0.50" height="281.98" fill="#fff"/>
<text transform="translate(206.60 501.30) rotate(-44)" class="b" font-size="8.05" stroke="#000" stroke-width="0.22">-log<tspan dy="1.4" font-size="4.9">10</tspan><tspan dy="-1.4" font-size="8.05"> IDR</tspan></text>
<text transform="translate(218.80 501.30) rotate(-44)" class="b" font-size="8.05" stroke="#000" stroke-width="0.22">Enhancer</text>
<text transform="translate(230.00 501.30) rotate(-44)" class="b" font-size="8.05" stroke="#000" stroke-width="0.22">Promoter</text>
<text transform="translate(242.10 501.30) rotate(-44)" class="b" font-size="8.05" stroke="#000" stroke-width="0.22">Total peaks</text>
<defs><linearGradient id="virv" x1="0" y1="1" x2="0" y2="0"><stop offset="0.000" stop-color="#5a0068"/><stop offset="0.040" stop-color="#660e7c"/><stop offset="0.080" stop-color="#681c8e"/><stop offset="0.120" stop-color="#603096"/><stop offset="0.160" stop-color="#543c9c"/><stop offset="0.240" stop-color="#3e52a0"/><stop offset="0.320" stop-color="#2a6aa0"/><stop offset="0.400" stop-color="#22789e"/><stop offset="0.460" stop-color="#1a8a9c"/><stop offset="0.520" stop-color="#0a9896"/><stop offset="0.600" stop-color="#00b684"/><stop offset="0.680" stop-color="#00c864"/><stop offset="0.760" stop-color="#46c846"/><stop offset="0.840" stop-color="#88d630"/><stop offset="0.880" stop-color="#a8dc18"/><stop offset="0.930" stop-color="#c8e010"/><stop offset="1.000" stop-color="#ffe600"/></linearGradient></defs>
<rect x="298.0" y="575.4" width="4.2" height="64.4" fill="url(#virv)"/>
<text x="304.2" y="579.6" font-size="8.5">5</text>
<text x="304.2" y="611.8" font-size="8.5">4</text>
<text x="304.2" y="644.0" font-size="8.5">3</text>
<text transform="translate(292.6 608.5) rotate(-90)" font-size="8.4" text-anchor="middle" style="fill:#111">-log<tspan dy="1.4" font-size="5">10</tspan><tspan dy="-1.4" font-size="8.4"> IDR</tspan></text>
<rect x="298.0" y="658.20" width="4.2" height="13.15" fill="#fcfc9c"/>
<rect x="298.0" y="671.30" width="4.2" height="13.15" fill="#fc9c08"/>
<rect x="298.0" y="684.40" width="4.2" height="13.15" fill="#e2405c"/>
<rect x="298.0" y="697.50" width="4.2" height="13.15" fill="#6a0f84"/>
<rect x="298.0" y="710.60" width="4.2" height="13.15" fill="#000004"/>
<text x="304.2" y="727.90" font-size="8.5">0</text>
<text x="304.2" y="714.80" font-size="8.5">1</text>
<text x="304.2" y="701.70" font-size="8.5">2</text>
<text x="304.2" y="688.60" font-size="8.5">3</text>
<text x="304.2" y="675.50" font-size="8.5">4</text>
<text x="304.2" y="662.40" font-size="8.5">5</text>
<text transform="translate(292.8 690.4) rotate(-90)" font-size="8.5" text-anchor="middle" style="fill:#111">Total peaks (#)</text>
<text x="353.0" y="496.9" class="b" font-size="18.6">F</text>
<rect x="449.6" y="502.0" width="94.70" height="271.60" fill="#fff"/>
<path d="M464.66 502.0V773.6 M486.77 502.0V773.6 M508.88 502.0V773.6 M530.99 502.0V773.6" stroke="#f0f0f0" stroke-width="0.35" fill="none"/>
<path d="M453.60 502.0V773.6 M475.71 502.0V773.6 M497.82 502.0V773.6 M519.93 502.0V773.6 M542.04 502.0V773.6 M449.6 512.72H544.3 M449.6 530.59H544.3 M449.6 548.46H544.3 M449.6 566.33H544.3 M449.6 584.19H544.3 M449.6 602.06H544.3 M449.6 619.93H544.3 M449.6 637.80H544.3 M449.6 655.67H544.3 M449.6 673.54H544.3 M449.6 691.41H544.3 M449.6 709.27H544.3 M449.6 727.14H544.3 M449.6 745.01H544.3 M449.6 762.88H544.3" stroke="#e9e9e9" stroke-width="0.5" fill="none"/>
<rect x="453.60" y="504.77" width="86.01" height="15.90" fill="#ffee00"/>
<line x1="447.6" x2="449.6" y1="512.72" y2="512.72" stroke="#444" stroke-width="0.5"/>
<text x="446.4" y="515.32" font-size="6" text-anchor="end" style="fill:#4d4d4d">axonogenesis</text>
<rect x="453.60" y="522.64" width="75.98" height="15.90" fill="#c0e200"/>
<line x1="447.6" x2="449.6" y1="530.59" y2="530.59" stroke="#444" stroke-width="0.5"/>
<text x="446.4" y="530.29" font-size="6" text-anchor="end" style="fill:#4d4d4d">regulation of neuron</text>
<text x="446.4" y="536.59" font-size="6" text-anchor="end" style="fill:#4d4d4d">projection development</text>
<rect x="453.60" y="540.51" width="54.02" height="15.90" fill="#00cc62"/>
<line x1="447.6" x2="449.6" y1="548.46" y2="548.46" stroke="#444" stroke-width="0.5"/>
<text x="446.4" y="551.06" font-size="6" text-anchor="end" style="fill:#4d4d4d">sensory system development</text>
<rect x="453.60" y="558.37" width="47.02" height="15.90" fill="#00bc80"/>
<line x1="447.6" x2="449.6" y1="566.33" y2="566.33" stroke="#444" stroke-width="0.5"/>
<text x="446.4" y="568.93" font-size="6" text-anchor="end" style="fill:#4d4d4d">eye development</text>
<rect x="453.60" y="576.24" width="42.38" height="15.90" fill="#009092"/>
<line x1="447.6" x2="449.6" y1="584.19" y2="584.19" stroke="#444" stroke-width="0.5"/>
<text x="446.4" y="586.79" font-size="6" text-anchor="end" style="fill:#4d4d4d">Wnt signaling pathway</text>
<rect x="453.60" y="594.11" width="66.04" height="15.90" fill="#00ac88"/>
<line x1="447.6" x2="449.6" y1="602.06" y2="602.06" stroke="#444" stroke-width="0.5"/>
<text x="446.4" y="604.66" font-size="6" text-anchor="end" style="fill:#4d4d4d">neuronal cell body</text>
<rect x="453.60" y="611.98" width="58.00" height="15.90" fill="#007a98"/>
<line x1="447.6" x2="449.6" y1="619.93" y2="619.93" stroke="#444" stroke-width="0.5"/>
<text x="446.4" y="622.53" font-size="6" text-anchor="end" style="fill:#4d4d4d">cell body</text>
<rect x="453.60" y="629.85" width="49.38" height="15.90" fill="#00b888"/>
<line x1="447.6" x2="449.6" y1="637.80" y2="637.80" stroke="#444" stroke-width="0.5"/>
<text x="446.4" y="640.40" font-size="6" text-anchor="end" style="fill:#4d4d4d">neuron to neuron synapse</text>
<rect x="453.60" y="647.72" width="48.42" height="15.90" fill="#00d052"/>
<line x1="447.6" x2="449.6" y1="655.67" y2="655.67" stroke="#444" stroke-width="0.5"/>
<text x="446.4" y="658.27" font-size="6" text-anchor="end" style="fill:#4d4d4d">postsynaptic density</text>
<rect x="453.60" y="665.59" width="31.18" height="15.90" fill="#00b488"/>
<line x1="447.6" x2="449.6" y1="673.54" y2="673.54" stroke="#444" stroke-width="0.5"/>
<text x="446.4" y="676.14" font-size="6" text-anchor="end" style="fill:#4d4d4d">distal axon</text>
<rect x="453.60" y="683.45" width="21.37" height="15.90" fill="#502088"/>
<line x1="447.6" x2="449.6" y1="691.41" y2="691.41" stroke="#444" stroke-width="0.5"/>
<text x="446.4" y="694.01" font-size="6" text-anchor="end" style="fill:#4d4d4d">protein kinase activity</text>
<rect x="453.60" y="701.32" width="16.36" height="15.90" fill="#483890"/>
<line x1="447.6" x2="449.6" y1="709.27" y2="709.27" stroke="#444" stroke-width="0.5"/>
<text x="446.4" y="711.87" font-size="6" text-anchor="end" style="fill:#4d4d4d">actin binding</text>
<rect x="453.60" y="719.19" width="15.48" height="15.90" fill="#4e0058"/>
<line x1="447.6" x2="449.6" y1="727.14" y2="727.14" stroke="#444" stroke-width="0.5"/>
<text x="446.4" y="729.74" font-size="6" text-anchor="end" style="fill:#4d4d4d">transcription factor binding</text>
<rect x="453.60" y="737.06" width="11.42" height="15.90" fill="#10a898"/>
<line x1="447.6" x2="449.6" y1="745.01" y2="745.01" stroke="#444" stroke-width="0.5"/>
<text x="446.4" y="747.61" font-size="6" text-anchor="end" style="fill:#4d4d4d">calmodulin binding</text>
<rect x="453.60" y="754.93" width="10.47" height="15.90" fill="#423890"/>
<line x1="447.6" x2="449.6" y1="762.88" y2="762.88" stroke="#444" stroke-width="0.5"/>
<text x="446.4" y="765.48" font-size="6" text-anchor="end" style="fill:#4d4d4d">protein serine kinase activity</text>
<line x1="449.6" x2="544.3" y1="593.13" y2="593.13" stroke="#333" stroke-width="0.6" stroke-dasharray="2.6 2"/>
<line x1="449.6" x2="544.3" y1="682.47" y2="682.47" stroke="#333" stroke-width="0.6" stroke-dasharray="2.6 2"/>
<rect x="449.6" y="502.0" width="94.70" height="271.60" fill="none" stroke="#444" stroke-width="0.6"/>
<line x1="453.60" x2="453.60" y1="773.6" y2="775.6" stroke="#444" stroke-width="0.5"/>
<text x="453.60" y="782.2" font-size="6" text-anchor="middle" style="fill:#4d4d4d">0</text>
<line x1="475.71" x2="475.71" y1="773.6" y2="775.6" stroke="#444" stroke-width="0.5"/>
<text x="475.71" y="782.2" font-size="6" text-anchor="middle" style="fill:#4d4d4d">3</text>
<line x1="497.82" x2="497.82" y1="773.6" y2="775.6" stroke="#444" stroke-width="0.5"/>
<text x="497.82" y="782.2" font-size="6" text-anchor="middle" style="fill:#4d4d4d">6</text>
<line x1="519.93" x2="519.93" y1="773.6" y2="775.6" stroke="#444" stroke-width="0.5"/>
<text x="519.93" y="782.2" font-size="6" text-anchor="middle" style="fill:#4d4d4d">9</text>
<line x1="542.04" x2="542.04" y1="773.6" y2="775.6" stroke="#444" stroke-width="0.5"/>
<text x="542.04" y="782.2" font-size="6" text-anchor="middle" style="fill:#4d4d4d">12</text>
<text x="497.5" y="794" font-size="8.3" text-anchor="middle" style="fill:#111">-log<tspan dy="1.5" font-size="5">10</tspan><tspan dy="-1.5" font-size="8.3"> adj. P</tspan></text>
<text transform="translate(538.7 569.6) rotate(-90)" class="b" font-size="9.2" text-anchor="middle">GO:BP</text>
<text transform="translate(538.7 658.8) rotate(-90)" class="b" font-size="9.2" text-anchor="middle">GO:CC</text>
<text transform="translate(538.7 751.3) rotate(-90)" class="b" font-size="9.2" text-anchor="middle">GO:MF</text>
<defs><linearGradient id="svir" x1="0" y1="0" x2="1" y2="0"><stop offset="0.0" stop-color="#4a0055"/><stop offset="0.08" stop-color="#501888"/><stop offset="0.16" stop-color="#483890"/><stop offset="0.25" stop-color="#3a4e96"/><stop offset="0.33" stop-color="#23649a"/><stop offset="0.42" stop-color="#107898"/><stop offset="0.5" stop-color="#009092"/><stop offset="0.58" stop-color="#00a48c"/><stop offset="0.66" stop-color="#00b684"/><stop offset="0.74" stop-color="#00c86a"/><stop offset="0.8" stop-color="#10d250"/><stop offset="0.86" stop-color="#70da28"/><stop offset="0.92" stop-color="#c0e200"/><stop offset="1.0" stop-color="#ffee00"/></linearGradient></defs>
<text x="497" y="481.4" font-size="8.2" text-anchor="middle" style="fill:#111">Gene Ratio</text>
<rect x="471" y="484.6" width="60.6" height="4.4" fill="url(#svir)"/>
<text x="476" y="497.5" font-size="7.3" text-anchor="middle" style="fill:#111">0.12</text>
<text x="497.2" y="497.5" font-size="7.3" text-anchor="middle" style="fill:#111">0.14</text>
<text x="518.4" y="497.5" font-size="7.3" text-anchor="middle" style="fill:#111">0.16</text>
</svg>
</body></html>
